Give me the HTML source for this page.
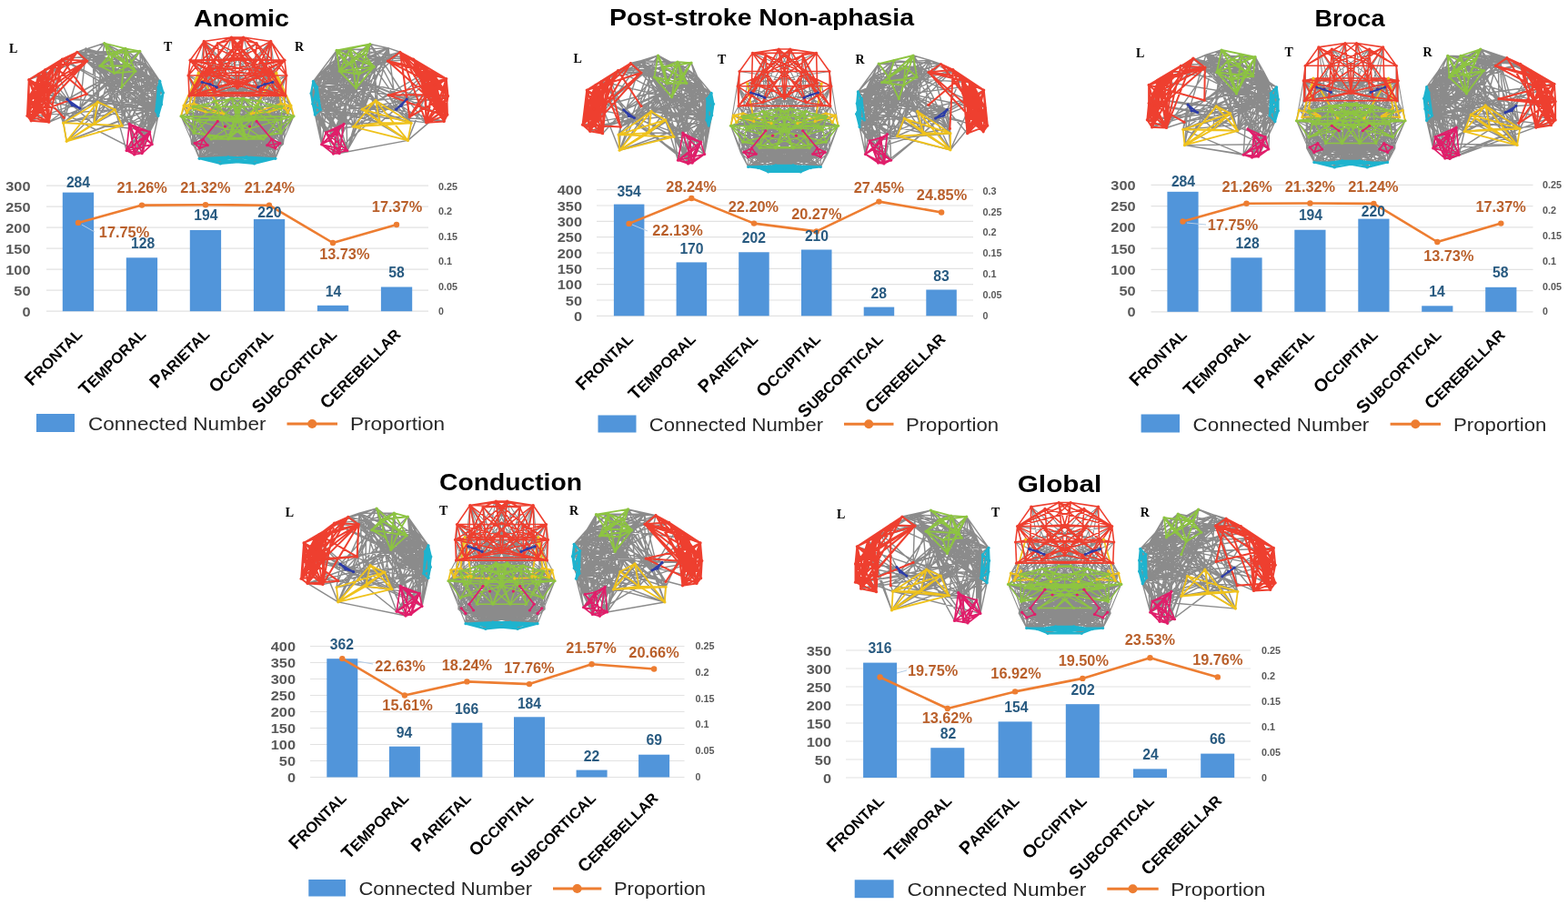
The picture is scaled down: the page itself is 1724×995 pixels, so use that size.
<!DOCTYPE html>
<html><head><meta charset="utf-8"><title>Brain network connectivity by aphasia type</title>
<style>html,body{margin:0;padding:0;background:#fff;}svg{display:block;}</style></head>
<body><svg width="1724" height="995" viewBox="0 0 1724 995">
<rect width="1724" height="995" fill="#fff"/>
<text x="265.5" y="28.5" font-family="'Liberation Sans', Arial, sans-serif" font-size="26.3" font-weight="bold" fill="#000" text-anchor="middle" textLength="105.0" lengthAdjust="spacingAndGlyphs">Anomic</text>
<text x="10.0" y="58.0" font-family="'Liberation Serif', 'Times New Roman', serif" font-size="14" font-weight="bold" fill="#000">L</text>
<text x="180.0" y="55.5" font-family="'Liberation Serif', 'Times New Roman', serif" font-size="14" font-weight="bold" fill="#000">T</text>
<text x="324.0" y="56.0" font-family="'Liberation Serif', 'Times New Roman', serif" font-size="14" font-weight="bold" fill="#000">R</text>
<g transform="translate(27.5,47.5) scale(0.6100,0.4900)" fill="none" stroke-linecap="round"><path d="M43 116L236 152M7 121L246 137M36 60L69 179M43 177L131 132M43 116L131 132M21 162L162 149M52 51L75 220M19 125L211 247M7 82L85 139M11 174L85 139M36 60L85 139M43 177L85 139M43 116L76 126M43 116L85 139M7 121L99 146M25 69L85 139M52 51L85 139M7 82L123 29M94 20L143 0M94 20L207 18M94 20L174 99M94 20L186 51M94 20L155 23M94 20L199 63M94 20L161 67M112 40L174 99M112 40L135 51M112 40L155 23M67 36L155 23M94 20L110 12M94 20L228 77M94 20L149 88M94 20L123 29M112 40L110 12M112 40L211 112M112 40L149 88M112 40L223 150M112 40L123 29M67 36L149 88M67 36L223 150M111 114L207 18M111 114L161 67M111 114L162 149M111 114L225 199M111 114L99 146M70 167L76 126M111 114L223 150M143 0L240 163M143 0L236 152M207 18L243 85M207 18L240 99M207 18L236 152M174 99L246 137M174 99L240 99M174 99L236 152M135 51L243 85M135 51L246 137M135 51L240 163M135 51L240 99M186 51L243 85M186 51L246 137M186 51L240 99M155 23L240 163M155 23L240 99M155 23L236 152M199 63L243 85M199 63L246 137M161 67L246 137M161 67L240 99M181 12L243 85M181 12L246 137M143 0L131 132M143 0L124 182M207 18L69 179M207 18L124 182M174 99L175 185M186 51L69 179M186 51L131 132M186 51L124 182M155 23L162 149M199 63L175 185M181 12L162 149M207 18L215 213M135 51L211 247M135 51L188 181M186 51L76 126M186 51L99 146M161 67L76 126M143 0L219 48M143 0L228 77M143 0L123 29M207 18L219 48M207 18L228 77M207 18L211 112M207 18L149 88M207 18L123 29M174 99L110 12M174 99L219 48M174 99L228 77M174 99L187 139M135 51L110 12M135 51L219 48M135 51L228 77M135 51L149 88M135 51L187 139M135 51L123 29M186 51L228 77M186 51L211 112M186 51L223 150M186 51L123 29M155 23L228 77M155 23L211 112M155 23L223 150M155 23L123 29M199 63L110 12M199 63L219 48M199 63L228 77M199 63L211 112M199 63L149 88M199 63L123 29M161 67L110 12M161 67L228 77M161 67L149 88M161 67L223 150M161 67L187 139M181 12L149 88M181 12L187 139M181 12L123 29M243 85L131 132M246 137L69 179M246 137L75 220M236 152L162 149M243 85L211 247M243 85L225 199M243 85L215 213M246 137L203 193M246 137L215 213M246 137L188 181M240 163L183 241M240 163L229 227M240 163L225 199M240 163L215 213M240 163L188 181M240 99L197 250M240 99L211 247M240 99L203 193M240 99L215 213M236 152L183 241M236 152L197 250M236 152L211 247M236 152L225 199M236 152L203 193M246 137L76 126M243 85L219 48M243 85L228 77M249 111L219 48M249 111L211 112M249 111L149 88M249 111L187 139M249 111L123 29M246 137L219 48M246 137L228 77M246 137L211 112M246 137L149 88M246 137L223 150M246 137L187 139M240 163L149 88M240 163L187 139M240 99L110 12M240 99L228 77M240 99L211 112M240 99L223 150M236 152L110 12M236 152L228 77M236 152L223 150M236 152L187 139M175 185L188 181M131 132L188 181M124 182L203 193M124 182L85 139M69 179L110 12M69 179L219 48M69 179L149 88M69 179L187 139M75 220L219 48M75 220L223 150M175 185L211 112M175 185L123 29M131 132L219 48M131 132L187 139M131 132L123 29M162 149L219 48M162 149L187 139M124 182L228 77M124 182L149 88M124 182L187 139M124 182L123 29M183 241L149 88M197 250L223 150M197 250L187 139M211 247L211 112M225 199L219 48M225 199L211 112M225 199L123 29M203 193L223 150M203 193L123 29M188 181L228 77M188 181L211 112M99 146L110 12M110 12L219 48M110 12L211 112M110 12L223 150M110 12L187 139M110 12L123 29M219 48L228 77M219 48L211 112M219 48L123 29M228 77L211 112M228 77L187 139M228 77L123 29M211 112L223 150M211 112L187 139M149 88L123 29M223 150L187 139M187 139L123 29" stroke="#8B8B8B" stroke-width="1.45" vector-effect="non-scaling-stroke"/><path d="M69 179L75 220M69 179L175 185M69 179L131 132M69 179L124 182M75 220L175 185M75 220L131 132M75 220L162 149M75 220L124 182M175 185L162 149M131 132L162 149M131 132L124 182M162 149L124 182" stroke="#EFC21C" stroke-width="1.80" vector-effect="non-scaling-stroke"/><path d="M143 0L155 23M143 0L199 63M143 0L161 67M143 0L181 12M207 18L186 51M207 18L155 23M207 18L181 12M174 99L199 63M174 99L181 12M135 51L186 51M135 51L155 23M135 51L161 67M135 51L181 12M186 51L199 63M186 51L161 67M186 51L181 12M155 23L199 63M155 23L161 67M155 23L181 12M199 63L161 67M199 63L181 12" stroke="#8DC441" stroke-width="1.80" vector-effect="non-scaling-stroke"/><path d="M243 85L249 111M243 85L240 163M243 85L240 99M243 85L236 152M249 111L246 137M249 111L240 163M249 111L240 99M249 111L236 152M246 137L240 163M246 137L240 99M246 137L236 152M240 163L236 152M240 99L236 152" stroke="#1EB3CE" stroke-width="2.20" vector-effect="non-scaling-stroke"/><path d="M183 241L197 250M183 241L211 247M183 241L229 227M183 241L225 199M183 241L203 193M183 241L215 213M183 241L188 181M197 250L211 247M197 250L225 199M197 250L203 193M197 250L215 213M197 250L188 181M211 247L229 227M211 247L225 199M211 247L215 213M211 247L188 181M229 227L225 199M229 227L203 193M229 227L215 213M229 227L188 181M225 199L203 193M225 199L215 213M225 199L188 181M203 193L215 213M203 193L188 181" stroke="#E01E6A" stroke-width="1.70" vector-effect="non-scaling-stroke"/><path d="M7 82L4 163M7 82L36 60M7 82L43 177M7 82L43 116M7 82L19 125M7 82L7 121M7 82L25 69M7 82L32 97M7 82L52 51M4 163L11 174M4 163L43 177M4 163L43 116M4 163L19 125M4 163L7 121M4 163L25 69M4 163L21 162M4 163L32 97M4 163L52 51M11 174L36 60M11 174L43 177M11 174L43 116M11 174L19 125M11 174L7 121M11 174L21 162M11 174L32 97M11 174L52 51M36 60L43 177M36 60L43 116M36 60L19 125M36 60L7 121M36 60L25 69M36 60L21 162M36 60L32 97M36 60L52 51M43 177L43 116M43 177L19 125M43 177L7 121M43 177L25 69M43 177L21 162M43 177L32 97M43 116L7 121M43 116L25 69M43 116L21 162M43 116L32 97M43 116L52 51M19 125L7 121M19 125L25 69M19 125L21 162M19 125L32 97M19 125L52 51M7 121L21 162M7 121L32 97M7 121L52 51M25 69L21 162M25 69L32 97M25 69L52 51M21 162L32 97M7 82L67 36M11 174L112 40M11 174L67 36M36 60L94 20M36 60L67 36M43 177L67 36M43 116L94 20M43 116L112 40M43 116L67 36M19 125L112 40M25 69L94 20M21 162L112 40M32 97L94 20M32 97L112 40M52 51L94 20M52 51L112 40M52 51L67 36M7 82L70 167M4 163L111 114M52 51L111 114M94 20L112 40M94 20L67 36M112 40L67 36M67 36L111 114" stroke="#EE3F2F" stroke-width="2.00" vector-effect="non-scaling-stroke"/><path d="M76 126L85 139M76 126L99 146M85 139L99 146" stroke="#2C3CA8" stroke-width="1.80" vector-effect="non-scaling-stroke"/><ellipse cx="69" cy="179" rx="2.6" ry="3.3" fill="#EFC21C"/><ellipse cx="75" cy="220" rx="2.6" ry="3.3" fill="#EFC21C"/><ellipse cx="175" cy="185" rx="2.6" ry="3.3" fill="#EFC21C"/><ellipse cx="131" cy="132" rx="2.6" ry="3.3" fill="#EFC21C"/><ellipse cx="162" cy="149" rx="2.6" ry="3.3" fill="#EFC21C"/><ellipse cx="124" cy="182" rx="2.6" ry="3.3" fill="#EFC21C"/><ellipse cx="143" cy="0" rx="2.6" ry="3.3" fill="#8DC441"/><ellipse cx="207" cy="18" rx="2.6" ry="3.3" fill="#8DC441"/><ellipse cx="174" cy="99" rx="2.6" ry="3.3" fill="#8DC441"/><ellipse cx="135" cy="51" rx="2.6" ry="3.3" fill="#8DC441"/><ellipse cx="186" cy="51" rx="2.6" ry="3.3" fill="#8DC441"/><ellipse cx="155" cy="23" rx="2.6" ry="3.3" fill="#8DC441"/><ellipse cx="199" cy="63" rx="2.6" ry="3.3" fill="#8DC441"/><ellipse cx="161" cy="67" rx="2.6" ry="3.3" fill="#8DC441"/><ellipse cx="181" cy="12" rx="2.6" ry="3.3" fill="#8DC441"/><ellipse cx="243" cy="85" rx="2.6" ry="3.3" fill="#1EB3CE"/><ellipse cx="249" cy="111" rx="2.6" ry="3.3" fill="#1EB3CE"/><ellipse cx="246" cy="137" rx="2.6" ry="3.3" fill="#1EB3CE"/><ellipse cx="240" cy="163" rx="2.6" ry="3.3" fill="#1EB3CE"/><ellipse cx="240" cy="99" rx="2.6" ry="3.3" fill="#1EB3CE"/><ellipse cx="236" cy="152" rx="2.6" ry="3.3" fill="#1EB3CE"/><ellipse cx="183" cy="241" rx="2.6" ry="3.3" fill="#E01E6A"/><ellipse cx="197" cy="250" rx="2.6" ry="3.3" fill="#E01E6A"/><ellipse cx="211" cy="247" rx="2.6" ry="3.3" fill="#E01E6A"/><ellipse cx="229" cy="227" rx="2.6" ry="3.3" fill="#E01E6A"/><ellipse cx="225" cy="199" rx="2.6" ry="3.3" fill="#E01E6A"/><ellipse cx="203" cy="193" rx="2.6" ry="3.3" fill="#E01E6A"/><ellipse cx="215" cy="213" rx="2.6" ry="3.3" fill="#E01E6A"/><ellipse cx="188" cy="181" rx="2.6" ry="3.3" fill="#E01E6A"/><ellipse cx="7" cy="82" rx="2.6" ry="3.3" fill="#EE3F2F"/><ellipse cx="4" cy="163" rx="2.6" ry="3.3" fill="#EE3F2F"/><ellipse cx="11" cy="174" rx="2.6" ry="3.3" fill="#EE3F2F"/><ellipse cx="36" cy="60" rx="2.6" ry="3.3" fill="#EE3F2F"/><ellipse cx="43" cy="177" rx="2.6" ry="3.3" fill="#EE3F2F"/><ellipse cx="43" cy="116" rx="2.6" ry="3.3" fill="#EE3F2F"/><ellipse cx="19" cy="125" rx="2.6" ry="3.3" fill="#EE3F2F"/><ellipse cx="7" cy="121" rx="2.6" ry="3.3" fill="#EE3F2F"/><ellipse cx="25" cy="69" rx="2.6" ry="3.3" fill="#EE3F2F"/><ellipse cx="21" cy="162" rx="2.6" ry="3.3" fill="#EE3F2F"/><ellipse cx="32" cy="97" rx="2.6" ry="3.3" fill="#EE3F2F"/><ellipse cx="52" cy="51" rx="2.6" ry="3.3" fill="#EE3F2F"/><ellipse cx="94" cy="20" rx="2.6" ry="3.3" fill="#EE3F2F"/><ellipse cx="112" cy="40" rx="2.6" ry="3.3" fill="#EE3F2F"/><ellipse cx="67" cy="36" rx="2.6" ry="3.3" fill="#EE3F2F"/><ellipse cx="111" cy="114" rx="2.6" ry="3.3" fill="#EE3F2F"/><ellipse cx="70" cy="167" rx="2.6" ry="3.3" fill="#EE3F2F"/><ellipse cx="76" cy="126" rx="2.6" ry="3.3" fill="#2C3CA8"/><ellipse cx="85" cy="139" rx="2.6" ry="3.3" fill="#2C3CA8"/><ellipse cx="99" cy="146" rx="2.6" ry="3.3" fill="#2C3CA8"/></g>
<g transform="translate(198.0,41.0) scale(0.5040,0.5600)" fill="none" stroke-linecap="round"><path d="M52 8L80 98M198 8L170 98M112 0L80 98M138 0L170 98M138 0L48 88M112 0L202 88M167 12L65 92M83 12L185 92M75 45L65 92M175 45L185 92M125 42L48 88M125 42L202 88M50 70L65 92M200 70L185 92M50 70L185 92M200 70L65 92M20 115L65 92M230 115L185 92M40 110L170 98M210 110L80 98M88 75L65 92M162 75L185 92M162 75L80 98M88 75L170 98M125 100L80 98M125 100L170 98M138 0L30 130M112 0L220 130M82 12L40 70M167 12L210 70M22 45L155 150M228 45L95 150M75 45L15 148M175 45L235 148M175 45L40 70M75 45L210 70M50 70L30 130M200 70L220 130M40 110L8 134M210 110L242 134M40 110L55 146M210 110L195 146M88 75L95 150M162 75L155 150M125 100L30 130M125 100L220 130M198 8L30 188M52 8L220 188M75 45L80 136M175 45L170 136M75 45L38 162M175 45L212 162M75 45L105 200M175 45L145 200M125 42L80 136M125 42L170 136M18 75L175 125M232 75L75 125M18 75L125 138M232 75L125 138M50 70L162 158M200 70L88 158M20 115L30 188M230 115L220 188M40 110L38 162M210 110L212 162M162 75L88 158M88 75L162 158M125 100L88 158M125 100L162 158M75 108L125 138M175 108L125 138M125 100L42 218M125 100L208 218M52 8L25 210M198 8L225 210M52 8L125 75M198 8L125 75M52 8L88 205M198 8L162 205M52 8L162 205M198 8L88 205M52 8L100 220M198 8L150 220M22 45L225 210M228 45L25 210M18 75L55 175M232 75L195 175M18 75L88 205M232 75L162 205M18 75L125 208M232 75L125 208M20 115L88 205M230 115L162 205M40 110L25 210M210 110L225 210M40 110L150 220M210 110L100 220M162 75L55 175M88 75L195 175M125 100L125 208M125 100L125 208M75 108L75 225M175 108L175 225M75 108L150 150M175 108L100 150M75 108L62 218M175 108L188 218M65 92L30 130M185 92L220 130M185 92L30 130M65 92L220 130M48 88L30 188M202 88L220 188M65 92L28 136M185 92L222 136M80 98L145 200M170 98L105 200M170 98L30 188M80 98L220 188M48 88L150 220M202 88L100 220M48 88L62 218M202 88L188 218M65 92L25 210M185 92L225 210M65 92L125 75M185 92L125 75M80 98L50 150M170 98L200 150M170 98L55 175M80 98L195 175M8 134L38 162M242 134L212 162M8 134L125 165M242 134L125 165M8 134L30 188M242 134L220 188M15 148L2 155M235 148L248 155M15 148L88 158M235 148L162 158M15 148L105 200M235 148L145 200M15 148L30 188M235 148L220 188M40 70L112 120M210 70L138 120M40 70L2 155M210 70L248 155M40 70L170 136M210 70L80 136M40 70L88 158M210 70L162 158M40 70L30 188M210 70L220 188M30 130L28 136M220 130L222 136M30 130L38 162M220 130L212 162M30 130L212 162M220 130L38 162M30 130L88 158M220 130L162 158M30 130L105 200M220 130L145 200M55 146L80 136M195 146L170 136M55 146L88 158M195 146L162 158M95 150L138 120M155 150L112 120M95 150L105 200M155 150L145 200M95 150L30 188M155 150L220 188M155 150L2 155M95 150L248 155M15 148L218 208M235 148L32 208M30 130L82 165M220 130L167 165M8 134L88 205M242 134L162 205M8 134L125 208M242 134L125 208M15 148L125 75M235 148L125 75M15 148L50 150M235 148L200 150M15 148L20 175M235 148L230 175M40 70L75 225M210 70L175 225M40 70L125 75M210 70L125 75M40 70L62 218M210 70L188 218M30 130L62 218M220 130L188 218M55 146L25 210M195 146L225 210M55 146L150 220M195 146L100 220M55 146L50 150M195 146L200 150M195 146L55 175M55 146L195 175M95 150L150 220M155 150L100 220M155 150L75 225M95 150L175 225M8 134L42 238M242 134L208 238M15 148L162 248M235 148L88 248M55 146L42 238M195 146L208 238M55 146L88 248M195 146L162 248M55 146L162 248M195 146L88 248M55 146L125 242M195 146L125 242M75 125L42 218M175 125L208 218M112 120L50 200M138 120L200 200M2 155L42 218M248 155L208 218M28 136L98 175M222 136L152 175M28 136L167 165M222 136L83 165M80 136L82 165M170 136L167 165M170 136L32 208M80 136L218 208M38 162L200 200M212 162L50 200M38 162L152 175M212 162L98 175M38 162L167 165M212 162L83 165M88 158L42 218M162 158L208 218M88 158L60 212M162 158L190 212M162 158L60 212M88 158L190 212M125 165L42 218M125 165L208 218M125 165L50 200M125 165L200 200M125 165L82 165M125 165L167 165M68 200L82 165M182 200L167 165M68 200L167 165M182 200L83 165M182 200L50 200M68 200L200 200M105 200L32 208M145 200L218 208M30 188L167 165M220 188L83 165M75 125L125 75M175 125L125 75M75 125L125 208M175 125L125 208M75 125L20 175M175 125L230 175M112 120L125 75M138 120L125 75M112 120L100 220M138 120L150 220M138 120L55 175M112 120L195 175M138 120L112 215M112 120L138 215M2 155L75 225M248 155L175 225M2 155L100 220M248 155L150 220M2 155L62 218M248 155L188 218M2 155L20 175M248 155L230 175M28 136L125 208M222 136L125 208M222 136L25 210M27 136L225 210M80 136L50 150M170 136L200 150M80 136L20 175M170 136L230 175M125 138L100 150M125 138L150 150M125 138L112 215M125 138L138 215M125 138L25 210M125 138L225 210M38 162L75 225M212 162L175 225M212 162L20 175M38 162L230 175M88 158L100 150M162 158L150 150M88 158L55 175M162 158L195 175M88 158L138 215M162 158L112 215M88 158L162 205M162 158L88 205M88 158L50 150M162 158L200 150M162 158L88 205M88 158L162 205M162 158L62 218M88 158L188 218M125 165L20 175M125 165L230 175M68 200L55 175M182 200L195 175M68 200L50 150M182 200L200 150M105 200L75 225M145 200L175 225M105 200L125 225M145 200L125 225M105 200L55 175M145 200L195 175M105 200L112 215M145 200L138 215M105 200L138 215M145 200L112 215M105 200L25 210M145 200L225 210M105 200L100 220M145 200L150 220M145 200L100 220M105 200L150 220M30 188L150 150M220 188L100 150M30 188L55 175M220 188L195 175M30 188L138 215M220 188L112 215M30 188L200 150M220 188L50 150M75 125L162 248M175 125L88 248M112 120L105 235M138 120L145 235M2 155L145 235M248 155L105 235M28 136L88 248M222 136L162 248M80 136L42 238M170 136L208 238M80 136L88 248M170 136L162 248M125 138L125 242M125 138L125 242M88 158L88 248M162 158L162 248M88 158L162 248M162 158L88 248M68 200L42 238M182 200L208 238M68 200L125 242M182 200L125 242M68 200L65 240M182 200L185 240M182 200L42 238M68 200L208 238M105 200L42 238M145 200L208 238M105 200L88 248M145 200L162 248M30 188L145 235M220 188L105 235M42 218L55 175M208 218L195 175M42 218L195 175M208 218L55 175M42 218L162 205M208 218L88 205M42 218L20 175M208 218L230 175M60 212L75 225M190 212L175 225M60 212L88 205M190 212L162 205M60 212L62 218M190 212L188 218M50 200L175 225M200 200L75 225M50 200L55 175M200 200L195 175M50 200L112 215M200 200L138 215M50 200L25 210M200 200L225 210M50 200L62 218M200 200L188 218M50 200L50 150M200 200L200 150M200 200L20 175M50 200L230 175M32 208L55 175M218 208L195 175M32 208L112 215M218 208L138 215M32 208L88 205M218 208L162 205M32 208L150 220M218 208L100 220M32 208L62 218M218 208L188 218M32 208L50 150M218 208L200 150M32 208L20 175M218 208L230 175M218 208L20 175M32 208L230 175M98 175L125 208M152 175L125 208M98 175L100 220M152 175L150 220M98 175L150 220M152 175L100 220M98 175L20 175M152 175L230 175M82 165L75 225M167 165L175 225M82 165L125 225M167 165L125 225M82 165L112 215M167 165L138 215M82 165L138 215M167 165L112 215M82 165L62 218M167 165L188 218M42 218L88 248M208 218L162 248M42 218L105 235M208 218L145 235M208 218L42 238M43 218L208 238M60 212L42 238M190 212L208 238M60 212L88 248M190 212L162 248M60 212L185 240M190 212L65 240M50 200L125 242M200 200L125 242M50 200L65 240M200 200L185 240M32 208L208 238M218 208L43 238M98 175L88 248M152 175L162 248M98 175L105 235M152 175L145 235M98 175L65 240M152 175L185 240M152 175L65 240M98 175L185 240M82 165L162 248M167 165L88 248M167 165L42 238M83 165L208 238M75 225L150 150M175 225L100 150M75 225L55 175M175 225L195 175M75 225L162 205M175 225L88 205M75 225L125 208M175 225L125 208M75 225L62 218M175 225L188 218M75 225L50 150M175 225L200 150M75 225L20 175M175 225L230 175M175 225L62 218M75 225L188 218M175 225L20 175M75 225L230 175M125 225L88 205M125 225L162 205M125 225L125 208M125 225L125 208M125 225L100 220M125 225L150 220M125 225L62 218M125 225L188 218M125 225L50 150M125 225L200 150M100 150L112 215M150 150L138 215M100 150L25 210M150 150L225 210M100 150L100 220M150 150L150 220M100 150L150 220M150 150L100 220M100 150L62 218M150 150L188 218M100 150L20 175M150 150L230 175M150 150L55 175M100 150L195 175M150 150L88 205M100 150L162 205M150 150L62 218M100 150L188 218M150 150L20 175M100 150L230 175M55 175L112 215M195 175L138 215M55 175L138 215M195 175L112 215M55 175L25 210M195 175L225 210M55 175L150 220M195 175L100 220M112 215L138 215M138 215L112 215M112 215L88 205M138 215L162 205M112 215L50 150M138 215L200 150M112 215L20 175M138 215L230 175M138 215L88 205M112 215L162 205M138 215L100 220M112 215L150 220M138 215L50 150M112 215L200 150M25 210L188 218M225 210L62 218M25 210L20 175M225 210L230 175M88 205L125 208M162 205L125 208M88 205L100 220M162 205L150 220M88 205L62 218M162 205L188 218M88 205L50 150M162 205L200 150M88 205L20 175M162 205L230 175M125 208L100 220M125 208L150 220M100 220L62 218M150 220L188 218M62 218L20 175M188 218L230 175M50 150L20 175M200 150L230 175M75 225L42 238M175 225L208 238M75 225L88 248M175 225L162 248M75 225L105 235M175 225L145 235M75 225L65 240M175 225L185 240M175 225L42 238M75 225L208 238M125 225L42 238M125 225L208 238M125 225L125 242M125 225L125 242M125 225L105 235M125 225L145 235M100 150L125 242M150 150L125 242M100 150L105 235M150 150L145 235M100 150L65 240M150 150L185 240M150 150L42 238M100 150L208 238M55 175L42 238M195 175L208 238M55 175L105 235M195 175L145 235M55 175L185 240M195 175L65 240M112 215L42 238M138 215L208 238M112 215L88 248M138 215L162 248M112 215L125 242M138 215L125 242M112 215L105 235M138 215L145 235M112 215L65 240M138 215L185 240M138 215L88 248M112 215L162 248M138 215L105 235M112 215L145 235M138 215L65 240M112 215L185 240M25 210L208 238M225 210L43 238M25 210L162 248M225 210L88 248M25 210L105 235M225 210L145 235M25 210L145 235M225 210L105 235M25 210L65 240M225 210L185 240M25 210L185 240M225 210L65 240M88 205L42 238M162 205L208 238M88 205L162 248M162 205L88 248M88 205L105 235M162 205L145 235M88 205L65 240M162 205L185 240M162 205L88 248M88 205L162 248M162 205L65 240M88 205L185 240M125 208L88 248M125 208L162 248M125 208L65 240M125 208L185 240M100 220L88 248M150 220L162 248M100 220L125 242M150 220L125 242M100 220L105 235M150 220L145 235M100 220L145 235M150 220L105 235M100 220L65 240M150 220L185 240M62 218L42 238M188 218L208 238M62 218L88 248M188 218L162 248M62 218L162 248M188 218L88 248M62 218L125 242M188 218L125 242M62 218L105 235M188 218L145 235M62 218L145 235M188 218L105 235M62 218L65 240M188 218L185 240M50 150L162 248M200 150L88 248M50 150L125 242M200 150L125 242M20 115L8 134M230 115L242 134M30 188L42 218M220 188L208 218M42 218L42 238M208 218L208 238M2 155L42 238M248 155L208 238" stroke="#8B8B8B" stroke-width="1.09" vector-effect="non-scaling-stroke"/><path d="M8 134L15 148M242 134L235 148M8 134L40 70M242 134L210 70M8 134L30 130M242 134L220 130M8 134L55 146M242 134L195 146M15 148L40 70M235 148L210 70M15 148L30 130M235 148L220 130M40 70L30 130M210 70L220 130M40 70L95 150M210 70L155 150M30 130L55 146M220 130L195 146M30 130L95 150M220 130L155 150M55 146L95 150M195 146L155 150M8 134L2 155M242 134L248 155" stroke="#EFC21C" stroke-width="1.80" vector-effect="non-scaling-stroke"/><path d="M75 125L138 120M175 125L112 120M75 125L2 155M175 125L248 155M75 125L80 136M175 125L170 136M75 125L145 200M175 125L105 200M112 120L138 120M138 120L112 120M112 120L28 136M138 120L222 136M112 120L80 136M138 120L170 136M112 120L125 165M138 120L125 165M112 120L30 188M138 120L220 188M138 120L88 158M112 120L162 158M138 120L105 200M112 120L145 200M2 155L38 162M248 155L212 162M2 155L212 162M248 155L38 162M2 155L68 200M248 155L182 200M2 155L182 200M248 155L68 200M28 136L80 136M222 136L170 136M28 136L125 165M222 136L125 165M28 136L30 188M222 136L220 188M80 136L125 138M170 136L125 138M80 136L38 162M170 136L212 162M80 136L88 158M170 136L162 158M170 136L68 200M80 136L182 200M125 138L125 165M125 138L125 165M125 138L105 200M125 138L145 200M38 162L212 162M212 162L38 162M38 162L125 165M212 162L125 165M38 162L68 200M212 162L182 200M38 162L30 188M212 162L220 188M88 158L105 200M162 158L145 200M88 158L145 200M162 158L105 200M125 165L105 200M125 165L145 200M105 200L145 200M145 200L105 200M105 200L30 188M145 200L220 188M145 200L30 188M105 200L220 188M2 155L30 188M248 155L220 188M28 136L222 136M222 136L27 136M2 155L248 155M248 155L3 155M68 200L182 200M182 200L68 200" stroke="#8DC441" stroke-width="1.35" vector-effect="non-scaling-stroke"/><path d="M42 238L88 248M208 238L162 248M42 238L162 248M208 238L88 248M42 238L105 235M208 238L145 235M88 248L125 242M162 248L125 242M88 248L105 235M162 248L145 235M88 248L65 240M162 248L185 240M162 248L65 240M88 248L185 240M125 242L105 235M125 242L145 235M125 242L65 240M125 242L185 240M145 235L65 240M105 235L185 240M42 238L125 242M208 238L125 242" stroke="#1EB3CE" stroke-width="2.20" vector-effect="non-scaling-stroke"/><path d="M42 218L60 212M208 218L190 212M42 218L50 200M208 218L200 200M42 218L32 208M208 218L218 208M60 212L50 200M190 212L200 200M60 212L32 208M190 212L218 208M50 200L32 208M200 200L218 208M50 200L82 165M200 200L167 165" stroke="#E01E6A" stroke-width="1.70" vector-effect="non-scaling-stroke"/><path d="M52 8L125 42M198 8L125 42M52 8L18 75M198 8L232 75M52 8L88 75M198 8L162 75M52 8L75 108M198 8L175 108M112 0L82 12M138 0L167 12M112 0L125 42M138 0L125 42M112 0L50 70M138 0L200 70M112 0L20 115M138 0L230 115M138 0L82 12M112 0L167 12M138 0L20 115M112 0L230 115M138 0L40 110M112 0L210 110M138 0L88 75M112 0L162 75M138 0L75 108M112 0L175 108M82 12L18 75M167 12L232 75M82 12L20 115M167 12L230 115M167 12L50 70M83 12L200 70M22 45L125 42M228 45L125 42M22 45L50 70M228 45L200 70M22 45L200 70M228 45L50 70M22 45L88 75M228 45L162 75M22 45L162 75M228 45L88 75M22 45L125 100M228 45L125 100M22 45L75 108M228 45L175 108M75 45L50 70M175 45L200 70M75 45L40 110M175 45L210 110M75 45L88 75M175 45L162 75M125 42L50 70M125 42L200 70M18 75L232 75M232 75L18 75M18 75L40 110M232 75L210 110M18 75L162 75M232 75L88 75M50 70L200 70M200 70L50 70M50 70L20 115M200 70L230 115M50 70L75 108M200 70L175 108M50 70L175 108M200 70L75 108M200 70L20 115M50 70L230 115M20 115L88 75M230 115L162 75M20 115L162 75M230 115L88 75M20 115L75 108M230 115L175 108M20 115L175 108M230 115L75 108M40 110L75 108M210 110L175 108M88 75L162 75M162 75L88 75M75 108L175 108M175 108L75 108M52 8L112 0M198 8L138 0M112 0L138 0M138 0L112 0M52 8L22 45M198 8L228 45M22 45L18 75M228 45L232 75M18 75L20 115M232 75L230 115M22 45L228 45M228 45L22 45M18 75L232 75M232 75L17 75M20 115L230 115M230 115L20 115M52 8L50 70M198 8L200 70M82 12L88 75M167 12L162 75M112 0L125 100M138 0L125 100M52 8L125 100M198 8L125 100" stroke="#EE3F2F" stroke-width="1.60" vector-effect="non-scaling-stroke"/><path d="M48 88L65 92M202 88L185 92M65 92L80 98M185 92L170 98" stroke="#2C3CA8" stroke-width="1.80" vector-effect="non-scaling-stroke"/><ellipse cx="8" cy="134" rx="3.2" ry="2.9" fill="#EFC21C"/><ellipse cx="242" cy="134" rx="3.2" ry="2.9" fill="#EFC21C"/><ellipse cx="15" cy="148" rx="3.2" ry="2.9" fill="#EFC21C"/><ellipse cx="235" cy="148" rx="3.2" ry="2.9" fill="#EFC21C"/><ellipse cx="40" cy="70" rx="3.2" ry="2.9" fill="#EFC21C"/><ellipse cx="210" cy="70" rx="3.2" ry="2.9" fill="#EFC21C"/><ellipse cx="30" cy="130" rx="3.2" ry="2.9" fill="#EFC21C"/><ellipse cx="220" cy="130" rx="3.2" ry="2.9" fill="#EFC21C"/><ellipse cx="55" cy="146" rx="3.2" ry="2.9" fill="#EFC21C"/><ellipse cx="195" cy="146" rx="3.2" ry="2.9" fill="#EFC21C"/><ellipse cx="95" cy="150" rx="3.2" ry="2.9" fill="#EFC21C"/><ellipse cx="155" cy="150" rx="3.2" ry="2.9" fill="#EFC21C"/><ellipse cx="75" cy="125" rx="3.2" ry="2.9" fill="#8DC441"/><ellipse cx="175" cy="125" rx="3.2" ry="2.9" fill="#8DC441"/><ellipse cx="112" cy="120" rx="3.2" ry="2.9" fill="#8DC441"/><ellipse cx="138" cy="120" rx="3.2" ry="2.9" fill="#8DC441"/><ellipse cx="2" cy="155" rx="3.2" ry="2.9" fill="#8DC441"/><ellipse cx="248" cy="155" rx="3.2" ry="2.9" fill="#8DC441"/><ellipse cx="28" cy="136" rx="3.2" ry="2.9" fill="#8DC441"/><ellipse cx="222" cy="136" rx="3.2" ry="2.9" fill="#8DC441"/><ellipse cx="80" cy="136" rx="3.2" ry="2.9" fill="#8DC441"/><ellipse cx="170" cy="136" rx="3.2" ry="2.9" fill="#8DC441"/><ellipse cx="125" cy="138" rx="3.2" ry="2.9" fill="#8DC441"/><ellipse cx="38" cy="162" rx="3.2" ry="2.9" fill="#8DC441"/><ellipse cx="212" cy="162" rx="3.2" ry="2.9" fill="#8DC441"/><ellipse cx="88" cy="158" rx="3.2" ry="2.9" fill="#8DC441"/><ellipse cx="162" cy="158" rx="3.2" ry="2.9" fill="#8DC441"/><ellipse cx="125" cy="165" rx="3.2" ry="2.9" fill="#8DC441"/><ellipse cx="68" cy="200" rx="3.2" ry="2.9" fill="#8DC441"/><ellipse cx="182" cy="200" rx="3.2" ry="2.9" fill="#8DC441"/><ellipse cx="105" cy="200" rx="3.2" ry="2.9" fill="#8DC441"/><ellipse cx="145" cy="200" rx="3.2" ry="2.9" fill="#8DC441"/><ellipse cx="30" cy="188" rx="3.2" ry="2.9" fill="#8DC441"/><ellipse cx="220" cy="188" rx="3.2" ry="2.9" fill="#8DC441"/><ellipse cx="42" cy="238" rx="3.2" ry="2.9" fill="#1EB3CE"/><ellipse cx="208" cy="238" rx="3.2" ry="2.9" fill="#1EB3CE"/><ellipse cx="88" cy="248" rx="3.2" ry="2.9" fill="#1EB3CE"/><ellipse cx="162" cy="248" rx="3.2" ry="2.9" fill="#1EB3CE"/><ellipse cx="125" cy="242" rx="3.2" ry="2.9" fill="#1EB3CE"/><ellipse cx="105" cy="235" rx="3.2" ry="2.9" fill="#1EB3CE"/><ellipse cx="145" cy="235" rx="3.2" ry="2.9" fill="#1EB3CE"/><ellipse cx="65" cy="240" rx="3.2" ry="2.9" fill="#1EB3CE"/><ellipse cx="185" cy="240" rx="3.2" ry="2.9" fill="#1EB3CE"/><ellipse cx="42" cy="218" rx="3.2" ry="2.9" fill="#E01E6A"/><ellipse cx="208" cy="218" rx="3.2" ry="2.9" fill="#E01E6A"/><ellipse cx="60" cy="212" rx="3.2" ry="2.9" fill="#E01E6A"/><ellipse cx="190" cy="212" rx="3.2" ry="2.9" fill="#E01E6A"/><ellipse cx="50" cy="200" rx="3.2" ry="2.9" fill="#E01E6A"/><ellipse cx="200" cy="200" rx="3.2" ry="2.9" fill="#E01E6A"/><ellipse cx="32" cy="208" rx="3.2" ry="2.9" fill="#E01E6A"/><ellipse cx="218" cy="208" rx="3.2" ry="2.9" fill="#E01E6A"/><ellipse cx="98" cy="175" rx="3.2" ry="2.9" fill="#E01E6A"/><ellipse cx="152" cy="175" rx="3.2" ry="2.9" fill="#E01E6A"/><ellipse cx="82" cy="165" rx="3.2" ry="2.9" fill="#E01E6A"/><ellipse cx="167" cy="165" rx="3.2" ry="2.9" fill="#E01E6A"/><ellipse cx="52" cy="8" rx="3.2" ry="2.9" fill="#EE3F2F"/><ellipse cx="198" cy="8" rx="3.2" ry="2.9" fill="#EE3F2F"/><ellipse cx="112" cy="0" rx="3.2" ry="2.9" fill="#EE3F2F"/><ellipse cx="138" cy="0" rx="3.2" ry="2.9" fill="#EE3F2F"/><ellipse cx="82" cy="12" rx="3.2" ry="2.9" fill="#EE3F2F"/><ellipse cx="167" cy="12" rx="3.2" ry="2.9" fill="#EE3F2F"/><ellipse cx="22" cy="45" rx="3.2" ry="2.9" fill="#EE3F2F"/><ellipse cx="228" cy="45" rx="3.2" ry="2.9" fill="#EE3F2F"/><ellipse cx="75" cy="45" rx="3.2" ry="2.9" fill="#EE3F2F"/><ellipse cx="175" cy="45" rx="3.2" ry="2.9" fill="#EE3F2F"/><ellipse cx="125" cy="42" rx="3.2" ry="2.9" fill="#EE3F2F"/><ellipse cx="18" cy="75" rx="3.2" ry="2.9" fill="#EE3F2F"/><ellipse cx="232" cy="75" rx="3.2" ry="2.9" fill="#EE3F2F"/><ellipse cx="50" cy="70" rx="3.2" ry="2.9" fill="#EE3F2F"/><ellipse cx="200" cy="70" rx="3.2" ry="2.9" fill="#EE3F2F"/><ellipse cx="20" cy="115" rx="3.2" ry="2.9" fill="#EE3F2F"/><ellipse cx="230" cy="115" rx="3.2" ry="2.9" fill="#EE3F2F"/><ellipse cx="40" cy="110" rx="3.2" ry="2.9" fill="#EE3F2F"/><ellipse cx="210" cy="110" rx="3.2" ry="2.9" fill="#EE3F2F"/><ellipse cx="88" cy="75" rx="3.2" ry="2.9" fill="#EE3F2F"/><ellipse cx="162" cy="75" rx="3.2" ry="2.9" fill="#EE3F2F"/><ellipse cx="125" cy="100" rx="3.2" ry="2.9" fill="#EE3F2F"/><ellipse cx="75" cy="108" rx="3.2" ry="2.9" fill="#EE3F2F"/><ellipse cx="175" cy="108" rx="3.2" ry="2.9" fill="#EE3F2F"/><ellipse cx="48" cy="88" rx="3.2" ry="2.9" fill="#2C3CA8"/><ellipse cx="202" cy="88" rx="3.2" ry="2.9" fill="#2C3CA8"/><ellipse cx="65" cy="92" rx="3.2" ry="2.9" fill="#2C3CA8"/><ellipse cx="185" cy="92" rx="3.2" ry="2.9" fill="#2C3CA8"/><ellipse cx="80" cy="98" rx="3.2" ry="2.9" fill="#2C3CA8"/><ellipse cx="170" cy="98" rx="3.2" ry="2.9" fill="#2C3CA8"/></g>
<g transform="translate(342.0,48.0) scale(0.6120,0.4880)" fill="none" stroke-linecap="round"><path d="M207 178L17 149M211 61L92 148M206 115L174 218M206 115L116 128M230 158L174 218M211 61L40 248M239 175L153 148M211 61L153 148M207 178L172 125M207 178L162 140M206 115L172 125M230 127L172 125M246 118L162 140M222 72L172 125M230 158L172 125M239 175L27 150M230 127L99 89M160 19L86 69M138 39L113 52M138 39L94 23M184 35L64 48M184 35L70 11M138 39L11 98M160 19L139 10M160 19L63 138M160 19L124 31M138 39L139 10M138 39L21 75M138 39L27 150M138 39L124 31M184 35L124 31M139 116L51 62M139 116L180 179M139 116L92 148M139 116L153 148M177 165L172 125M177 165L162 140M177 165L21 75M106 1L17 149M46 15L4 85M46 15L11 98M81 100L4 85M81 100L0 112M81 100L3 136M113 52L4 85M113 52L0 112M113 52L3 136M113 52L17 149M64 48L4 85M64 48L0 112M64 48L17 149M94 23L4 85M51 62L0 112M86 69L0 112M86 69L11 98M70 11L4 85M70 11L3 136M70 11L7 160M70 11L17 149M106 1L180 179M46 15L76 187M46 15L116 128M81 100L92 148M113 52L76 187M113 52L116 128M113 52L124 178M64 48L116 128M94 23L92 148M51 62L92 148M51 62L124 178M86 69L76 187M106 1L59 181M81 100L59 181M64 48L47 192M94 23L27 200M51 62L34 217M86 69L27 200M86 69L34 217M70 11L59 181M81 100L172 125M113 52L162 140M51 62L172 125M106 1L139 10M106 1L21 75M106 1L99 89M106 1L27 150M106 1L124 31M46 15L139 10M46 15L21 75M46 15L37 113M46 15L27 150M46 15L124 31M81 100L37 113M81 100L99 89M81 100L27 150M81 100L63 138M113 52L29 51M113 52L63 138M113 52L124 31M64 48L29 51M64 48L21 75M64 48L37 113M64 48L99 89M94 23L29 51M94 23L21 75M94 23L37 113M94 23L63 138M51 62L139 10M51 62L29 51M51 62L21 75M51 62L37 113M51 62L99 89M51 62L124 31M86 69L29 51M86 69L21 75M86 69L37 113M86 69L99 89M86 69L27 150M86 69L124 31M70 11L29 51M70 11L21 75M70 11L37 113M0 112L76 187M3 136L124 178M11 98L180 179M11 98L174 218M11 98L76 187M4 85L65 241M4 85L19 227M4 85L27 200M4 85L59 181M0 112L19 227M0 112L27 200M0 112L47 192M0 112L34 217M0 112L59 181M3 136L19 227M3 136L27 200M3 136L47 192M7 160L65 241M7 160L51 247M7 160L27 200M7 160L47 192M7 160L34 217M11 98L65 241M11 98L19 227M11 98L47 192M11 98L59 181M17 149L40 248M17 149L27 200M17 149L47 192M4 85L139 10M4 85L29 51M4 85L21 75M4 85L37 113M4 85L27 150M0 112L29 51M0 112L21 75M0 112L37 113M0 112L99 89M0 112L63 138M3 136L21 75M3 136L37 113M3 136L27 150M7 160L29 51M7 160L37 113M7 160L27 150M11 98L139 10M11 98L21 75M11 98L37 113M11 98L99 89M11 98L27 150M11 98L124 31M17 149L29 51M17 149L37 113M17 149L99 89M17 149L27 150M17 149L63 138M174 218L51 247M76 187L47 192M116 128L65 241M116 128L51 247M116 128L47 192M92 148L47 192M92 148L59 181M124 178L59 181M180 179L162 140M76 187L172 125M92 148L172 125M92 148L153 148M124 178L172 125M180 179L99 89M180 179L63 138M116 128L139 10M116 128L29 51M92 148L139 10M92 148L29 51M92 148L99 89M92 148L63 138M124 178L29 51M124 178L21 75M124 178L99 89M124 178L27 150M65 241L139 10M65 241L37 113M65 241L99 89M65 241L63 138M65 241L124 31M51 247L27 150M51 247L63 138M40 248L99 89M40 248L63 138M19 227L27 150M47 192L27 150M47 192L63 138M34 217L139 10M34 217L37 113M59 181L29 51M59 181L21 75M59 181L27 150M172 125L29 51M172 125L99 89M172 125L124 31M162 140L27 150M153 148L139 10M153 148L63 138M139 10L29 51M139 10L99 89M139 10L63 138M29 51L21 75M29 51L99 89M29 51L124 31M21 75L37 113M21 75L124 31M37 113L99 89M37 113L63 138M99 89L27 150M99 89L124 31M27 150L63 138M27 150L124 31" stroke="#8B8B8B" stroke-width="1.45" vector-effect="non-scaling-stroke"/><path d="M180 179L174 218M180 179L76 187M180 179L116 128M180 179L92 148M180 179L124 178M174 218L76 187M174 218L116 128M174 218L92 148M174 218L124 178M76 187L116 128M76 187L124 178M116 128L92 148M116 128L124 178M92 148L124 178" stroke="#EFC21C" stroke-width="1.80" vector-effect="non-scaling-stroke"/><path d="M106 1L46 15M106 1L64 48M106 1L94 23M106 1L86 69M106 1L70 11M46 15L113 52M46 15L64 48M46 15L51 62M46 15L86 69M46 15L70 11M81 100L113 52M81 100L51 62M81 100L86 69M81 100L70 11M113 52L94 23M113 52L51 62M113 52L86 69M113 52L70 11M64 48L94 23M64 48L51 62M94 23L51 62M51 62L86 69M51 62L70 11M86 69L70 11" stroke="#8DC441" stroke-width="1.80" vector-effect="non-scaling-stroke"/><path d="M4 85L0 112M4 85L11 98M4 85L17 149M0 112L3 136M0 112L7 160M3 136L7 160M3 136L11 98M3 136L17 149M7 160L11 98M7 160L17 149M11 98L17 149" stroke="#1EB3CE" stroke-width="2.20" vector-effect="non-scaling-stroke"/><path d="M65 241L40 248M65 241L19 227M65 241L27 200M65 241L47 192M51 247L40 248M51 247L19 227M51 247L27 200M51 247L47 192M51 247L34 217M51 247L59 181M40 248L19 227M40 248L47 192M19 227L27 200M19 227L47 192M19 227L34 217M19 227L59 181M27 200L47 192M27 200L34 217M27 200L59 181M47 192L34 217M47 192L59 181M34 217L59 181" stroke="#E01E6A" stroke-width="1.70" vector-effect="non-scaling-stroke"/><path d="M243 79L245 160M243 79L239 175M243 79L211 61M243 79L206 115M243 79L230 127M243 79L246 118M243 79L222 72M243 79L230 158M243 79L222 93M245 160L239 175M245 160L211 61M245 160L207 178M245 160L206 115M245 160L230 127M245 160L230 158M245 160L222 93M245 160L202 52M239 175L211 61M239 175L207 178M239 175L206 115M239 175L230 127M239 175L246 118M239 175L222 72M239 175L230 158M239 175L222 93M211 61L206 115M211 61L246 118M211 61L222 72M211 61L230 158M211 61L222 93M211 61L202 52M207 178L206 115M207 178L230 127M207 178L246 118M207 178L222 72M207 178L230 158M207 178L222 93M207 178L202 52M206 115L230 127M206 115L246 118M206 115L222 72M206 115L230 158M206 115L222 93M206 115L202 52M230 127L246 118M230 127L230 158M230 127L222 93M246 118L222 72M246 118L230 158M246 118L222 93M246 118L202 52M222 72L222 93M230 158L202 52M243 79L184 35M245 160L160 19M245 160L138 39M245 160L184 35M239 175L184 35M211 61L160 19M211 61L138 39M211 61L184 35M207 178L160 19M206 115L160 19M206 115L184 35M230 127L160 19M230 127L184 35M246 118L184 35M222 72L160 19M222 72L138 39M222 72L184 35M230 158L184 35M222 93L160 19M222 93L138 39M202 52L160 19M202 52L184 35M243 79L139 116M206 115L139 116M230 127L177 165M222 72L177 165M230 158L139 116M222 93L177 165M160 19L138 39M160 19L184 35M160 19L177 165" stroke="#EE3F2F" stroke-width="2.00" vector-effect="non-scaling-stroke"/><path d="M172 125L162 140M172 125L153 148M162 140L153 148" stroke="#2C3CA8" stroke-width="1.80" vector-effect="non-scaling-stroke"/><ellipse cx="180" cy="179" rx="2.6" ry="3.3" fill="#EFC21C"/><ellipse cx="174" cy="218" rx="2.6" ry="3.3" fill="#EFC21C"/><ellipse cx="76" cy="187" rx="2.6" ry="3.3" fill="#EFC21C"/><ellipse cx="116" cy="128" rx="2.6" ry="3.3" fill="#EFC21C"/><ellipse cx="92" cy="148" rx="2.6" ry="3.3" fill="#EFC21C"/><ellipse cx="124" cy="178" rx="2.6" ry="3.3" fill="#EFC21C"/><ellipse cx="106" cy="1" rx="2.6" ry="3.3" fill="#8DC441"/><ellipse cx="46" cy="15" rx="2.6" ry="3.3" fill="#8DC441"/><ellipse cx="81" cy="100" rx="2.6" ry="3.3" fill="#8DC441"/><ellipse cx="113" cy="52" rx="2.6" ry="3.3" fill="#8DC441"/><ellipse cx="64" cy="48" rx="2.6" ry="3.3" fill="#8DC441"/><ellipse cx="94" cy="23" rx="2.6" ry="3.3" fill="#8DC441"/><ellipse cx="51" cy="62" rx="2.6" ry="3.3" fill="#8DC441"/><ellipse cx="86" cy="69" rx="2.6" ry="3.3" fill="#8DC441"/><ellipse cx="70" cy="11" rx="2.6" ry="3.3" fill="#8DC441"/><ellipse cx="4" cy="85" rx="2.6" ry="3.3" fill="#1EB3CE"/><ellipse cx="0" cy="112" rx="2.6" ry="3.3" fill="#1EB3CE"/><ellipse cx="3" cy="136" rx="2.6" ry="3.3" fill="#1EB3CE"/><ellipse cx="7" cy="160" rx="2.6" ry="3.3" fill="#1EB3CE"/><ellipse cx="11" cy="98" rx="2.6" ry="3.3" fill="#1EB3CE"/><ellipse cx="17" cy="149" rx="2.6" ry="3.3" fill="#1EB3CE"/><ellipse cx="65" cy="241" rx="2.6" ry="3.3" fill="#E01E6A"/><ellipse cx="51" cy="247" rx="2.6" ry="3.3" fill="#E01E6A"/><ellipse cx="40" cy="248" rx="2.6" ry="3.3" fill="#E01E6A"/><ellipse cx="19" cy="227" rx="2.6" ry="3.3" fill="#E01E6A"/><ellipse cx="27" cy="200" rx="2.6" ry="3.3" fill="#E01E6A"/><ellipse cx="47" cy="192" rx="2.6" ry="3.3" fill="#E01E6A"/><ellipse cx="34" cy="217" rx="2.6" ry="3.3" fill="#E01E6A"/><ellipse cx="59" cy="181" rx="2.6" ry="3.3" fill="#E01E6A"/><ellipse cx="243" cy="79" rx="2.6" ry="3.3" fill="#EE3F2F"/><ellipse cx="245" cy="160" rx="2.6" ry="3.3" fill="#EE3F2F"/><ellipse cx="239" cy="175" rx="2.6" ry="3.3" fill="#EE3F2F"/><ellipse cx="211" cy="61" rx="2.6" ry="3.3" fill="#EE3F2F"/><ellipse cx="207" cy="178" rx="2.6" ry="3.3" fill="#EE3F2F"/><ellipse cx="206" cy="115" rx="2.6" ry="3.3" fill="#EE3F2F"/><ellipse cx="230" cy="127" rx="2.6" ry="3.3" fill="#EE3F2F"/><ellipse cx="246" cy="118" rx="2.6" ry="3.3" fill="#EE3F2F"/><ellipse cx="222" cy="72" rx="2.6" ry="3.3" fill="#EE3F2F"/><ellipse cx="230" cy="158" rx="2.6" ry="3.3" fill="#EE3F2F"/><ellipse cx="222" cy="93" rx="2.6" ry="3.3" fill="#EE3F2F"/><ellipse cx="202" cy="52" rx="2.6" ry="3.3" fill="#EE3F2F"/><ellipse cx="160" cy="19" rx="2.6" ry="3.3" fill="#EE3F2F"/><ellipse cx="138" cy="39" rx="2.6" ry="3.3" fill="#EE3F2F"/><ellipse cx="184" cy="35" rx="2.6" ry="3.3" fill="#EE3F2F"/><ellipse cx="139" cy="116" rx="2.6" ry="3.3" fill="#EE3F2F"/><ellipse cx="177" cy="165" rx="2.6" ry="3.3" fill="#EE3F2F"/><ellipse cx="172" cy="125" rx="2.6" ry="3.3" fill="#2C3CA8"/><ellipse cx="162" cy="140" rx="2.6" ry="3.3" fill="#2C3CA8"/><ellipse cx="153" cy="148" rx="2.6" ry="3.3" fill="#2C3CA8"/></g>
<line x1="51" y1="342.2" x2="471" y2="342.2" stroke="#E2E2E2" stroke-width="1.2"/>
<text x="33.5" y="347.7" font-family="'Liberation Sans', Arial, sans-serif" font-size="15.5" font-weight="bold" fill="#595959" text-anchor="end" textLength="9.1" lengthAdjust="spacingAndGlyphs">0</text>
<line x1="51" y1="319.2" x2="471" y2="319.2" stroke="#E2E2E2" stroke-width="1.2"/>
<text x="33.5" y="324.7" font-family="'Liberation Sans', Arial, sans-serif" font-size="15.5" font-weight="bold" fill="#595959" text-anchor="end" textLength="18.2" lengthAdjust="spacingAndGlyphs">50</text>
<line x1="51" y1="296.2" x2="471" y2="296.2" stroke="#E2E2E2" stroke-width="1.2"/>
<text x="33.5" y="301.7" font-family="'Liberation Sans', Arial, sans-serif" font-size="15.5" font-weight="bold" fill="#595959" text-anchor="end" textLength="27.3" lengthAdjust="spacingAndGlyphs">100</text>
<line x1="51" y1="273.2" x2="471" y2="273.2" stroke="#E2E2E2" stroke-width="1.2"/>
<text x="33.5" y="278.7" font-family="'Liberation Sans', Arial, sans-serif" font-size="15.5" font-weight="bold" fill="#595959" text-anchor="end" textLength="27.3" lengthAdjust="spacingAndGlyphs">150</text>
<line x1="51" y1="250.2" x2="471" y2="250.2" stroke="#E2E2E2" stroke-width="1.2"/>
<text x="33.5" y="255.7" font-family="'Liberation Sans', Arial, sans-serif" font-size="15.5" font-weight="bold" fill="#595959" text-anchor="end" textLength="27.3" lengthAdjust="spacingAndGlyphs">200</text>
<line x1="51" y1="227.2" x2="471" y2="227.2" stroke="#E2E2E2" stroke-width="1.2"/>
<text x="33.5" y="232.7" font-family="'Liberation Sans', Arial, sans-serif" font-size="15.5" font-weight="bold" fill="#595959" text-anchor="end" textLength="27.3" lengthAdjust="spacingAndGlyphs">250</text>
<line x1="51" y1="204.2" x2="471" y2="204.2" stroke="#E2E2E2" stroke-width="1.2"/>
<text x="33.5" y="209.7" font-family="'Liberation Sans', Arial, sans-serif" font-size="15.5" font-weight="bold" fill="#595959" text-anchor="end" textLength="27.3" lengthAdjust="spacingAndGlyphs">300</text>
<text x="482.0" y="346.1" font-family="'Liberation Sans', Arial, sans-serif" font-size="10.2" font-weight="bold" fill="#595959" textLength="5.9" lengthAdjust="spacingAndGlyphs">0</text>
<text x="482.0" y="318.6" font-family="'Liberation Sans', Arial, sans-serif" font-size="10.2" font-weight="bold" fill="#595959" textLength="21.0" lengthAdjust="spacingAndGlyphs">0.05</text>
<text x="482.0" y="291.1" font-family="'Liberation Sans', Arial, sans-serif" font-size="10.2" font-weight="bold" fill="#595959" textLength="15.1" lengthAdjust="spacingAndGlyphs">0.1</text>
<text x="482.0" y="263.6" font-family="'Liberation Sans', Arial, sans-serif" font-size="10.2" font-weight="bold" fill="#595959" textLength="21.0" lengthAdjust="spacingAndGlyphs">0.15</text>
<text x="482.0" y="236.2" font-family="'Liberation Sans', Arial, sans-serif" font-size="10.2" font-weight="bold" fill="#595959" textLength="15.1" lengthAdjust="spacingAndGlyphs">0.2</text>
<text x="482.0" y="208.7" font-family="'Liberation Sans', Arial, sans-serif" font-size="10.2" font-weight="bold" fill="#595959" textLength="21.0" lengthAdjust="spacingAndGlyphs">0.25</text>
<rect x="68.8" y="211.6" width="34.3" height="130.6" fill="#5195DA"/>
<rect x="138.8" y="283.3" width="34.3" height="58.9" fill="#5195DA"/>
<rect x="208.8" y="253.0" width="34.3" height="89.2" fill="#5195DA"/>
<rect x="278.9" y="241.0" width="34.3" height="101.2" fill="#5195DA"/>
<rect x="348.9" y="335.8" width="34.3" height="6.4" fill="#5195DA"/>
<rect x="418.9" y="315.5" width="34.3" height="26.7" fill="#5195DA"/>
<polyline points="86.0,244.9 156.0,225.6 226.0,225.2 296.0,225.7 366.0,267.0 436.0,247.0" fill="none" stroke="#ED7D31" stroke-width="2.6" stroke-linejoin="round"/>
<circle cx="86.0" cy="244.9" r="3.2" fill="#ED7D31"/>
<circle cx="156.0" cy="225.6" r="3.2" fill="#ED7D31"/>
<circle cx="226.0" cy="225.2" r="3.2" fill="#ED7D31"/>
<circle cx="296.0" cy="225.7" r="3.2" fill="#ED7D31"/>
<circle cx="366.0" cy="267.0" r="3.2" fill="#ED7D31"/>
<circle cx="436.0" cy="247.0" r="3.2" fill="#ED7D31"/>
<line x1="90" y1="247" x2="104" y2="255" stroke="#B4CCE6" stroke-width="1"/>
<text x="86.0" y="206.1" font-family="'Liberation Sans', Arial, sans-serif" font-size="16" font-weight="bold" fill="#285A80" text-anchor="middle" textLength="26.2" lengthAdjust="spacingAndGlyphs">284</text>
<text x="157.2" y="273.1" font-family="'Liberation Sans', Arial, sans-serif" font-size="16" font-weight="bold" fill="#285A80" text-anchor="middle" textLength="26.2" lengthAdjust="spacingAndGlyphs">128</text>
<text x="226.4" y="242.2" font-family="'Liberation Sans', Arial, sans-serif" font-size="16" font-weight="bold" fill="#285A80" text-anchor="middle" textLength="26.2" lengthAdjust="spacingAndGlyphs">194</text>
<text x="296.3" y="239.2" font-family="'Liberation Sans', Arial, sans-serif" font-size="16" font-weight="bold" fill="#285A80" text-anchor="middle" textLength="26.2" lengthAdjust="spacingAndGlyphs">220</text>
<text x="366.4" y="326.1" font-family="'Liberation Sans', Arial, sans-serif" font-size="16" font-weight="bold" fill="#285A80" text-anchor="middle" textLength="17.5" lengthAdjust="spacingAndGlyphs">14</text>
<text x="436.0" y="304.8" font-family="'Liberation Sans', Arial, sans-serif" font-size="16" font-weight="bold" fill="#285A80" text-anchor="middle" textLength="17.5" lengthAdjust="spacingAndGlyphs">58</text>
<text x="136.5" y="260.6" font-family="'Liberation Sans', Arial, sans-serif" font-size="16" font-weight="bold" fill="#B95F2A" text-anchor="middle" textLength="55.3" lengthAdjust="spacingAndGlyphs">17.75%</text>
<text x="156.2" y="211.8" font-family="'Liberation Sans', Arial, sans-serif" font-size="16" font-weight="bold" fill="#B95F2A" text-anchor="middle" textLength="55.3" lengthAdjust="spacingAndGlyphs">21.26%</text>
<text x="225.8" y="211.8" font-family="'Liberation Sans', Arial, sans-serif" font-size="16" font-weight="bold" fill="#B95F2A" text-anchor="middle" textLength="55.3" lengthAdjust="spacingAndGlyphs">21.32%</text>
<text x="296.3" y="211.8" font-family="'Liberation Sans', Arial, sans-serif" font-size="16" font-weight="bold" fill="#B95F2A" text-anchor="middle" textLength="55.3" lengthAdjust="spacingAndGlyphs">21.24%</text>
<text x="378.8" y="285.1" font-family="'Liberation Sans', Arial, sans-serif" font-size="16" font-weight="bold" fill="#B95F2A" text-anchor="middle" textLength="55.3" lengthAdjust="spacingAndGlyphs">13.73%</text>
<text x="436.5" y="232.8" font-family="'Liberation Sans', Arial, sans-serif" font-size="16" font-weight="bold" fill="#B95F2A" text-anchor="middle" textLength="55.3" lengthAdjust="spacingAndGlyphs">17.37%</text>
<text transform="translate(91.5,368.7) rotate(-45)" text-anchor="end" font-family="'Liberation Sans', Arial, sans-serif" font-weight="bold" fill="#000"><tspan font-size="19.5">F</tspan><tspan font-size="16.6">RONTAL</tspan></text>
<text transform="translate(161.5,368.7) rotate(-45)" text-anchor="end" font-family="'Liberation Sans', Arial, sans-serif" font-weight="bold" fill="#000"><tspan font-size="19.5">T</tspan><tspan font-size="16.6">EMPORAL</tspan></text>
<text transform="translate(231.5,368.7) rotate(-45)" text-anchor="end" font-family="'Liberation Sans', Arial, sans-serif" font-weight="bold" fill="#000"><tspan font-size="19.5">P</tspan><tspan font-size="16.6">ARIETAL</tspan></text>
<text transform="translate(301.5,368.7) rotate(-45)" text-anchor="end" font-family="'Liberation Sans', Arial, sans-serif" font-weight="bold" fill="#000"><tspan font-size="19.5">O</tspan><tspan font-size="16.6">CCIPITAL</tspan></text>
<text transform="translate(371.5,368.7) rotate(-45)" text-anchor="end" font-family="'Liberation Sans', Arial, sans-serif" font-weight="bold" fill="#000"><tspan font-size="19.5">S</tspan><tspan font-size="16.6">UBCORTICAL</tspan></text>
<text transform="translate(441.5,368.7) rotate(-45)" text-anchor="end" font-family="'Liberation Sans', Arial, sans-serif" font-weight="bold" fill="#000"><tspan font-size="19.5">C</tspan><tspan font-size="16.6">EREBELLAR</tspan></text>
<rect x="40" y="455" width="42" height="20" fill="#5195DA"/>
<text x="97.0" y="473.3" font-family="'Liberation Sans', Arial, sans-serif" font-size="20" fill="#262626" textLength="195.5" lengthAdjust="spacingAndGlyphs">Connected Number</text>
<line x1="315.5" y1="466" x2="371" y2="466" stroke="#ED7D31" stroke-width="3"/>
<circle cx="343.2" cy="466" r="5" fill="#ED7D31"/>
<text x="385.0" y="473.3" font-family="'Liberation Sans', Arial, sans-serif" font-size="20" fill="#262626" textLength="104.0" lengthAdjust="spacingAndGlyphs">Proportion</text>
<text x="837.5" y="27.5" font-family="'Liberation Sans', Arial, sans-serif" font-size="26.3" font-weight="bold" fill="#000" text-anchor="middle" textLength="335.0" lengthAdjust="spacingAndGlyphs">Post-stroke Non-aphasia</text>
<text x="630.5" y="69.0" font-family="'Liberation Serif', 'Times New Roman', serif" font-size="14" font-weight="bold" fill="#000">L</text>
<text x="789.0" y="69.5" font-family="'Liberation Serif', 'Times New Roman', serif" font-size="14" font-weight="bold" fill="#000">T</text>
<text x="940.5" y="69.5" font-family="'Liberation Serif', 'Times New Roman', serif" font-size="14" font-weight="bold" fill="#000">R</text>
<g transform="translate(640.0,61.0) scale(0.5800,0.4760)" fill="none" stroke-linecap="round"><path d="M39 180L155 27M41 116L198 64M51 51L144 0M31 96L71 219M31 96L174 188M9 80L209 248M9 80L99 144M1 160L89 140M15 175L89 140M15 175L99 144M37 60L89 140M37 60L99 144M22 123L89 140M51 51L79 126M37 60L210 110M41 116L127 32M22 123L127 32M22 162L112 12M22 162L187 136M51 51L127 32M92 18L181 15M112 40L137 50M112 40L155 27M112 40L181 15M68 35L137 50M68 35L188 50M68 35L198 64M68 35L181 15M112 40L237 100M92 18L112 12M92 18L218 48M92 18L149 86M92 18L127 32M112 40L127 32M68 35L112 12M68 35L149 86M68 35L127 32M112 117L170 96M112 117L198 64M73 165L198 64M112 117L131 129M112 117L158 149M73 165L69 183M73 165L71 219M73 165L131 129M112 117L204 192M112 117L89 140M112 117L99 144M73 165L79 126M73 165L99 144M112 117L187 136M73 165L229 76M73 165L149 86M144 0L245 87M144 0L249 112M207 17L237 100M207 17L236 149M170 96L246 138M170 96L240 162M170 96L236 149M137 50L249 112M137 50L240 162M188 50L245 87M188 50L249 112M188 50L246 138M188 50L237 100M155 27L237 100M198 64L245 87M198 64L249 112M198 64L246 138M198 64L240 162M198 64L237 100M198 64L236 149M161 65L245 87M161 65L246 138M161 65L236 149M181 15L249 112M181 15L246 138M181 15L240 162M170 96L131 129M170 96L158 149M137 50L71 219M137 50L174 188M188 50L131 129M155 27L131 129M198 64L126 179M161 65L174 188M170 96L201 250M137 50L218 213M137 50L191 179M188 50L191 179M155 27L182 242M198 64L201 250M144 0L99 144M207 17L79 126M198 64L79 126M144 0L112 12M144 0L218 48M144 0L187 136M144 0L127 32M207 17L112 12M207 17L218 48M207 17L127 32M170 96L112 12M170 96L229 76M170 96L210 110M170 96L227 151M170 96L187 136M137 50L112 12M137 50L149 86M137 50L187 136M137 50L127 32M188 50L218 48M188 50L229 76M188 50L210 110M188 50L227 151M155 27L218 48M155 27L149 86M155 27L187 136M155 27L127 32M198 64L112 12M198 64L218 48M198 64L229 76M198 64L210 110M198 64L149 86M198 64L227 151M198 64L187 136M161 65L229 76M161 65L149 86M161 65L187 136M161 65L127 32M181 15L218 48M181 15L229 76M181 15L210 110M181 15L149 86M181 15L227 151M181 15L187 136M245 87L131 129M245 87L126 179M249 112L158 149M246 138L131 129M240 162L158 149M236 149L174 188M245 87L232 228M245 87L218 213M245 87L191 179M249 112L182 242M249 112L232 228M249 112L204 192M249 112L191 179M246 138L182 242M246 138L209 248M246 138L232 228M246 138L225 200M246 138L204 192M240 162L201 250M240 162L232 228M240 162L225 200M240 162L204 192M240 162L218 213M237 100L201 250M237 100L209 248M237 100L232 228M237 100L191 179M236 149L182 242M236 149L209 248M236 149L232 228M236 149L225 200M236 149L204 192M236 149L191 179M245 87L218 48M245 87L229 76M245 87L210 110M245 87L187 136M245 87L127 32M249 112L218 48M249 112L149 86M249 112L227 151M249 112L187 136M246 138L218 48M246 138L229 76M246 138L210 110M246 138L227 151M246 138L187 136M240 162L210 110M240 162L149 86M240 162L227 151M237 100L218 48M237 100L210 110M237 100L149 86M237 100L227 151M237 100L127 32M236 149L112 12M236 149L218 48M236 149L229 76M236 149L210 110M236 149L227 151M236 149L127 32M71 219L191 179M174 188L201 250M174 188L209 248M174 188L232 228M174 188L204 192M158 149L182 242M158 149L209 248M158 149L191 179M126 179L191 179M131 129L89 140M131 129L99 144M126 179L79 126M126 179L89 140M69 183L112 12M69 183L149 86M71 219L210 110M71 219L149 86M71 219L227 151M71 219L127 32M174 188L112 12M174 188L218 48M174 188L229 76M174 188L210 110M174 188L187 136M131 129L229 76M131 129L210 110M131 129L149 86M131 129L227 151M131 129L187 136M126 179L210 110M126 179L127 32M201 250L89 140M201 250L99 144M225 200L89 140M201 250L112 12M201 250L149 86M201 250L187 136M232 228L112 12M232 228L218 48M232 228L227 151M232 228L187 136M225 200L210 110M225 200L187 136M191 179L218 48M191 179L210 110M191 179L149 86M79 126L149 86M89 140L210 110M99 144L149 86M112 12L149 86M112 12L187 136M112 12L127 32M218 48L229 76M229 76L227 151M229 76L187 136M229 76L127 32M210 110L187 136M227 151L187 136M187 136L127 32" stroke="#8B8B8B" stroke-width="1.45" vector-effect="non-scaling-stroke"/><path d="M69 183L71 219M69 183L174 188M69 183L131 129M69 183L158 149M69 183L126 179M71 219L174 188M71 219L131 129M71 219L158 149M71 219L126 179M174 188L158 149M131 129L158 149M131 129L126 179M158 149L126 179" stroke="#EFC21C" stroke-width="1.80" vector-effect="non-scaling-stroke"/><path d="M144 0L137 50M144 0L155 27M144 0L161 65M207 17L170 96M207 17L188 50M207 17L155 27M207 17L181 15M170 96L137 50M170 96L188 50M170 96L181 15M137 50L198 64M137 50L161 65M188 50L155 27M188 50L198 64M188 50L161 65M188 50L181 15M155 27L161 65M155 27L181 15M198 64L161 65M198 64L181 15M161 65L181 15" stroke="#8DC441" stroke-width="1.80" vector-effect="non-scaling-stroke"/><path d="M245 87L249 112M245 87L246 138M245 87L237 100M245 87L236 149M249 112L246 138M249 112L240 162M249 112L237 100M246 138L240 162M246 138L237 100M246 138L236 149M240 162L237 100M240 162L236 149M237 100L236 149" stroke="#1EB3CE" stroke-width="2.20" vector-effect="non-scaling-stroke"/><path d="M182 242L201 250M182 242L209 248M182 242L232 228M182 242L225 200M182 242L218 213M182 242L191 179M201 250L209 248M201 250L232 228M201 250L225 200M201 250L204 192M201 250L218 213M209 248L232 228M209 248L225 200M209 248L204 192M209 248L218 213M209 248L191 179M232 228L225 200M225 200L204 192M225 200L218 213M225 200L191 179M204 192L191 179M218 213L191 179" stroke="#E01E6A" stroke-width="1.70" vector-effect="non-scaling-stroke"/><path d="M9 80L1 160M9 80L15 175M9 80L37 60M9 80L39 180M9 80L41 116M9 80L22 123M9 80L7 120M9 80L26 68M9 80L31 96M9 80L51 51M1 160L15 175M1 160L37 60M1 160L39 180M1 160L41 116M1 160L22 123M1 160L7 120M1 160L26 68M1 160L22 162M1 160L51 51M15 175L37 60M15 175L39 180M15 175L41 116M15 175L22 123M15 175L7 120M15 175L26 68M15 175L22 162M15 175L51 51M37 60L41 116M37 60L22 123M37 60L26 68M37 60L31 96M37 60L51 51M39 180L41 116M39 180L22 123M39 180L7 120M39 180L26 68M39 180L22 162M39 180L31 96M39 180L51 51M41 116L7 120M41 116L26 68M41 116L51 51M22 123L7 120M22 123L22 162M22 123L31 96M22 123L51 51M7 120L26 68M7 120L22 162M7 120L31 96M7 120L51 51M26 68L22 162M26 68L31 96M26 68L51 51M22 162L31 96M22 162L51 51M31 96L51 51M9 80L92 18M9 80L112 40M9 80L68 35M37 60L92 18M37 60L68 35M41 116L112 40M41 116L68 35M22 123L68 35M7 120L92 18M26 68L92 18M22 162L92 18M22 162L112 40M22 162L68 35M31 96L68 35M1 160L73 165M37 60L73 165M22 162L73 165M51 51L73 165M92 18L112 40M68 35L112 117" stroke="#EE3F2F" stroke-width="2.00" vector-effect="non-scaling-stroke"/><path d="M79 126L89 140M79 126L99 144M89 140L99 144" stroke="#2C3CA8" stroke-width="1.80" vector-effect="non-scaling-stroke"/><ellipse cx="69" cy="183" rx="2.8" ry="3.4" fill="#EFC21C"/><ellipse cx="71" cy="219" rx="2.8" ry="3.4" fill="#EFC21C"/><ellipse cx="174" cy="188" rx="2.8" ry="3.4" fill="#EFC21C"/><ellipse cx="131" cy="129" rx="2.8" ry="3.4" fill="#EFC21C"/><ellipse cx="158" cy="149" rx="2.8" ry="3.4" fill="#EFC21C"/><ellipse cx="126" cy="179" rx="2.8" ry="3.4" fill="#EFC21C"/><ellipse cx="144" cy="0" rx="2.8" ry="3.4" fill="#8DC441"/><ellipse cx="207" cy="17" rx="2.8" ry="3.4" fill="#8DC441"/><ellipse cx="170" cy="96" rx="2.8" ry="3.4" fill="#8DC441"/><ellipse cx="137" cy="50" rx="2.8" ry="3.4" fill="#8DC441"/><ellipse cx="188" cy="50" rx="2.8" ry="3.4" fill="#8DC441"/><ellipse cx="155" cy="27" rx="2.8" ry="3.4" fill="#8DC441"/><ellipse cx="198" cy="64" rx="2.8" ry="3.4" fill="#8DC441"/><ellipse cx="161" cy="65" rx="2.8" ry="3.4" fill="#8DC441"/><ellipse cx="181" cy="15" rx="2.8" ry="3.4" fill="#8DC441"/><ellipse cx="245" cy="87" rx="2.8" ry="3.4" fill="#1EB3CE"/><ellipse cx="249" cy="112" rx="2.8" ry="3.4" fill="#1EB3CE"/><ellipse cx="246" cy="138" rx="2.8" ry="3.4" fill="#1EB3CE"/><ellipse cx="240" cy="162" rx="2.8" ry="3.4" fill="#1EB3CE"/><ellipse cx="237" cy="100" rx="2.8" ry="3.4" fill="#1EB3CE"/><ellipse cx="236" cy="149" rx="2.8" ry="3.4" fill="#1EB3CE"/><ellipse cx="182" cy="242" rx="2.8" ry="3.4" fill="#E01E6A"/><ellipse cx="201" cy="250" rx="2.8" ry="3.4" fill="#E01E6A"/><ellipse cx="209" cy="248" rx="2.8" ry="3.4" fill="#E01E6A"/><ellipse cx="232" cy="228" rx="2.8" ry="3.4" fill="#E01E6A"/><ellipse cx="225" cy="200" rx="2.8" ry="3.4" fill="#E01E6A"/><ellipse cx="204" cy="192" rx="2.8" ry="3.4" fill="#E01E6A"/><ellipse cx="218" cy="213" rx="2.8" ry="3.4" fill="#E01E6A"/><ellipse cx="191" cy="179" rx="2.8" ry="3.4" fill="#E01E6A"/><ellipse cx="9" cy="80" rx="2.8" ry="3.4" fill="#EE3F2F"/><ellipse cx="1" cy="160" rx="2.8" ry="3.4" fill="#EE3F2F"/><ellipse cx="15" cy="175" rx="2.8" ry="3.4" fill="#EE3F2F"/><ellipse cx="37" cy="60" rx="2.8" ry="3.4" fill="#EE3F2F"/><ellipse cx="39" cy="180" rx="2.8" ry="3.4" fill="#EE3F2F"/><ellipse cx="41" cy="116" rx="2.8" ry="3.4" fill="#EE3F2F"/><ellipse cx="22" cy="123" rx="2.8" ry="3.4" fill="#EE3F2F"/><ellipse cx="7" cy="120" rx="2.8" ry="3.4" fill="#EE3F2F"/><ellipse cx="26" cy="68" rx="2.8" ry="3.4" fill="#EE3F2F"/><ellipse cx="22" cy="162" rx="2.8" ry="3.4" fill="#EE3F2F"/><ellipse cx="31" cy="96" rx="2.8" ry="3.4" fill="#EE3F2F"/><ellipse cx="51" cy="51" rx="2.8" ry="3.4" fill="#EE3F2F"/><ellipse cx="92" cy="18" rx="2.8" ry="3.4" fill="#EE3F2F"/><ellipse cx="112" cy="40" rx="2.8" ry="3.4" fill="#EE3F2F"/><ellipse cx="68" cy="35" rx="2.8" ry="3.4" fill="#EE3F2F"/><ellipse cx="112" cy="117" rx="2.8" ry="3.4" fill="#EE3F2F"/><ellipse cx="73" cy="165" rx="2.8" ry="3.4" fill="#EE3F2F"/><ellipse cx="79" cy="126" rx="2.8" ry="3.4" fill="#2C3CA8"/><ellipse cx="89" cy="140" rx="2.8" ry="3.4" fill="#2C3CA8"/><ellipse cx="99" cy="144" rx="2.8" ry="3.4" fill="#2C3CA8"/></g>
<g transform="translate(802.5,54.0) scale(0.4800,0.5440)" fill="none" stroke-linecap="round"><path d="M52 8L185 92M198 8L65 92M112 0L80 98M138 0L170 98M138 0L80 98M112 0L170 98M82 12L48 88M167 12L202 88M82 12L80 98M167 12L170 98M75 45L48 88M175 45L202 88M75 45L80 98M175 45L170 98M50 70L48 88M200 70L202 88M40 110L80 98M210 110L170 98M88 75L65 92M162 75L185 92M125 100L65 92M125 100L185 92M75 108L80 98M175 108L170 98M75 108L170 98M175 108L80 98M198 8L40 70M52 8L210 70M22 45L210 70M228 45L40 70M75 45L55 146M175 45L195 146M40 110L195 146M210 110L55 146M82 12L38 162M167 12L212 162M22 45L2 155M228 45L248 155M50 70L38 162M200 70L212 162M20 115L80 136M230 115L170 136M40 110L28 136M210 110L222 136M210 110L2 155M40 110L248 155M88 75L112 120M162 75L138 120M75 108L80 136M175 108L170 136M75 108L162 158M175 108L88 158M175 45L60 212M75 45L190 212M125 42L60 212M125 42L190 212M138 0L100 150M112 0L150 150M75 45L138 215M175 45L112 215M75 45L50 150M175 45L200 150M18 75L125 225M232 75L125 225M18 75L150 220M232 75L100 220M18 75L50 150M232 75L200 150M50 70L125 208M200 70L125 208M20 115L125 225M230 115L125 225M20 115L55 175M230 115L195 175M20 115L20 175M230 115L230 175M40 110L125 75M210 110L125 75M40 110L88 205M210 110L162 205M162 75L75 225M88 75L175 225M125 100L75 225M125 100L175 225M75 108L125 208M175 108L125 208M175 108L50 150M75 108L200 150M18 75L105 235M232 75L145 235M20 115L105 235M230 115L145 235M185 92L30 130M65 92L220 130M80 98L95 150M170 98L155 150M48 88L75 125M202 88L175 125M80 98L125 138M170 98L125 138M80 98L68 200M170 98L182 200M48 88L138 215M202 88L112 215M65 92L50 150M185 92L200 150M80 98L20 175M170 98L230 175M8 134L2 155M242 134L248 155M8 134L125 165M242 134L125 165M15 148L28 136M235 148L222 136M15 148L88 158M235 148L162 158M40 70L28 136M210 70L222 136M40 70L80 136M210 70L170 136M40 70L162 158M210 70L88 158M40 70L105 200M210 70L145 200M210 70L38 162M40 70L212 162M30 130L75 125M220 130L175 125M30 130L80 136M220 130L170 136M30 130L88 158M220 130L162 158M55 146L2 155M195 146L248 155M55 146L170 136M195 146L80 136M55 146L38 162M195 146L212 162M55 146L162 158M195 146L88 158M95 150L75 125M155 150L175 125M95 150L125 138M155 150L125 138M95 150L105 200M155 150L145 200M155 150L80 136M95 150L170 136M155 150L38 162M95 150L212 162M8 134L82 165M242 134L167 165M55 146L98 175M195 146L152 175M95 150L50 200M155 150L200 200M8 134L175 225M242 134L75 225M15 148L20 175M235 148L230 175M40 70L20 175M210 70L230 175M30 130L62 218M220 130L188 218M30 130L50 150M220 130L200 150M55 146L100 150M195 146L150 150M55 146L55 175M195 146L195 175M55 146L112 215M195 146L138 215M55 146L25 210M195 146L225 210M95 150L62 218M155 150L188 218M155 150L55 175M95 150L195 175M30 130L105 235M220 130L145 235M30 130L145 235M220 130L105 235M95 150L145 235M155 150L105 235M75 125L98 175M175 125L152 175M112 120L42 218M138 120L208 218M138 120L82 165M112 120L167 165M28 136L50 200M222 136L200 200M125 138L32 208M125 138L218 208M125 138L98 175M125 138L152 175M38 162L60 212M212 162L190 212M38 162L50 200M212 162L200 200M212 162L32 208M38 162L218 208M88 158L32 208M162 158L218 208M88 158L98 175M162 158L152 175M88 158L82 165M162 158L167 165M162 158L50 200M88 158L200 200M125 165L60 212M125 165L190 212M68 200L98 175M182 200L152 175M68 200L167 165M182 200L83 165M182 200L60 212M68 200L190 212M105 200L98 175M145 200L152 175M30 188L32 208M220 188L218 208M75 125L150 220M175 125L100 220M112 120L125 75M138 120L125 75M138 120L75 225M112 120L175 225M138 120L20 175M112 120L230 175M2 155L100 150M248 155L150 150M2 155L25 210M248 155L225 210M2 155L88 205M248 155L162 205M2 155L50 150M248 155L200 150M28 136L100 150M222 136L150 150M28 136L162 205M222 136L88 205M28 136L50 150M222 136L200 150M80 136L62 218M170 136L188 218M170 136L62 218M80 136L188 218M125 138L100 150M125 138L150 150M125 138L112 215M125 138L138 215M125 138L125 75M125 138L125 75M125 138L88 205M125 138L162 205M38 162L138 215M212 162L112 215M38 162L100 220M212 162L150 220M88 158L150 150M162 158L100 150M88 158L162 205M162 158L88 205M88 158L100 220M162 158L150 220M88 158L62 218M162 158L188 218M88 158L50 150M162 158L200 150M125 165L88 205M125 165L162 205M125 165L20 175M125 165L230 175M68 200L125 225M182 200L125 225M68 200L88 205M182 200L162 205M68 200L100 220M182 200L150 220M68 200L62 218M182 200L188 218M105 200L112 215M145 200L138 215M105 200L138 215M145 200L112 215M105 200L88 205M145 200L162 205M105 200L125 208M145 200L125 208M145 200L75 225M105 200L175 225M145 200L88 205M105 200L162 205M30 188L125 225M220 188L125 225M30 188L195 175M220 188L55 175M30 188L25 210M220 188L225 210M30 188L88 205M220 188L162 205M30 188L125 208M220 188L125 208M112 120L42 238M138 120L208 238M2 155L88 248M248 155L162 248M28 136L162 248M222 136L88 248M88 158L125 242M162 158L125 242M162 158L42 238M88 158L208 238M68 200L42 238M182 200L208 238M182 200L42 238M68 200L208 238M30 188L88 248M220 188L162 248M30 188L125 242M220 188L125 242M42 218L162 205M208 218L88 205M42 218L20 175M208 218L230 175M60 212L75 225M190 212L175 225M60 212L25 210M190 212L225 210M60 212L125 208M190 212L125 208M60 212L50 150M190 212L200 150M50 200L88 205M200 200L162 205M50 200L62 218M200 200L188 218M32 208L125 225M218 208L125 225M32 208L55 175M218 208L195 175M32 208L138 215M218 208L112 215M32 208L25 210M218 208L225 210M32 208L125 75M218 208L125 75M32 208L162 205M218 208L88 205M32 208L125 208M218 208L125 208M32 208L100 220M218 208L150 220M32 208L62 218M218 208L188 218M32 208L188 218M218 208L62 218M32 208L20 175M218 208L230 175M98 175L75 225M152 175L175 225M98 175L125 225M152 175L125 225M98 175L112 215M152 175L138 215M98 175L138 215M152 175L112 215M98 175L125 75M152 175L125 75M98 175L100 220M152 175L150 220M98 175L50 150M152 175L200 150M152 175L75 225M98 175L175 225M152 175L20 175M98 175L230 175M82 165L75 225M167 165L175 225M82 165L150 150M167 165L100 150M82 165L112 215M167 165L138 215M82 165L162 205M167 165L88 205M82 165L62 218M167 165L188 218M167 165L75 225M83 165L175 225M167 165L50 150M83 165L200 150M42 218L88 248M208 218L162 248M42 218L145 235M208 218L105 235M60 212L162 248M190 212L88 248M60 212L125 242M190 212L125 242M50 200L65 240M200 200L185 240M32 208L105 235M218 208L145 235M32 208L65 240M218 208L185 240M98 175L125 242M152 175L125 242M98 175L65 240M152 175L185 240M152 175L88 248M98 175L162 248M152 175L65 240M98 175L185 240M82 165L42 238M167 165L208 238M82 165L125 242M167 165L125 242M82 165L65 240M167 165L185 240M75 225L112 215M175 225L138 215M75 225L50 150M175 225L200 150M175 225L20 175M75 225L230 175M125 225L112 215M125 225L138 215M125 225L88 205M125 225L162 205M125 225L125 208M125 225L125 208M125 225L100 220M125 225L150 220M125 225L20 175M125 225L230 175M100 150L125 75M150 150L125 75M100 150L125 208M150 150L125 208M100 150L150 220M150 150L100 220M100 150L62 218M150 150L188 218M150 150L50 150M100 150L200 150M55 175L195 175M195 175L55 175M55 175L112 215M195 175L138 215M55 175L138 215M195 175L112 215M55 175L125 75M195 175L125 75M55 175L100 220M195 175L150 220M55 175L50 150M195 175L200 150M55 175L20 175M195 175L230 175M195 175L20 175M55 175L230 175M112 215L25 210M138 215L225 210M112 215L125 208M138 215L125 208M112 215L100 220M138 215L150 220M112 215L62 218M138 215L188 218M112 215L20 175M138 215L230 175M138 215L25 210M112 215L225 210M138 215L100 220M112 215L150 220M138 215L62 218M112 215L188 218M25 210L88 205M225 210L162 205M25 210L162 205M225 210L88 205M25 210L100 220M225 210L150 220M25 210L50 150M225 210L200 150M25 210L20 175M225 210L230 175M125 75L88 205M125 75L162 205M88 205L100 220M162 205L150 220M88 205L50 150M162 205L200 150M125 208L50 150M125 208L200 150M100 220L62 218M150 220L188 218M100 220L50 150M150 220L200 150M100 220L20 175M150 220L230 175M150 220L62 218M100 220L188 218M188 218L50 150M62 218L200 150M50 150L20 175M200 150L230 175M75 225L88 248M175 225L162 248M75 225L125 242M175 225L125 242M75 225L105 235M175 225L145 235M75 225L65 240M175 225L185 240M125 225L88 248M125 225L162 248M125 225L125 242M125 225L125 242M125 225L105 235M125 225L145 235M100 150L88 248M150 150L162 248M100 150L105 235M150 150L145 235M100 150L65 240M150 150L185 240M55 175L88 248M195 175L162 248M55 175L105 235M195 175L145 235M55 175L145 235M195 175L105 235M55 175L65 240M195 175L185 240M195 175L42 238M55 175L208 238M112 215L88 248M138 215L162 248M138 215L88 248M112 215L162 248M138 215L105 235M112 215L145 235M25 210L42 238M225 210L208 238M25 210L65 240M225 210L185 240M88 205L88 248M162 205L162 248M88 205L65 240M162 205L185 240M162 205L88 248M88 205L162 248M125 208L88 248M125 208L162 248M125 208L125 242M125 208L125 242M125 208L105 235M125 208L145 235M100 220L42 238M150 220L208 238M100 220L88 248M150 220L162 248M100 220L125 242M150 220L125 242M100 220L105 235M150 220L145 235M100 220L65 240M150 220L185 240M150 220L42 238M100 220L208 238M150 220L88 248M100 220L162 248M150 220L65 240M100 220L185 240M62 218L162 248M188 218L88 248M62 218L105 235M188 218L145 235M62 218L145 235M188 218L105 235M62 218L65 240M188 218L185 240M188 218L42 238M62 218L208 238M50 150L105 235M200 150L145 235M50 150L65 240M200 150L185 240M200 150L42 238M50 150L208 238M20 175L208 238M230 175L43 238M20 175L105 235M230 175L145 235M20 115L8 134M230 115L242 134M30 188L42 218M220 188L208 218M42 218L42 238M208 218L208 238M2 155L42 238M248 155L208 238" stroke="#8B8B8B" stroke-width="1.09" vector-effect="non-scaling-stroke"/><path d="M8 134L15 148M242 134L235 148M8 134L30 130M242 134L220 130M8 134L55 146M242 134L195 146M15 148L30 130M235 148L220 130M40 70L55 146M210 70L195 146M30 130L95 150M220 130L155 150M8 134L2 155M242 134L248 155" stroke="#EFC21C" stroke-width="1.80" vector-effect="non-scaling-stroke"/><path d="M75 125L2 155M175 125L248 155M75 125L125 138M175 125L125 138M75 125L38 162M175 125L212 162M75 125L88 158M175 125L162 158M75 125L145 200M175 125L105 200M175 125L38 162M75 125L212 162M175 125L68 200M75 125L182 200M112 120L28 136M138 120L222 136M112 120L80 136M138 120L170 136M112 120L125 138M138 120L125 138M112 120L88 158M138 120L162 158M138 120L38 162M112 120L212 162M138 120L88 158M112 120L162 158M138 120L105 200M112 120L145 200M2 155L212 162M248 155L38 162M2 155L68 200M248 155L182 200M2 155L182 200M248 155L68 200M28 136L80 136M222 136L170 136M28 136L38 162M222 136L212 162M28 136L162 158M222 136L88 158M28 136L125 165M222 136L125 165M28 136L105 200M222 136L145 200M80 136L38 162M170 136L212 162M80 136L68 200M170 136L182 200M125 138L88 158M125 138L162 158M125 138L125 165M125 138L125 165M38 162L30 188M212 162L220 188M88 158L68 200M162 158L182 200M162 158L30 188M88 158L220 188M125 165L105 200M125 165L145 200M68 200L105 200M182 200L145 200M105 200L30 188M145 200L220 188M145 200L30 188M105 200L220 188M2 155L30 188M248 155L220 188M28 136L222 136M222 136L27 136M2 155L248 155M248 155L3 155M68 200L182 200M182 200L68 200" stroke="#8DC441" stroke-width="1.35" vector-effect="non-scaling-stroke"/><path d="M42 238L145 235M208 238L105 235M42 238L65 240M208 238L185 240M88 248L162 248M162 248L88 248M88 248L125 242M162 248L125 242M88 248L105 235M162 248L145 235M88 248L145 235M162 248L105 235M88 248L65 240M162 248L185 240M162 248L65 240M88 248L185 240M125 242L105 235M125 242L145 235M105 235L145 235M145 235L105 235M105 235L65 240M145 235L185 240M145 235L65 240M105 235L185 240M42 238L125 242M208 238L125 242" stroke="#1EB3CE" stroke-width="2.20" vector-effect="non-scaling-stroke"/><path d="M42 218L60 212M208 218L190 212M42 218L50 200M208 218L200 200M42 218L32 208M208 218L218 208M60 212L50 200M190 212L200 200M60 212L32 208M190 212L218 208M50 200L32 208M200 200L218 208M50 200L82 165M200 200L167 165" stroke="#E01E6A" stroke-width="1.70" vector-effect="non-scaling-stroke"/><path d="M52 8L198 8M198 8L52 8M52 8L112 0M198 8L138 0M52 8L82 12M198 8L167 12M52 8L162 75M198 8L88 75M112 0L138 0M138 0L112 0M112 0L125 42M138 0L125 42M112 0L40 110M138 0L210 110M138 0L75 45M112 0L175 45M138 0L50 70M112 0L200 70M138 0L20 115M112 0L230 115M82 12L75 45M167 12L175 45M82 12L125 42M167 12L125 42M82 12L50 70M167 12L200 70M167 12L18 75M83 12L232 75M22 45L20 115M228 45L230 115M75 45L50 70M175 45L200 70M75 45L20 115M175 45L230 115M75 45L40 110M175 45L210 110M75 45L125 100M175 45L125 100M125 42L125 100M125 42L125 100M125 42L75 108M125 42L175 108M18 75L75 108M232 75L175 108M50 70L88 75M200 70L162 75M50 70L175 108M200 70L75 108M20 115L230 115M230 115L20 115M20 115L75 108M230 115L175 108M88 75L125 100M162 75L125 100M88 75L75 108M162 75L175 108M52 8L112 0M198 8L138 0M112 0L138 0M138 0L112 0M52 8L22 45M198 8L228 45M22 45L18 75M228 45L232 75M18 75L20 115M232 75L230 115M22 45L228 45M228 45L22 45M18 75L232 75M232 75L17 75M20 115L230 115M230 115L20 115M52 8L50 70M198 8L200 70M82 12L88 75M167 12L162 75M112 0L125 100M138 0L125 100M52 8L125 100M198 8L125 100" stroke="#EE3F2F" stroke-width="1.60" vector-effect="non-scaling-stroke"/><path d="M48 88L65 92M202 88L185 92M48 88L80 98M202 88L170 98M65 92L80 98M185 92L170 98" stroke="#2C3CA8" stroke-width="1.80" vector-effect="non-scaling-stroke"/><ellipse cx="8" cy="134" rx="3.3" ry="2.9" fill="#EFC21C"/><ellipse cx="242" cy="134" rx="3.3" ry="2.9" fill="#EFC21C"/><ellipse cx="15" cy="148" rx="3.3" ry="2.9" fill="#EFC21C"/><ellipse cx="235" cy="148" rx="3.3" ry="2.9" fill="#EFC21C"/><ellipse cx="40" cy="70" rx="3.3" ry="2.9" fill="#EFC21C"/><ellipse cx="210" cy="70" rx="3.3" ry="2.9" fill="#EFC21C"/><ellipse cx="30" cy="130" rx="3.3" ry="2.9" fill="#EFC21C"/><ellipse cx="220" cy="130" rx="3.3" ry="2.9" fill="#EFC21C"/><ellipse cx="55" cy="146" rx="3.3" ry="2.9" fill="#EFC21C"/><ellipse cx="195" cy="146" rx="3.3" ry="2.9" fill="#EFC21C"/><ellipse cx="95" cy="150" rx="3.3" ry="2.9" fill="#EFC21C"/><ellipse cx="155" cy="150" rx="3.3" ry="2.9" fill="#EFC21C"/><ellipse cx="75" cy="125" rx="3.3" ry="2.9" fill="#8DC441"/><ellipse cx="175" cy="125" rx="3.3" ry="2.9" fill="#8DC441"/><ellipse cx="112" cy="120" rx="3.3" ry="2.9" fill="#8DC441"/><ellipse cx="138" cy="120" rx="3.3" ry="2.9" fill="#8DC441"/><ellipse cx="2" cy="155" rx="3.3" ry="2.9" fill="#8DC441"/><ellipse cx="248" cy="155" rx="3.3" ry="2.9" fill="#8DC441"/><ellipse cx="28" cy="136" rx="3.3" ry="2.9" fill="#8DC441"/><ellipse cx="222" cy="136" rx="3.3" ry="2.9" fill="#8DC441"/><ellipse cx="80" cy="136" rx="3.3" ry="2.9" fill="#8DC441"/><ellipse cx="170" cy="136" rx="3.3" ry="2.9" fill="#8DC441"/><ellipse cx="125" cy="138" rx="3.3" ry="2.9" fill="#8DC441"/><ellipse cx="38" cy="162" rx="3.3" ry="2.9" fill="#8DC441"/><ellipse cx="212" cy="162" rx="3.3" ry="2.9" fill="#8DC441"/><ellipse cx="88" cy="158" rx="3.3" ry="2.9" fill="#8DC441"/><ellipse cx="162" cy="158" rx="3.3" ry="2.9" fill="#8DC441"/><ellipse cx="125" cy="165" rx="3.3" ry="2.9" fill="#8DC441"/><ellipse cx="68" cy="200" rx="3.3" ry="2.9" fill="#8DC441"/><ellipse cx="182" cy="200" rx="3.3" ry="2.9" fill="#8DC441"/><ellipse cx="105" cy="200" rx="3.3" ry="2.9" fill="#8DC441"/><ellipse cx="145" cy="200" rx="3.3" ry="2.9" fill="#8DC441"/><ellipse cx="30" cy="188" rx="3.3" ry="2.9" fill="#8DC441"/><ellipse cx="220" cy="188" rx="3.3" ry="2.9" fill="#8DC441"/><ellipse cx="42" cy="238" rx="3.3" ry="2.9" fill="#1EB3CE"/><ellipse cx="208" cy="238" rx="3.3" ry="2.9" fill="#1EB3CE"/><ellipse cx="88" cy="248" rx="3.3" ry="2.9" fill="#1EB3CE"/><ellipse cx="162" cy="248" rx="3.3" ry="2.9" fill="#1EB3CE"/><ellipse cx="125" cy="242" rx="3.3" ry="2.9" fill="#1EB3CE"/><ellipse cx="105" cy="235" rx="3.3" ry="2.9" fill="#1EB3CE"/><ellipse cx="145" cy="235" rx="3.3" ry="2.9" fill="#1EB3CE"/><ellipse cx="65" cy="240" rx="3.3" ry="2.9" fill="#1EB3CE"/><ellipse cx="185" cy="240" rx="3.3" ry="2.9" fill="#1EB3CE"/><ellipse cx="42" cy="218" rx="3.3" ry="2.9" fill="#E01E6A"/><ellipse cx="208" cy="218" rx="3.3" ry="2.9" fill="#E01E6A"/><ellipse cx="60" cy="212" rx="3.3" ry="2.9" fill="#E01E6A"/><ellipse cx="190" cy="212" rx="3.3" ry="2.9" fill="#E01E6A"/><ellipse cx="50" cy="200" rx="3.3" ry="2.9" fill="#E01E6A"/><ellipse cx="200" cy="200" rx="3.3" ry="2.9" fill="#E01E6A"/><ellipse cx="32" cy="208" rx="3.3" ry="2.9" fill="#E01E6A"/><ellipse cx="218" cy="208" rx="3.3" ry="2.9" fill="#E01E6A"/><ellipse cx="98" cy="175" rx="3.3" ry="2.9" fill="#E01E6A"/><ellipse cx="152" cy="175" rx="3.3" ry="2.9" fill="#E01E6A"/><ellipse cx="82" cy="165" rx="3.3" ry="2.9" fill="#E01E6A"/><ellipse cx="167" cy="165" rx="3.3" ry="2.9" fill="#E01E6A"/><ellipse cx="52" cy="8" rx="3.3" ry="2.9" fill="#EE3F2F"/><ellipse cx="198" cy="8" rx="3.3" ry="2.9" fill="#EE3F2F"/><ellipse cx="112" cy="0" rx="3.3" ry="2.9" fill="#EE3F2F"/><ellipse cx="138" cy="0" rx="3.3" ry="2.9" fill="#EE3F2F"/><ellipse cx="82" cy="12" rx="3.3" ry="2.9" fill="#EE3F2F"/><ellipse cx="167" cy="12" rx="3.3" ry="2.9" fill="#EE3F2F"/><ellipse cx="22" cy="45" rx="3.3" ry="2.9" fill="#EE3F2F"/><ellipse cx="228" cy="45" rx="3.3" ry="2.9" fill="#EE3F2F"/><ellipse cx="75" cy="45" rx="3.3" ry="2.9" fill="#EE3F2F"/><ellipse cx="175" cy="45" rx="3.3" ry="2.9" fill="#EE3F2F"/><ellipse cx="125" cy="42" rx="3.3" ry="2.9" fill="#EE3F2F"/><ellipse cx="18" cy="75" rx="3.3" ry="2.9" fill="#EE3F2F"/><ellipse cx="232" cy="75" rx="3.3" ry="2.9" fill="#EE3F2F"/><ellipse cx="50" cy="70" rx="3.3" ry="2.9" fill="#EE3F2F"/><ellipse cx="200" cy="70" rx="3.3" ry="2.9" fill="#EE3F2F"/><ellipse cx="20" cy="115" rx="3.3" ry="2.9" fill="#EE3F2F"/><ellipse cx="230" cy="115" rx="3.3" ry="2.9" fill="#EE3F2F"/><ellipse cx="40" cy="110" rx="3.3" ry="2.9" fill="#EE3F2F"/><ellipse cx="210" cy="110" rx="3.3" ry="2.9" fill="#EE3F2F"/><ellipse cx="88" cy="75" rx="3.3" ry="2.9" fill="#EE3F2F"/><ellipse cx="162" cy="75" rx="3.3" ry="2.9" fill="#EE3F2F"/><ellipse cx="125" cy="100" rx="3.3" ry="2.9" fill="#EE3F2F"/><ellipse cx="75" cy="108" rx="3.3" ry="2.9" fill="#EE3F2F"/><ellipse cx="175" cy="108" rx="3.3" ry="2.9" fill="#EE3F2F"/><ellipse cx="48" cy="88" rx="3.3" ry="2.9" fill="#2C3CA8"/><ellipse cx="202" cy="88" rx="3.3" ry="2.9" fill="#2C3CA8"/><ellipse cx="65" cy="92" rx="3.3" ry="2.9" fill="#2C3CA8"/><ellipse cx="185" cy="92" rx="3.3" ry="2.9" fill="#2C3CA8"/><ellipse cx="80" cy="98" rx="3.3" ry="2.9" fill="#2C3CA8"/><ellipse cx="170" cy="98" rx="3.3" ry="2.9" fill="#2C3CA8"/></g>
<g transform="translate(941.0,61.0) scale(0.5840,0.4760)" fill="none" stroke-linecap="round"><path d="M243 121L115 50M243 121L178 218M226 161L116 129M222 97L178 218M222 97L116 129M241 80L172 125M210 180L172 125M210 117L165 139M226 161L165 139M222 97L150 145M199 49L172 125M214 62L31 48M210 117L100 88M222 70L139 11M222 70L100 88M160 20L81 100M160 20L49 62M160 20L72 12M137 39L93 26M137 39L49 62M137 39L90 69M183 33L81 100M183 33L11 100M183 33L91 145M160 20L139 11M160 20L63 138M137 39L139 11M137 39L21 77M137 39L27 150M137 39L125 28M183 33L63 138M177 169L81 100M137 114L178 218M137 114L116 129M177 169L127 179M137 114L172 125M137 114L165 139M137 114L150 145M137 114L100 88M177 169L21 77M177 169L100 88M108 0L2 111M43 19L4 84M43 19L1 135M81 100L2 111M81 100L1 135M81 100L11 100M115 50L4 84M115 50L1 135M62 51L1 135M93 26L2 111M93 26L11 100M49 62L4 84M49 62L2 111M49 62L1 135M49 62L7 165M49 62L11 100M90 69L4 84M90 69L1 135M72 12L1 135M72 12L11 100M72 12L16 149M108 0L178 180M108 0L116 129M108 0L127 179M43 19L116 129M81 100L116 129M81 100L127 179M115 50L178 180M115 50L91 145M62 51L116 129M93 26L78 186M49 62L78 186M49 62L116 129M90 69L116 129M93 26L53 250M90 69L26 197M108 0L139 11M108 0L27 150M108 0L125 28M43 19L139 11M43 19L31 48M43 19L21 77M43 19L38 112M43 19L63 138M43 19L125 28M81 100L21 77M81 100L100 88M81 100L27 150M81 100L63 138M81 100L125 28M115 50L38 112M115 50L100 88M115 50L63 138M115 50L125 28M62 51L31 48M62 51L21 77M62 51L38 112M62 51L27 150M62 51L63 138M62 51L125 28M93 26L31 48M93 26L21 77M93 26L38 112M93 26L100 88M93 26L27 150M93 26L63 138M93 26L125 28M49 62L139 11M49 62L31 48M49 62L21 77M49 62L38 112M49 62L63 138M49 62L125 28M90 69L139 11M90 69L31 48M90 69L38 112M90 69L100 88M90 69L27 150M90 69L63 138M72 12L31 48M72 12L38 112M72 12L100 88M11 100L78 186M16 149L78 186M16 149L127 179M4 84L34 216M4 84L59 182M2 111L66 242M2 111L53 250M2 111L42 248M7 165L66 242M7 165L18 228M7 165L26 197M7 165L47 190M7 165L34 216M7 165L59 182M11 100L53 250M11 100L47 190M16 149L18 228M16 149L47 190M16 149L34 216M4 84L31 48M4 84L21 77M4 84L38 112M4 84L100 88M4 84L27 150M4 84L63 138M4 84L125 28M2 111L38 112M2 111L100 88M1 135L31 48M1 135L38 112M1 135L27 150M1 135L63 138M1 135L125 28M7 165L139 11M7 165L31 48M7 165L38 112M7 165L27 150M7 165L63 138M11 100L31 48M11 100L21 77M11 100L38 112M11 100L27 150M11 100L63 138M16 149L31 48M16 149L38 112M16 149L27 150M16 149L63 138M178 180L26 197M178 218L59 182M78 186L26 197M91 145L59 182M127 179L66 242M127 179L53 250M127 179L34 216M178 180L172 125M178 218L172 125M78 186L165 139M78 186L150 145M116 129L172 125M116 129L165 139M116 129L150 145M91 145L172 125M127 179L172 125M127 179L165 139M178 180L139 11M178 180L100 88M178 180L63 138M178 218L38 112M178 218L100 88M78 186L139 11M78 186L100 88M78 186L27 150M116 129L21 77M116 129L38 112M116 129L100 88M116 129L125 28M91 145L31 48M91 145L100 88M91 145L27 150M91 145L63 138M91 145L125 28M127 179L139 11M127 179L21 77M127 179L100 88M127 179L63 138M47 190L172 125M66 242L63 138M53 250L31 48M53 250L27 150M53 250L63 138M42 248L139 11M42 248L38 112M18 228L27 150M26 197L38 112M26 197L100 88M26 197L27 150M26 197L63 138M34 216L21 77M59 182L100 88M59 182L27 150M172 125L38 112M172 125L100 88M165 139L38 112M165 139L100 88M139 11L125 28M31 48L21 77M31 48L38 112M31 48L27 150M31 48L63 138M31 48L125 28M21 77L38 112M21 77L100 88M21 77L125 28M38 112L100 88M38 112L27 150M38 112L63 138M38 112L125 28M100 88L27 150M100 88L125 28M27 150L63 138M63 138L125 28" stroke="#8B8B8B" stroke-width="1.45" vector-effect="non-scaling-stroke"/><path d="M178 180L178 218M178 180L78 186M178 180L116 129M178 180L91 145M178 180L127 179M178 218L78 186M178 218L116 129M178 218L91 145M178 218L127 179M78 186L91 145M116 129L127 179M91 145L127 179" stroke="#EFC21C" stroke-width="1.80" vector-effect="non-scaling-stroke"/><path d="M108 0L43 19M108 0L81 100M108 0L115 50M108 0L62 51M108 0L93 26M108 0L90 69M43 19L62 51M43 19L72 12M81 100L62 51M115 50L93 26M115 50L49 62M115 50L90 69M62 51L93 26M62 51L49 62M62 51L72 12M93 26L49 62M93 26L90 69M49 62L90 69" stroke="#8DC441" stroke-width="1.80" vector-effect="non-scaling-stroke"/><path d="M4 84L2 111M4 84L7 165M4 84L11 100M2 111L7 165M2 111L11 100M1 135L7 165M1 135L11 100M1 135L16 149M7 165L11 100M11 100L16 149" stroke="#1EB3CE" stroke-width="2.20" vector-effect="non-scaling-stroke"/><path d="M66 242L53 250M66 242L42 248M66 242L26 197M66 242L34 216M53 250L42 248M53 250L18 228M53 250L47 190M53 250L34 216M53 250L59 182M42 248L18 228M42 248L26 197M42 248L47 190M42 248L34 216M18 228L26 197M18 228L34 216M18 228L59 182M26 197L47 190M47 190L34 216M47 190L59 182M34 216L59 182" stroke="#E01E6A" stroke-width="1.70" vector-effect="non-scaling-stroke"/><path d="M241 80L248 162M241 80L214 62M241 80L210 180M241 80L210 117M241 80L243 121M241 80L222 70M241 80L226 161M241 80L222 97M241 80L199 49M248 162L240 176M248 162L214 62M248 162L210 180M248 162L210 117M248 162L243 121M248 162L222 70M248 162L226 161M248 162L199 49M240 176L214 62M240 176L210 117M240 176L231 127M240 176L243 121M240 176L226 161M240 176L222 97M240 176L199 49M214 62L210 180M214 62L210 117M214 62L231 127M214 62L243 121M214 62L222 70M214 62L226 161M214 62L222 97M214 62L199 49M210 180L210 117M210 180L231 127M210 180L243 121M210 180L222 70M210 180L226 161M210 180L222 97M210 180L199 49M210 117L231 127M210 117L222 70M210 117L226 161M210 117L222 97M210 117L199 49M231 127L222 70M231 127L226 161M231 127L199 49M243 121L222 70M243 121L226 161M243 121L222 97M222 70L226 161M222 70L222 97M222 70L199 49M226 161L222 97M226 161L199 49M241 80L183 33M248 162L160 20M240 176L137 39M214 62L160 20M214 62L137 39M210 117L137 39M210 117L183 33M231 127L160 20M243 121L183 33M199 49L137 39M199 49L183 33M199 49L137 114M160 20L137 39M160 20L183 33M137 39L183 33M183 33L177 169" stroke="#EE3F2F" stroke-width="2.00" vector-effect="non-scaling-stroke"/><path d="M172 125L165 139M172 125L150 145M165 139L150 145" stroke="#2C3CA8" stroke-width="1.80" vector-effect="non-scaling-stroke"/><ellipse cx="178" cy="180" rx="2.7" ry="3.4" fill="#EFC21C"/><ellipse cx="178" cy="218" rx="2.7" ry="3.4" fill="#EFC21C"/><ellipse cx="78" cy="186" rx="2.7" ry="3.4" fill="#EFC21C"/><ellipse cx="116" cy="129" rx="2.7" ry="3.4" fill="#EFC21C"/><ellipse cx="91" cy="145" rx="2.7" ry="3.4" fill="#EFC21C"/><ellipse cx="127" cy="179" rx="2.7" ry="3.4" fill="#EFC21C"/><ellipse cx="108" cy="0" rx="2.7" ry="3.4" fill="#8DC441"/><ellipse cx="43" cy="19" rx="2.7" ry="3.4" fill="#8DC441"/><ellipse cx="81" cy="100" rx="2.7" ry="3.4" fill="#8DC441"/><ellipse cx="115" cy="50" rx="2.7" ry="3.4" fill="#8DC441"/><ellipse cx="62" cy="51" rx="2.7" ry="3.4" fill="#8DC441"/><ellipse cx="93" cy="26" rx="2.7" ry="3.4" fill="#8DC441"/><ellipse cx="49" cy="62" rx="2.7" ry="3.4" fill="#8DC441"/><ellipse cx="90" cy="69" rx="2.7" ry="3.4" fill="#8DC441"/><ellipse cx="72" cy="12" rx="2.7" ry="3.4" fill="#8DC441"/><ellipse cx="4" cy="84" rx="2.7" ry="3.4" fill="#1EB3CE"/><ellipse cx="2" cy="111" rx="2.7" ry="3.4" fill="#1EB3CE"/><ellipse cx="1" cy="135" rx="2.7" ry="3.4" fill="#1EB3CE"/><ellipse cx="7" cy="165" rx="2.7" ry="3.4" fill="#1EB3CE"/><ellipse cx="11" cy="100" rx="2.7" ry="3.4" fill="#1EB3CE"/><ellipse cx="16" cy="149" rx="2.7" ry="3.4" fill="#1EB3CE"/><ellipse cx="66" cy="242" rx="2.7" ry="3.4" fill="#E01E6A"/><ellipse cx="53" cy="250" rx="2.7" ry="3.4" fill="#E01E6A"/><ellipse cx="42" cy="248" rx="2.7" ry="3.4" fill="#E01E6A"/><ellipse cx="18" cy="228" rx="2.7" ry="3.4" fill="#E01E6A"/><ellipse cx="26" cy="197" rx="2.7" ry="3.4" fill="#E01E6A"/><ellipse cx="47" cy="190" rx="2.7" ry="3.4" fill="#E01E6A"/><ellipse cx="34" cy="216" rx="2.7" ry="3.4" fill="#E01E6A"/><ellipse cx="59" cy="182" rx="2.7" ry="3.4" fill="#E01E6A"/><ellipse cx="241" cy="80" rx="2.7" ry="3.4" fill="#EE3F2F"/><ellipse cx="248" cy="162" rx="2.7" ry="3.4" fill="#EE3F2F"/><ellipse cx="240" cy="176" rx="2.7" ry="3.4" fill="#EE3F2F"/><ellipse cx="214" cy="62" rx="2.7" ry="3.4" fill="#EE3F2F"/><ellipse cx="210" cy="180" rx="2.7" ry="3.4" fill="#EE3F2F"/><ellipse cx="210" cy="117" rx="2.7" ry="3.4" fill="#EE3F2F"/><ellipse cx="231" cy="127" rx="2.7" ry="3.4" fill="#EE3F2F"/><ellipse cx="243" cy="121" rx="2.7" ry="3.4" fill="#EE3F2F"/><ellipse cx="222" cy="70" rx="2.7" ry="3.4" fill="#EE3F2F"/><ellipse cx="226" cy="161" rx="2.7" ry="3.4" fill="#EE3F2F"/><ellipse cx="222" cy="97" rx="2.7" ry="3.4" fill="#EE3F2F"/><ellipse cx="199" cy="49" rx="2.7" ry="3.4" fill="#EE3F2F"/><ellipse cx="160" cy="20" rx="2.7" ry="3.4" fill="#EE3F2F"/><ellipse cx="137" cy="39" rx="2.7" ry="3.4" fill="#EE3F2F"/><ellipse cx="183" cy="33" rx="2.7" ry="3.4" fill="#EE3F2F"/><ellipse cx="137" cy="114" rx="2.7" ry="3.4" fill="#EE3F2F"/><ellipse cx="177" cy="169" rx="2.7" ry="3.4" fill="#EE3F2F"/><ellipse cx="172" cy="125" rx="2.7" ry="3.4" fill="#2C3CA8"/><ellipse cx="165" cy="139" rx="2.7" ry="3.4" fill="#2C3CA8"/><ellipse cx="150" cy="145" rx="2.7" ry="3.4" fill="#2C3CA8"/></g>
<line x1="656" y1="347.3" x2="1070" y2="347.3" stroke="#E2E2E2" stroke-width="1.2"/>
<text x="640.0" y="352.8" font-family="'Liberation Sans', Arial, sans-serif" font-size="15.5" font-weight="bold" fill="#595959" text-anchor="end" textLength="9.1" lengthAdjust="spacingAndGlyphs">0</text>
<line x1="656" y1="330.0" x2="1070" y2="330.0" stroke="#E2E2E2" stroke-width="1.2"/>
<text x="640.0" y="335.5" font-family="'Liberation Sans', Arial, sans-serif" font-size="15.5" font-weight="bold" fill="#595959" text-anchor="end" textLength="18.2" lengthAdjust="spacingAndGlyphs">50</text>
<line x1="656" y1="312.6" x2="1070" y2="312.6" stroke="#E2E2E2" stroke-width="1.2"/>
<text x="640.0" y="318.1" font-family="'Liberation Sans', Arial, sans-serif" font-size="15.5" font-weight="bold" fill="#595959" text-anchor="end" textLength="27.3" lengthAdjust="spacingAndGlyphs">100</text>
<line x1="656" y1="295.3" x2="1070" y2="295.3" stroke="#E2E2E2" stroke-width="1.2"/>
<text x="640.0" y="300.8" font-family="'Liberation Sans', Arial, sans-serif" font-size="15.5" font-weight="bold" fill="#595959" text-anchor="end" textLength="27.3" lengthAdjust="spacingAndGlyphs">150</text>
<line x1="656" y1="278.0" x2="1070" y2="278.0" stroke="#E2E2E2" stroke-width="1.2"/>
<text x="640.0" y="283.5" font-family="'Liberation Sans', Arial, sans-serif" font-size="15.5" font-weight="bold" fill="#595959" text-anchor="end" textLength="27.3" lengthAdjust="spacingAndGlyphs">200</text>
<line x1="656" y1="260.7" x2="1070" y2="260.7" stroke="#E2E2E2" stroke-width="1.2"/>
<text x="640.0" y="266.2" font-family="'Liberation Sans', Arial, sans-serif" font-size="15.5" font-weight="bold" fill="#595959" text-anchor="end" textLength="27.3" lengthAdjust="spacingAndGlyphs">250</text>
<line x1="656" y1="243.4" x2="1070" y2="243.4" stroke="#E2E2E2" stroke-width="1.2"/>
<text x="640.0" y="248.9" font-family="'Liberation Sans', Arial, sans-serif" font-size="15.5" font-weight="bold" fill="#595959" text-anchor="end" textLength="27.3" lengthAdjust="spacingAndGlyphs">300</text>
<line x1="656" y1="226.0" x2="1070" y2="226.0" stroke="#E2E2E2" stroke-width="1.2"/>
<text x="640.0" y="231.5" font-family="'Liberation Sans', Arial, sans-serif" font-size="15.5" font-weight="bold" fill="#595959" text-anchor="end" textLength="27.3" lengthAdjust="spacingAndGlyphs">350</text>
<line x1="656" y1="208.7" x2="1070" y2="208.7" stroke="#E2E2E2" stroke-width="1.2"/>
<text x="640.0" y="214.2" font-family="'Liberation Sans', Arial, sans-serif" font-size="15.5" font-weight="bold" fill="#595959" text-anchor="end" textLength="27.3" lengthAdjust="spacingAndGlyphs">400</text>
<text x="1080.5" y="350.6" font-family="'Liberation Sans', Arial, sans-serif" font-size="10.2" font-weight="bold" fill="#595959" textLength="5.9" lengthAdjust="spacingAndGlyphs">0</text>
<text x="1080.5" y="327.8" font-family="'Liberation Sans', Arial, sans-serif" font-size="10.2" font-weight="bold" fill="#595959" textLength="21.0" lengthAdjust="spacingAndGlyphs">0.05</text>
<text x="1080.5" y="305.0" font-family="'Liberation Sans', Arial, sans-serif" font-size="10.2" font-weight="bold" fill="#595959" textLength="15.1" lengthAdjust="spacingAndGlyphs">0.1</text>
<text x="1080.5" y="282.1" font-family="'Liberation Sans', Arial, sans-serif" font-size="10.2" font-weight="bold" fill="#595959" textLength="21.0" lengthAdjust="spacingAndGlyphs">0.15</text>
<text x="1080.5" y="259.3" font-family="'Liberation Sans', Arial, sans-serif" font-size="10.2" font-weight="bold" fill="#595959" textLength="15.1" lengthAdjust="spacingAndGlyphs">0.2</text>
<text x="1080.5" y="236.5" font-family="'Liberation Sans', Arial, sans-serif" font-size="10.2" font-weight="bold" fill="#595959" textLength="21.0" lengthAdjust="spacingAndGlyphs">0.25</text>
<text x="1080.5" y="213.6" font-family="'Liberation Sans', Arial, sans-serif" font-size="10.2" font-weight="bold" fill="#595959" textLength="15.1" lengthAdjust="spacingAndGlyphs">0.3</text>
<rect x="674.9" y="224.6" width="33.5" height="122.7" fill="#5195DA"/>
<rect x="743.6" y="288.4" width="33.5" height="58.9" fill="#5195DA"/>
<rect x="812.2" y="277.3" width="33.5" height="70.0" fill="#5195DA"/>
<rect x="881.0" y="274.5" width="33.5" height="72.8" fill="#5195DA"/>
<rect x="949.7" y="337.6" width="33.5" height="9.7" fill="#5195DA"/>
<rect x="1018.3" y="318.5" width="33.5" height="28.8" fill="#5195DA"/>
<polyline points="691.6,245.9 760.3,218.0 829.0,245.6 897.7,254.4 966.4,221.6 1035.1,233.5" fill="none" stroke="#ED7D31" stroke-width="2.6" stroke-linejoin="round"/>
<circle cx="691.6" cy="245.9" r="3.2" fill="#ED7D31"/>
<circle cx="760.3" cy="218.0" r="3.2" fill="#ED7D31"/>
<circle cx="829.0" cy="245.6" r="3.2" fill="#ED7D31"/>
<circle cx="897.7" cy="254.4" r="3.2" fill="#ED7D31"/>
<circle cx="966.4" cy="221.6" r="3.2" fill="#ED7D31"/>
<circle cx="1035.1" cy="233.5" r="3.2" fill="#ED7D31"/>
<line x1="695" y1="247" x2="712" y2="254" stroke="#B4CCE6" stroke-width="1"/>
<text x="691.6" y="215.6" font-family="'Liberation Sans', Arial, sans-serif" font-size="16" font-weight="bold" fill="#285A80" text-anchor="middle" textLength="26.2" lengthAdjust="spacingAndGlyphs">354</text>
<text x="760.5" y="279.2" font-family="'Liberation Sans', Arial, sans-serif" font-size="16" font-weight="bold" fill="#285A80" text-anchor="middle" textLength="26.2" lengthAdjust="spacingAndGlyphs">170</text>
<text x="828.8" y="267.4" font-family="'Liberation Sans', Arial, sans-serif" font-size="16" font-weight="bold" fill="#285A80" text-anchor="middle" textLength="26.2" lengthAdjust="spacingAndGlyphs">202</text>
<text x="898.0" y="264.9" font-family="'Liberation Sans', Arial, sans-serif" font-size="16" font-weight="bold" fill="#285A80" text-anchor="middle" textLength="26.2" lengthAdjust="spacingAndGlyphs">210</text>
<text x="966.3" y="328.1" font-family="'Liberation Sans', Arial, sans-serif" font-size="16" font-weight="bold" fill="#285A80" text-anchor="middle" textLength="17.5" lengthAdjust="spacingAndGlyphs">28</text>
<text x="1035.0" y="308.6" font-family="'Liberation Sans', Arial, sans-serif" font-size="16" font-weight="bold" fill="#285A80" text-anchor="middle" textLength="17.5" lengthAdjust="spacingAndGlyphs">83</text>
<text x="745.0" y="259.2" font-family="'Liberation Sans', Arial, sans-serif" font-size="16" font-weight="bold" fill="#B95F2A" text-anchor="middle" textLength="55.3" lengthAdjust="spacingAndGlyphs">22.13%</text>
<text x="760.0" y="211.4" font-family="'Liberation Sans', Arial, sans-serif" font-size="16" font-weight="bold" fill="#B95F2A" text-anchor="middle" textLength="55.3" lengthAdjust="spacingAndGlyphs">28.24%</text>
<text x="828.4" y="232.7" font-family="'Liberation Sans', Arial, sans-serif" font-size="16" font-weight="bold" fill="#B95F2A" text-anchor="middle" textLength="55.3" lengthAdjust="spacingAndGlyphs">22.20%</text>
<text x="897.8" y="241.4" font-family="'Liberation Sans', Arial, sans-serif" font-size="16" font-weight="bold" fill="#B95F2A" text-anchor="middle" textLength="55.3" lengthAdjust="spacingAndGlyphs">20.27%</text>
<text x="966.3" y="211.7" font-family="'Liberation Sans', Arial, sans-serif" font-size="16" font-weight="bold" fill="#B95F2A" text-anchor="middle" textLength="55.3" lengthAdjust="spacingAndGlyphs">27.45%</text>
<text x="1035.5" y="219.8" font-family="'Liberation Sans', Arial, sans-serif" font-size="16" font-weight="bold" fill="#B95F2A" text-anchor="middle" textLength="55.3" lengthAdjust="spacingAndGlyphs">24.85%</text>
<text transform="translate(697.1,373.8) rotate(-45)" text-anchor="end" font-family="'Liberation Sans', Arial, sans-serif" font-weight="bold" fill="#000"><tspan font-size="19.5">F</tspan><tspan font-size="16.6">RONTAL</tspan></text>
<text transform="translate(765.8,373.8) rotate(-45)" text-anchor="end" font-family="'Liberation Sans', Arial, sans-serif" font-weight="bold" fill="#000"><tspan font-size="19.5">T</tspan><tspan font-size="16.6">EMPORAL</tspan></text>
<text transform="translate(834.5,373.8) rotate(-45)" text-anchor="end" font-family="'Liberation Sans', Arial, sans-serif" font-weight="bold" fill="#000"><tspan font-size="19.5">P</tspan><tspan font-size="16.6">ARIETAL</tspan></text>
<text transform="translate(903.2,373.8) rotate(-45)" text-anchor="end" font-family="'Liberation Sans', Arial, sans-serif" font-weight="bold" fill="#000"><tspan font-size="19.5">O</tspan><tspan font-size="16.6">CCIPITAL</tspan></text>
<text transform="translate(971.9,373.8) rotate(-45)" text-anchor="end" font-family="'Liberation Sans', Arial, sans-serif" font-weight="bold" fill="#000"><tspan font-size="19.5">S</tspan><tspan font-size="16.6">UBCORTICAL</tspan></text>
<text transform="translate(1040.6,373.8) rotate(-45)" text-anchor="end" font-family="'Liberation Sans', Arial, sans-serif" font-weight="bold" fill="#000"><tspan font-size="19.5">C</tspan><tspan font-size="16.6">EREBELLAR</tspan></text>
<rect x="657.5" y="456.5" width="42" height="19" fill="#5195DA"/>
<text x="713.8" y="473.6" font-family="'Liberation Sans', Arial, sans-serif" font-size="20" fill="#262626" textLength="191.2" lengthAdjust="spacingAndGlyphs">Connected Number</text>
<line x1="928" y1="466.3" x2="982.5" y2="466.3" stroke="#ED7D31" stroke-width="3"/>
<circle cx="955.2" cy="466.3" r="5" fill="#ED7D31"/>
<text x="996.0" y="473.6" font-family="'Liberation Sans', Arial, sans-serif" font-size="20" fill="#262626" textLength="102.0" lengthAdjust="spacingAndGlyphs">Proportion</text>
<text x="1484.0" y="28.7" font-family="'Liberation Sans', Arial, sans-serif" font-size="26.3" font-weight="bold" fill="#000" text-anchor="middle" textLength="77.0" lengthAdjust="spacingAndGlyphs">Broca</text>
<text x="1249.0" y="62.5" font-family="'Liberation Serif', 'Times New Roman', serif" font-size="14" font-weight="bold" fill="#000">L</text>
<text x="1412.5" y="62.0" font-family="'Liberation Serif', 'Times New Roman', serif" font-size="14" font-weight="bold" fill="#000">T</text>
<text x="1564.5" y="62.3" font-family="'Liberation Serif', 'Times New Roman', serif" font-size="14" font-weight="bold" fill="#000">R</text>
<g transform="translate(1259.0,55.0) scale(0.5880,0.4800)" fill="none" stroke-linecap="round"><path d="M40 178L143 0M7 122L143 0M25 70L171 100M51 50L160 68M41 116L133 129M4 160L98 143M13 177L87 139M13 177L98 143M41 116L80 125M18 127L98 143M7 122L87 139M4 160L189 138M13 177L151 86M40 178L211 111M41 116L189 138M90 19L171 100M90 19L134 51M90 19L188 49M112 40L188 49M112 40L155 25M67 36L134 51M67 36L155 25M67 36L202 60M90 19L249 113M90 19L228 76M90 19L189 138M112 40L151 86M112 40L125 28M67 36L114 11M67 36L228 76M67 36L151 86M67 36L125 28M111 115L171 100M111 115L133 129M73 165L159 145M111 115L80 125M111 115L151 86M111 115L125 28M143 0L246 85M206 16L233 150M171 100L249 113M171 100L235 99M134 51L233 150M188 49L246 85M188 49L249 113M188 49L235 99M155 25L246 85M155 25L249 113M155 25L243 164M155 25L235 99M155 25L233 150M202 60L246 85M202 60L249 113M202 60L243 164M202 60L235 99M202 60L233 150M160 68L235 99M160 68L233 150M180 11L249 113M180 11L243 164M143 0L133 129M143 0L127 182M206 16L159 145M171 100L71 182M171 100L133 129M171 100L127 182M188 49L173 185M202 60L173 185M160 68L159 145M180 11L74 218M180 11L173 185M134 51L231 227M180 11L203 193M160 68L87 139M143 0L114 11M143 0L228 76M143 0L151 86M206 16L114 11M206 16L222 50M206 16L228 76M206 16L211 111M206 16L225 148M206 16L189 138M171 100L114 11M171 100L222 50M171 100L228 76M171 100L211 111M171 100L151 86M171 100L189 138M171 100L125 28M134 51L114 11M134 51L222 50M134 51L151 86M134 51L125 28M188 49L114 11M188 49L222 50M188 49L228 76M188 49L211 111M188 49L225 148M188 49L125 28M155 25L114 11M155 25L211 111M155 25L225 148M155 25L125 28M202 60L114 11M202 60L222 50M202 60L228 76M202 60L225 148M202 60L189 138M160 68L222 50M160 68L228 76M160 68L151 86M160 68L225 148M160 68L189 138M160 68L125 28M180 11L228 76M180 11L151 86M180 11L189 138M180 11L125 28M246 85L173 185M243 164L71 182M235 99L159 145M246 85L184 240M246 85L218 216M249 113L225 199M249 113L192 181M249 139L203 193M249 139L218 216M249 139L192 181M243 164L184 240M243 164L212 244M235 99L200 246M235 99L231 227M235 99L192 181M233 150L200 246M233 150L203 193M233 150L218 216M249 113L98 143M246 85L114 11M246 85L228 76M246 85L211 111M246 85L189 138M249 113L222 50M249 113L211 111M249 113L189 138M249 139L222 50M249 139L211 111M249 139L225 148M243 164L222 50M243 164L211 111M243 164L151 86M243 164L225 148M243 164L189 138M235 99L114 11M235 99L222 50M235 99L228 76M235 99L211 111M235 99L189 138M235 99L125 28M233 150L151 86M233 150L125 28M71 182L184 240M74 218L184 240M74 218L212 244M74 218L218 216M71 182L80 125M74 218L80 125M74 218L87 139M133 129L80 125M133 129L87 139M159 145L87 139M127 182L98 143M71 182L114 11M71 182L211 111M71 182L189 138M74 218L151 86M173 185L114 11M173 185L228 76M173 185L151 86M173 185L225 148M173 185L189 138M173 185L125 28M133 129L211 111M133 129L189 138M159 145L222 50M159 145L211 111M127 182L211 111M127 182L189 138M225 199L87 139M218 216L98 143M184 240L189 138M200 246L211 111M212 244L211 111M225 199L222 50M225 199L151 86M225 199L225 148M203 193L114 11M203 193L222 50M203 193L189 138M218 216L114 11M218 216L228 76M218 216L225 148M192 181L222 50M192 181L228 76M80 125L228 76M98 143L228 76M98 143L151 86M114 11L222 50M114 11L211 111M114 11L151 86M114 11L225 148M222 50L228 76M222 50L211 111M222 50L151 86M222 50L225 148M222 50L189 138M228 76L211 111M228 76L151 86M228 76L189 138M211 111L151 86M211 111L225 148" stroke="#8B8B8B" stroke-width="1.45" vector-effect="non-scaling-stroke"/><path d="M71 182L74 218M71 182L173 185M71 182L159 145M71 182L127 182M74 218L173 185M74 218L133 129M74 218L159 145M74 218L127 182M173 185L133 129M173 185L159 145M173 185L127 182M133 129L159 145M159 145L127 182" stroke="#EFC21C" stroke-width="1.80" vector-effect="non-scaling-stroke"/><path d="M143 0L206 16M143 0L134 51M143 0L188 49M143 0L155 25M206 16L171 100M206 16L134 51M206 16L188 49M206 16L155 25M206 16L202 60M206 16L180 11M171 100L134 51M171 100L188 49M171 100L155 25M171 100L160 68M171 100L180 11M134 51L155 25M134 51L202 60M134 51L160 68M188 49L155 25M188 49L202 60M188 49L160 68M155 25L202 60M155 25L160 68M155 25L180 11M202 60L160 68M202 60L180 11" stroke="#8DC441" stroke-width="1.80" vector-effect="non-scaling-stroke"/><path d="M246 85L249 113M246 85L249 139M246 85L235 99M246 85L233 150M249 113L249 139M249 113L243 164M249 113L235 99M249 113L233 150M249 139L243 164M249 139L235 99M243 164L235 99M243 164L233 150M235 99L233 150" stroke="#1EB3CE" stroke-width="2.20" vector-effect="non-scaling-stroke"/><path d="M184 240L200 246M184 240L212 244M184 240L225 199M184 240L218 216M200 246L212 244M200 246L231 227M200 246L225 199M200 246L203 193M200 246L218 216M212 244L231 227M212 244L225 199M212 244L203 193M212 244L218 216M231 227L225 199M231 227L203 193M231 227L218 216M225 199L203 193M225 199L218 216M225 199L192 181M203 193L192 181M218 216L192 181" stroke="#E01E6A" stroke-width="1.70" vector-effect="non-scaling-stroke"/><path d="M7 80L13 177M7 80L36 62M7 80L41 116M7 80L18 127M7 80L7 122M7 80L51 50M4 160L13 177M4 160L36 62M4 160L40 178M4 160L41 116M4 160L18 127M4 160L7 122M4 160L25 70M4 160L28 94M4 160L51 50M13 177L36 62M13 177L40 178M13 177L41 116M13 177L18 127M13 177L7 122M13 177L25 70M13 177L22 158M13 177L28 94M13 177L51 50M36 62L40 178M36 62L18 127M36 62L7 122M36 62L28 94M36 62L51 50M40 178L41 116M40 178L18 127M40 178L7 122M40 178L25 70M40 178L22 158M40 178L28 94M40 178L51 50M41 116L18 127M41 116L7 122M41 116L25 70M41 116L22 158M41 116L28 94M41 116L51 50M18 127L7 122M18 127L22 158M18 127L28 94M7 122L25 70M7 122L22 158M7 122L28 94M7 122L51 50M25 70L22 158M25 70L28 94M22 158L28 94M28 94L51 50M7 80L112 40M7 80L67 36M4 160L90 19M36 62L90 19M36 62L112 40M36 62L67 36M40 178L90 19M40 178L67 36M41 116L90 19M41 116L112 40M25 70L112 40M28 94L90 19M28 94L112 40M51 50L90 19M51 50L112 40M7 80L111 115M18 127L73 165M90 19L112 40M112 40L67 36M112 40L111 115" stroke="#EE3F2F" stroke-width="2.00" vector-effect="non-scaling-stroke"/><path d="M80 125L87 139M80 125L98 143M87 139L98 143" stroke="#2C3CA8" stroke-width="1.80" vector-effect="non-scaling-stroke"/><ellipse cx="71" cy="182" rx="2.7" ry="3.3" fill="#EFC21C"/><ellipse cx="74" cy="218" rx="2.7" ry="3.3" fill="#EFC21C"/><ellipse cx="173" cy="185" rx="2.7" ry="3.3" fill="#EFC21C"/><ellipse cx="133" cy="129" rx="2.7" ry="3.3" fill="#EFC21C"/><ellipse cx="159" cy="145" rx="2.7" ry="3.3" fill="#EFC21C"/><ellipse cx="127" cy="182" rx="2.7" ry="3.3" fill="#EFC21C"/><ellipse cx="143" cy="0" rx="2.7" ry="3.3" fill="#8DC441"/><ellipse cx="206" cy="16" rx="2.7" ry="3.3" fill="#8DC441"/><ellipse cx="171" cy="100" rx="2.7" ry="3.3" fill="#8DC441"/><ellipse cx="134" cy="51" rx="2.7" ry="3.3" fill="#8DC441"/><ellipse cx="188" cy="49" rx="2.7" ry="3.3" fill="#8DC441"/><ellipse cx="155" cy="25" rx="2.7" ry="3.3" fill="#8DC441"/><ellipse cx="202" cy="60" rx="2.7" ry="3.3" fill="#8DC441"/><ellipse cx="160" cy="68" rx="2.7" ry="3.3" fill="#8DC441"/><ellipse cx="180" cy="11" rx="2.7" ry="3.3" fill="#8DC441"/><ellipse cx="246" cy="85" rx="2.7" ry="3.3" fill="#1EB3CE"/><ellipse cx="249" cy="113" rx="2.7" ry="3.3" fill="#1EB3CE"/><ellipse cx="249" cy="139" rx="2.7" ry="3.3" fill="#1EB3CE"/><ellipse cx="243" cy="164" rx="2.7" ry="3.3" fill="#1EB3CE"/><ellipse cx="235" cy="99" rx="2.7" ry="3.3" fill="#1EB3CE"/><ellipse cx="233" cy="150" rx="2.7" ry="3.3" fill="#1EB3CE"/><ellipse cx="184" cy="240" rx="2.7" ry="3.3" fill="#E01E6A"/><ellipse cx="200" cy="246" rx="2.7" ry="3.3" fill="#E01E6A"/><ellipse cx="212" cy="244" rx="2.7" ry="3.3" fill="#E01E6A"/><ellipse cx="231" cy="227" rx="2.7" ry="3.3" fill="#E01E6A"/><ellipse cx="225" cy="199" rx="2.7" ry="3.3" fill="#E01E6A"/><ellipse cx="203" cy="193" rx="2.7" ry="3.3" fill="#E01E6A"/><ellipse cx="218" cy="216" rx="2.7" ry="3.3" fill="#E01E6A"/><ellipse cx="192" cy="181" rx="2.7" ry="3.3" fill="#E01E6A"/><ellipse cx="7" cy="80" rx="2.7" ry="3.3" fill="#EE3F2F"/><ellipse cx="4" cy="160" rx="2.7" ry="3.3" fill="#EE3F2F"/><ellipse cx="13" cy="177" rx="2.7" ry="3.3" fill="#EE3F2F"/><ellipse cx="36" cy="62" rx="2.7" ry="3.3" fill="#EE3F2F"/><ellipse cx="40" cy="178" rx="2.7" ry="3.3" fill="#EE3F2F"/><ellipse cx="41" cy="116" rx="2.7" ry="3.3" fill="#EE3F2F"/><ellipse cx="18" cy="127" rx="2.7" ry="3.3" fill="#EE3F2F"/><ellipse cx="7" cy="122" rx="2.7" ry="3.3" fill="#EE3F2F"/><ellipse cx="25" cy="70" rx="2.7" ry="3.3" fill="#EE3F2F"/><ellipse cx="22" cy="158" rx="2.7" ry="3.3" fill="#EE3F2F"/><ellipse cx="28" cy="94" rx="2.7" ry="3.3" fill="#EE3F2F"/><ellipse cx="51" cy="50" rx="2.7" ry="3.3" fill="#EE3F2F"/><ellipse cx="90" cy="19" rx="2.7" ry="3.3" fill="#EE3F2F"/><ellipse cx="112" cy="40" rx="2.7" ry="3.3" fill="#EE3F2F"/><ellipse cx="67" cy="36" rx="2.7" ry="3.3" fill="#EE3F2F"/><ellipse cx="111" cy="115" rx="2.7" ry="3.3" fill="#EE3F2F"/><ellipse cx="73" cy="165" rx="2.7" ry="3.3" fill="#EE3F2F"/><ellipse cx="80" cy="125" rx="2.7" ry="3.3" fill="#2C3CA8"/><ellipse cx="87" cy="139" rx="2.7" ry="3.3" fill="#2C3CA8"/><ellipse cx="98" cy="143" rx="2.7" ry="3.3" fill="#2C3CA8"/></g>
<g transform="translate(1424.5,47.5) scale(0.4860,0.5500)" fill="none" stroke-linecap="round"><path d="M52 8L65 92M198 8L185 92M112 0L48 88M138 0L202 88M167 12L48 88M83 12L202 88M167 12L80 98M83 12L170 98M18 75L65 92M232 75L185 92M40 110L48 88M210 110L202 88M40 110L185 92M210 110L65 92M162 75L65 92M88 75L185 92M162 75L80 98M88 75L170 98M75 108L65 92M175 108L185 92M22 45L15 148M228 45L235 148M18 75L40 70M232 75L210 70M18 75L55 146M232 75L195 146M18 75L155 150M232 75L95 150M50 70L30 130M200 70L220 130M200 70L30 130M50 70L220 130M40 110L55 146M210 110L195 146M88 75L8 134M162 75L242 134M88 75L30 130M162 75L220 130M162 75L15 148M88 75L235 148M75 108L40 70M175 108L210 70M112 0L125 138M138 0L125 138M75 45L30 188M175 45L220 188M18 75L75 125M232 75L175 125M18 75L2 155M232 75L248 155M50 70L105 200M200 70L145 200M88 75L105 200M162 75L145 200M162 75L38 162M88 75L212 162M125 100L125 138M125 100L125 138M88 75L60 212M162 75L190 212M52 8L125 225M198 8L125 225M52 8L150 150M198 8L100 150M112 0L100 150M138 0L150 150M82 12L125 225M167 12L125 225M22 45L25 210M228 45L225 210M125 42L125 75M125 42L125 75M50 70L125 75M200 70L125 75M20 115L55 175M230 115L195 175M20 115L125 75M230 115L125 75M40 110L88 205M210 110L162 205M40 110L125 208M210 110L125 208M88 75L25 210M162 75L225 210M125 100L100 150M125 100L150 150M125 100L112 215M125 100L138 215M125 100L50 150M125 100L200 150M75 108L75 225M175 108L175 225M75 108L162 205M175 108L88 205M75 108L50 150M175 108L200 150M167 12L65 240M83 12L185 240M18 75L162 248M232 75L88 248M48 88L40 70M202 88L210 70M202 88L40 70M47 88L210 70M65 92L15 148M185 92L235 148M65 92L40 70M185 92L210 70M80 98L30 130M170 98L220 130M80 98L55 146M170 98L195 146M80 98L155 150M170 98L95 150M48 88L30 188M202 88L220 188M80 98L75 125M170 98L175 125M170 98L80 136M80 98L170 136M202 88L32 208M47 88L218 208M48 88L100 150M202 88L150 150M65 92L55 175M185 92L195 175M80 98L75 225M170 98L175 225M80 98L50 150M170 98L200 150M170 98L62 218M80 98L188 218M8 134L75 125M242 134L175 125M8 134L2 155M242 134L248 155M8 134L28 136M242 134L222 136M8 134L38 162M242 134L212 162M8 134L162 158M242 134L88 158M15 148L28 136M235 148L222 136M15 148L170 136M235 148L80 136M15 148L125 165M235 148L125 165M40 70L170 136M210 70L80 136M40 70L145 200M210 70L105 200M30 130L75 125M220 130L175 125M30 130L175 125M220 130L75 125M30 130L28 136M220 130L222 136M30 130L38 162M220 130L212 162M30 130L212 162M220 130L38 162M30 130L88 158M220 130L162 158M30 130L68 200M220 130L182 200M55 146L75 125M195 146L175 125M55 146L170 136M195 146L80 136M55 146L38 162M195 146L212 162M95 150L125 138M155 150L125 138M95 150L88 158M155 150L162 158M95 150L30 188M155 150L220 188M155 150L88 158M95 150L162 158M15 148L60 212M235 148L190 212M15 148L167 165M235 148L83 165M55 146L50 200M195 146L200 200M8 134L125 75M242 134L125 75M8 134L100 220M242 134L150 220M15 148L100 150M235 148L150 150M40 70L125 225M210 70L125 225M40 70L150 150M210 70L100 150M40 70L100 220M210 70L150 220M30 130L100 150M220 130L150 150M55 146L138 215M195 146L112 215M55 146L50 150M195 146L200 150M55 146L20 175M195 146L230 175M95 150L75 225M155 150L175 225M95 150L150 150M155 150L100 150M95 150L55 175M155 150L195 175M95 150L138 215M155 150L112 215M155 150L20 175M95 150L230 175M15 148L125 242M235 148L125 242M95 150L145 235M155 150L105 235M155 150L42 238M95 150L208 238M75 125L82 165M175 125L167 165M138 120L98 175M112 120L152 175M2 155L32 208M248 155L218 208M2 155L98 175M248 155L152 175M28 136L50 200M222 136L200 200M80 136L32 208M170 136L218 208M38 162L60 212M212 162L190 212M88 158L32 208M162 158L218 208M125 165L82 165M125 165L167 165M68 200L42 218M182 200L208 218M182 200L32 208M68 200L218 208M105 200L98 175M145 200L152 175M145 200L82 165M105 200L167 165M30 188L42 218M220 188L208 218M30 188L82 165M220 188L167 165M75 125L175 225M175 125L75 225M75 125L25 210M175 125L225 210M75 125L50 150M175 125L200 150M175 125L75 225M75 125L175 225M138 120L112 215M112 120L138 215M2 155L75 225M248 155L175 225M2 155L50 150M248 155L200 150M28 136L150 150M222 136L100 150M28 136L25 210M222 136L225 210M28 136L50 150M222 136L200 150M80 136L162 205M170 136L88 205M80 136L20 175M170 136L230 175M170 136L62 218M80 136L188 218M125 138L125 75M125 138L125 75M38 162L75 225M212 162L175 225M38 162L100 150M212 162L150 150M38 162L62 218M212 162L188 218M38 162L20 175M212 162L230 175M88 158L75 225M162 158L175 225M88 158L112 215M162 158L138 215M162 158L50 150M88 158L200 150M125 165L62 218M125 165L188 218M68 200L55 175M182 200L195 175M68 200L125 208M182 200L125 208M68 200L50 150M182 200L200 150M105 200L100 150M145 200L150 150M105 200L125 208M145 200L125 208M105 200L62 218M145 200L188 218M145 200L75 225M105 200L175 225M145 200L50 150M105 200L200 150M30 188L75 225M220 188L175 225M30 188L100 150M220 188L150 150M30 188L55 175M220 188L195 175M30 188L195 175M220 188L55 175M30 188L88 205M220 188L162 205M30 188L162 205M220 188L88 205M30 188L188 218M220 188L62 218M75 125L145 235M175 125L105 235M112 120L42 238M138 120L208 238M2 155L185 240M248 155L65 240M28 136L208 238M222 136L43 238M88 158L105 235M162 158L145 235M105 200L42 238M145 200L208 238M105 200L145 235M145 200L105 235M30 188L42 238M220 188L208 238M42 218L75 225M208 218L175 225M42 218L25 210M208 218L225 210M42 218L200 150M208 218L50 150M42 218L20 175M208 218L230 175M60 212L75 225M190 212L175 225M60 212L125 225M190 212L125 225M60 212L150 150M190 212L100 150M60 212L55 175M190 212L195 175M60 212L112 215M190 212L138 215M60 212L25 210M190 212L225 210M60 212L162 205M190 212L88 205M60 212L150 220M190 212L100 220M60 212L62 218M190 212L188 218M50 200L150 150M200 200L100 150M50 200L112 215M200 200L138 215M50 200L25 210M200 200L225 210M50 200L62 218M200 200L188 218M50 200L50 150M200 200L200 150M50 200L20 175M200 200L230 175M200 200L50 150M50 200L200 150M32 208L75 225M218 208L175 225M32 208L150 150M218 208L100 150M32 208L55 175M218 208L195 175M32 208L25 210M218 208L225 210M32 208L88 205M218 208L162 205M32 208L100 220M218 208L150 220M32 208L150 220M218 208L100 220M32 208L20 175M218 208L230 175M98 175L75 225M152 175L175 225M98 175L100 150M152 175L150 150M98 175L55 175M152 175L195 175M98 175L112 215M152 175L138 215M98 175L62 218M152 175L188 218M98 175L50 150M152 175L200 150M152 175L88 205M98 175L162 205M152 175L50 150M98 175L200 150M82 165L55 175M167 165L195 175M82 165L138 215M167 165L112 215M82 165L125 208M167 165L125 208M82 165L100 220M167 165L150 220M60 212L42 238M190 212L208 238M60 212L65 240M190 212L185 240M50 200L65 240M200 200L185 240M98 175L125 242M152 175L125 242M82 165L145 235M167 165L105 235M75 225L100 150M175 225L150 150M75 225L138 215M175 225L112 215M75 225L25 210M175 225L225 210M75 225L162 205M175 225L88 205M75 225L62 218M175 225L188 218M125 225L100 150M125 225L150 150M125 225L100 220M125 225L150 220M100 150L55 175M150 150L195 175M100 150L62 218M150 150L188 218M100 150L20 175M150 150L230 175M150 150L88 205M100 150L162 205M150 150L100 220M100 150L150 220M55 175L112 215M195 175L138 215M55 175L25 210M195 175L225 210M55 175L125 75M195 175L125 75M55 175L125 208M195 175L125 208M55 175L62 218M195 175L188 218M195 175L25 210M55 175L225 210M112 215L125 208M138 215L125 208M112 215L100 220M138 215L150 220M112 215L20 175M138 215L230 175M138 215L62 218M112 215L188 218M25 210L162 205M225 210L88 205M25 210L100 220M225 210L150 220M25 210L50 150M225 210L200 150M125 75L125 208M125 75L125 208M88 205L125 208M162 205L125 208M88 205L62 218M162 205L188 218M50 150L20 175M200 150L230 175M75 225L88 248M175 225L162 248M75 225L125 242M175 225L125 242M75 225L105 235M175 225L145 235M75 225L65 240M175 225L185 240M175 225L65 240M75 225L185 240M125 225L42 238M125 225L208 238M125 225L88 248M125 225L162 248M125 225L125 242M125 225L125 242M125 225L105 235M125 225L145 235M125 225L65 240M125 225L185 240M100 150L88 248M150 150L162 248M100 150L105 235M150 150L145 235M55 175L88 248M195 175L162 248M55 175L145 235M195 175L105 235M55 175L65 240M195 175L185 240M112 215L88 248M138 215L162 248M112 215L125 242M138 215L125 242M112 215L105 235M138 215L145 235M112 215L65 240M138 215L185 240M138 215L65 240M112 215L185 240M25 210L42 238M225 210L208 238M25 210L88 248M225 210L162 248M25 210L105 235M225 210L145 235M25 210L65 240M225 210L185 240M125 75L125 242M125 75L125 242M125 75L105 235M125 75L145 235M88 205L42 238M162 205L208 238M88 205L88 248M162 205L162 248M88 205L162 248M162 205L88 248M88 205L125 242M162 205L125 242M88 205L105 235M162 205L145 235M88 205L65 240M162 205L185 240M125 208L88 248M125 208L162 248M125 208L125 242M125 208L125 242M125 208L65 240M125 208L185 240M100 220L88 248M150 220L162 248M100 220L145 235M150 220L105 235M150 220L88 248M100 220L162 248M62 218L42 238M188 218L208 238M62 218L125 242M188 218L125 242M62 218L105 235M188 218L145 235M62 218L145 235M188 218L105 235M62 218L65 240M188 218L185 240M50 150L162 248M200 150L88 248M50 150L145 235M200 150L105 235M20 175L42 238M230 175L208 238M20 175L208 238M230 175L43 238M20 175L125 242M230 175L125 242M20 175L145 235M230 175L105 235M20 115L8 134M230 115L242 134M30 188L42 218M220 188L208 218M42 218L42 238M208 218L208 238M2 155L42 238M248 155L208 238" stroke="#8B8B8B" stroke-width="1.09" vector-effect="non-scaling-stroke"/><path d="M8 134L55 146M242 134L195 146M15 148L40 70M235 148L210 70M15 148L55 146M235 148L195 146M40 70L30 130M210 70L220 130M40 70L95 150M210 70L155 150M30 130L55 146M220 130L195 146M8 134L2 155M242 134L248 155" stroke="#EFC21C" stroke-width="1.80" vector-effect="non-scaling-stroke"/><path d="M75 125L175 125M175 125L75 125M75 125L138 120M175 125L112 120M75 125L28 136M175 125L222 136M75 125L80 136M175 125L170 136M75 125L125 138M175 125L125 138M75 125L68 200M175 125L182 200M75 125L145 200M175 125L105 200M112 120L80 136M138 120L170 136M112 120L88 158M138 120L162 158M112 120L105 200M138 120L145 200M138 120L28 136M112 120L222 136M138 120L88 158M112 120L162 158M2 155L248 155M248 155L3 155M2 155L170 136M248 155L80 136M2 155L125 165M248 155L125 165M2 155L30 188M248 155L220 188M28 136L125 138M222 136L125 138M28 136L68 200M222 136L182 200M28 136L105 200M222 136L145 200M80 136L38 162M170 136L212 162M80 136L162 158M170 136L88 158M80 136L125 165M170 136L125 165M80 136L105 200M170 136L145 200M170 136L30 188M80 136L220 188M125 138L125 165M125 138L125 165M125 138L68 200M125 138L182 200M125 138L30 188M125 138L220 188M38 162L212 162M212 162L38 162M38 162L88 158M212 162L162 158M38 162L125 165M212 162L125 165M38 162L30 188M212 162L220 188M88 158L30 188M162 158L220 188M162 158L30 188M88 158L220 188M125 165L105 200M125 165L145 200M105 200L145 200M145 200L105 200M2 155L30 188M248 155L220 188M28 136L222 136M222 136L27 136M2 155L248 155M248 155L3 155M68 200L182 200M182 200L68 200" stroke="#8DC441" stroke-width="1.35" vector-effect="non-scaling-stroke"/><path d="M42 238L88 248M208 238L162 248M42 238L65 240M208 238L185 240M42 238L185 240M208 238L65 240M88 248L125 242M162 248L125 242M88 248L105 235M162 248L145 235M88 248L65 240M162 248L185 240M125 242L105 235M125 242L145 235M125 242L65 240M125 242L185 240M105 235L145 235M145 235L105 235M105 235L65 240M145 235L185 240M145 235L65 240M105 235L185 240M42 238L125 242M208 238L125 242" stroke="#1EB3CE" stroke-width="2.20" vector-effect="non-scaling-stroke"/><path d="M42 218L60 212M208 218L190 212M42 218L50 200M208 218L200 200M42 218L32 208M208 218L218 208M60 212L50 200M190 212L200 200M50 200L32 208M200 200L218 208M98 175L82 165M152 175L167 165" stroke="#E01E6A" stroke-width="1.70" vector-effect="non-scaling-stroke"/><path d="M52 8L22 45M198 8L228 45M52 8L125 42M198 8L125 42M52 8L162 75M198 8L88 75M112 0L138 0M138 0L112 0M112 0L22 45M138 0L228 45M112 0L75 108M138 0L175 108M138 0L75 45M112 0L175 45M82 12L22 45M167 12L228 45M82 12L88 75M167 12L162 75M82 12L75 108M167 12L175 108M167 12L75 45M83 12L175 45M22 45L75 45M228 45L175 45M22 45L20 115M228 45L230 115M75 45L20 115M175 45L230 115M75 45L88 75M175 45L162 75M125 42L125 100M125 42L125 100M18 75L50 70M232 75L200 70M18 75L40 110M232 75L210 110M18 75L88 75M232 75L162 75M18 75L175 108M232 75L75 108M50 70L200 70M200 70L50 70M50 70L20 115M200 70L230 115M50 70L40 110M200 70L210 110M50 70L88 75M200 70L162 75M20 115L88 75M230 115L162 75M20 115L75 108M230 115L175 108M88 75L162 75M162 75L88 75M125 100L75 108M125 100L175 108M52 8L112 0M198 8L138 0M112 0L138 0M138 0L112 0M52 8L22 45M198 8L228 45M22 45L18 75M228 45L232 75M18 75L20 115M232 75L230 115M22 45L228 45M228 45L22 45M18 75L232 75M232 75L17 75M20 115L230 115M230 115L20 115M52 8L50 70M198 8L200 70M82 12L88 75M167 12L162 75M112 0L125 100M138 0L125 100M52 8L125 100M198 8L125 100" stroke="#EE3F2F" stroke-width="1.60" vector-effect="non-scaling-stroke"/><path d="M48 88L80 98M202 88L170 98" stroke="#2C3CA8" stroke-width="1.80" vector-effect="non-scaling-stroke"/><ellipse cx="8" cy="134" rx="3.3" ry="2.9" fill="#EFC21C"/><ellipse cx="242" cy="134" rx="3.3" ry="2.9" fill="#EFC21C"/><ellipse cx="15" cy="148" rx="3.3" ry="2.9" fill="#EFC21C"/><ellipse cx="235" cy="148" rx="3.3" ry="2.9" fill="#EFC21C"/><ellipse cx="40" cy="70" rx="3.3" ry="2.9" fill="#EFC21C"/><ellipse cx="210" cy="70" rx="3.3" ry="2.9" fill="#EFC21C"/><ellipse cx="30" cy="130" rx="3.3" ry="2.9" fill="#EFC21C"/><ellipse cx="220" cy="130" rx="3.3" ry="2.9" fill="#EFC21C"/><ellipse cx="55" cy="146" rx="3.3" ry="2.9" fill="#EFC21C"/><ellipse cx="195" cy="146" rx="3.3" ry="2.9" fill="#EFC21C"/><ellipse cx="95" cy="150" rx="3.3" ry="2.9" fill="#EFC21C"/><ellipse cx="155" cy="150" rx="3.3" ry="2.9" fill="#EFC21C"/><ellipse cx="75" cy="125" rx="3.3" ry="2.9" fill="#8DC441"/><ellipse cx="175" cy="125" rx="3.3" ry="2.9" fill="#8DC441"/><ellipse cx="112" cy="120" rx="3.3" ry="2.9" fill="#8DC441"/><ellipse cx="138" cy="120" rx="3.3" ry="2.9" fill="#8DC441"/><ellipse cx="2" cy="155" rx="3.3" ry="2.9" fill="#8DC441"/><ellipse cx="248" cy="155" rx="3.3" ry="2.9" fill="#8DC441"/><ellipse cx="28" cy="136" rx="3.3" ry="2.9" fill="#8DC441"/><ellipse cx="222" cy="136" rx="3.3" ry="2.9" fill="#8DC441"/><ellipse cx="80" cy="136" rx="3.3" ry="2.9" fill="#8DC441"/><ellipse cx="170" cy="136" rx="3.3" ry="2.9" fill="#8DC441"/><ellipse cx="125" cy="138" rx="3.3" ry="2.9" fill="#8DC441"/><ellipse cx="38" cy="162" rx="3.3" ry="2.9" fill="#8DC441"/><ellipse cx="212" cy="162" rx="3.3" ry="2.9" fill="#8DC441"/><ellipse cx="88" cy="158" rx="3.3" ry="2.9" fill="#8DC441"/><ellipse cx="162" cy="158" rx="3.3" ry="2.9" fill="#8DC441"/><ellipse cx="125" cy="165" rx="3.3" ry="2.9" fill="#8DC441"/><ellipse cx="68" cy="200" rx="3.3" ry="2.9" fill="#8DC441"/><ellipse cx="182" cy="200" rx="3.3" ry="2.9" fill="#8DC441"/><ellipse cx="105" cy="200" rx="3.3" ry="2.9" fill="#8DC441"/><ellipse cx="145" cy="200" rx="3.3" ry="2.9" fill="#8DC441"/><ellipse cx="30" cy="188" rx="3.3" ry="2.9" fill="#8DC441"/><ellipse cx="220" cy="188" rx="3.3" ry="2.9" fill="#8DC441"/><ellipse cx="42" cy="238" rx="3.3" ry="2.9" fill="#1EB3CE"/><ellipse cx="208" cy="238" rx="3.3" ry="2.9" fill="#1EB3CE"/><ellipse cx="88" cy="248" rx="3.3" ry="2.9" fill="#1EB3CE"/><ellipse cx="162" cy="248" rx="3.3" ry="2.9" fill="#1EB3CE"/><ellipse cx="125" cy="242" rx="3.3" ry="2.9" fill="#1EB3CE"/><ellipse cx="105" cy="235" rx="3.3" ry="2.9" fill="#1EB3CE"/><ellipse cx="145" cy="235" rx="3.3" ry="2.9" fill="#1EB3CE"/><ellipse cx="65" cy="240" rx="3.3" ry="2.9" fill="#1EB3CE"/><ellipse cx="185" cy="240" rx="3.3" ry="2.9" fill="#1EB3CE"/><ellipse cx="42" cy="218" rx="3.3" ry="2.9" fill="#E01E6A"/><ellipse cx="208" cy="218" rx="3.3" ry="2.9" fill="#E01E6A"/><ellipse cx="60" cy="212" rx="3.3" ry="2.9" fill="#E01E6A"/><ellipse cx="190" cy="212" rx="3.3" ry="2.9" fill="#E01E6A"/><ellipse cx="50" cy="200" rx="3.3" ry="2.9" fill="#E01E6A"/><ellipse cx="200" cy="200" rx="3.3" ry="2.9" fill="#E01E6A"/><ellipse cx="32" cy="208" rx="3.3" ry="2.9" fill="#E01E6A"/><ellipse cx="218" cy="208" rx="3.3" ry="2.9" fill="#E01E6A"/><ellipse cx="98" cy="175" rx="3.3" ry="2.9" fill="#E01E6A"/><ellipse cx="152" cy="175" rx="3.3" ry="2.9" fill="#E01E6A"/><ellipse cx="82" cy="165" rx="3.3" ry="2.9" fill="#E01E6A"/><ellipse cx="167" cy="165" rx="3.3" ry="2.9" fill="#E01E6A"/><ellipse cx="52" cy="8" rx="3.3" ry="2.9" fill="#EE3F2F"/><ellipse cx="198" cy="8" rx="3.3" ry="2.9" fill="#EE3F2F"/><ellipse cx="112" cy="0" rx="3.3" ry="2.9" fill="#EE3F2F"/><ellipse cx="138" cy="0" rx="3.3" ry="2.9" fill="#EE3F2F"/><ellipse cx="82" cy="12" rx="3.3" ry="2.9" fill="#EE3F2F"/><ellipse cx="167" cy="12" rx="3.3" ry="2.9" fill="#EE3F2F"/><ellipse cx="22" cy="45" rx="3.3" ry="2.9" fill="#EE3F2F"/><ellipse cx="228" cy="45" rx="3.3" ry="2.9" fill="#EE3F2F"/><ellipse cx="75" cy="45" rx="3.3" ry="2.9" fill="#EE3F2F"/><ellipse cx="175" cy="45" rx="3.3" ry="2.9" fill="#EE3F2F"/><ellipse cx="125" cy="42" rx="3.3" ry="2.9" fill="#EE3F2F"/><ellipse cx="18" cy="75" rx="3.3" ry="2.9" fill="#EE3F2F"/><ellipse cx="232" cy="75" rx="3.3" ry="2.9" fill="#EE3F2F"/><ellipse cx="50" cy="70" rx="3.3" ry="2.9" fill="#EE3F2F"/><ellipse cx="200" cy="70" rx="3.3" ry="2.9" fill="#EE3F2F"/><ellipse cx="20" cy="115" rx="3.3" ry="2.9" fill="#EE3F2F"/><ellipse cx="230" cy="115" rx="3.3" ry="2.9" fill="#EE3F2F"/><ellipse cx="40" cy="110" rx="3.3" ry="2.9" fill="#EE3F2F"/><ellipse cx="210" cy="110" rx="3.3" ry="2.9" fill="#EE3F2F"/><ellipse cx="88" cy="75" rx="3.3" ry="2.9" fill="#EE3F2F"/><ellipse cx="162" cy="75" rx="3.3" ry="2.9" fill="#EE3F2F"/><ellipse cx="125" cy="100" rx="3.3" ry="2.9" fill="#EE3F2F"/><ellipse cx="75" cy="108" rx="3.3" ry="2.9" fill="#EE3F2F"/><ellipse cx="175" cy="108" rx="3.3" ry="2.9" fill="#EE3F2F"/><ellipse cx="48" cy="88" rx="3.3" ry="2.9" fill="#2C3CA8"/><ellipse cx="202" cy="88" rx="3.3" ry="2.9" fill="#2C3CA8"/><ellipse cx="65" cy="92" rx="3.3" ry="2.9" fill="#2C3CA8"/><ellipse cx="185" cy="92" rx="3.3" ry="2.9" fill="#2C3CA8"/><ellipse cx="80" cy="98" rx="3.3" ry="2.9" fill="#2C3CA8"/><ellipse cx="170" cy="98" rx="3.3" ry="2.9" fill="#2C3CA8"/></g>
<g transform="translate(1564.5,54.0) scale(0.5920,0.4840)" fill="none" stroke-linecap="round"><path d="M244 79L107 0M246 119L97 23M222 70L107 0M238 173L77 187M238 173L89 149M206 117L180 181M222 70L89 149M229 159L180 181M220 94L116 128M246 161L50 249M246 161L165 140M211 61L153 144M232 125L173 129M222 70L153 144M201 50L173 129M201 50L153 144M244 79L39 113M206 117L29 49M222 70L140 15M156 20L107 0M156 20L46 15M156 20L113 49M156 20L85 65M135 38L46 15M135 38L97 23M181 34L46 15M181 34L97 23M181 34L7 86M181 34L2 112M156 20L140 15M156 20L22 73M156 20L98 85M156 20L61 136M156 20L125 30M135 38L140 15M135 38L23 152M135 38L125 30M181 34L140 15M181 34L125 30M141 113L97 23M178 168L107 0M141 113L89 149M178 168L62 178M141 113L153 144M178 168L173 129M178 168L165 140M141 113L140 15M141 113L98 85M141 113L23 152M141 113L61 136M178 168L39 113M178 168L23 152M107 0L7 86M107 0L2 112M107 0L11 99M46 15L4 136M81 101L2 112M81 101L4 136M81 101L7 162M81 101L17 151M113 49L7 162M113 49L11 99M61 48L7 86M61 48L2 112M61 48L17 151M97 23L4 136M49 64L7 86M49 64L2 112M49 64L4 136M49 64L17 151M85 65L4 136M70 15L2 112M70 15L11 99M70 15L17 151M107 0L77 187M107 0L116 128M107 0L89 149M107 0L125 182M81 101L180 181M81 101L175 218M81 101L77 187M113 49L175 218M113 49L116 128M113 49L89 149M61 48L175 218M97 23L77 187M49 64L175 218M85 65L180 181M85 65L175 218M85 65L125 182M70 15L180 181M70 15L175 218M70 15L116 128M70 15L89 149M107 0L50 249M46 15L36 215M81 101L62 178M81 101L165 140M97 23L153 144M107 0L140 15M107 0L29 49M107 0L22 73M107 0L125 30M46 15L29 49M46 15L39 113M46 15L98 85M81 101L140 15M81 101L22 73M81 101L39 113M81 101L23 152M113 49L29 49M113 49L22 73M113 49L98 85M113 49L125 30M61 48L29 49M61 48L98 85M61 48L23 152M61 48L61 136M97 23L140 15M97 23L39 113M97 23L125 30M49 64L140 15M49 64L29 49M49 64L22 73M49 64L39 113M49 64L98 85M49 64L61 136M49 64L125 30M85 65L29 49M85 65L22 73M85 65L39 113M85 65L98 85M85 65L23 152M85 65L125 30M70 15L140 15M70 15L39 113M70 15L125 30M2 112L175 218M7 162L89 149M17 151L89 149M7 86L67 240M7 86L50 249M7 86L41 248M7 86L23 199M7 86L62 178M2 112L67 240M2 112L19 225M2 112L23 199M4 136L50 249M4 136L23 199M4 136L36 215M4 136L62 178M7 162L50 249M7 162L19 225M7 162L48 191M7 162L62 178M11 99L23 199M11 99L48 191M17 151L19 225M17 151L48 191M7 86L29 49M7 86L22 73M7 86L39 113M7 86L23 152M2 112L140 15M2 112L29 49M4 136L29 49M4 136L39 113M4 136L98 85M4 136L23 152M7 162L140 15M7 162L29 49M7 162L22 73M7 162L61 136M7 162L125 30M11 99L29 49M11 99L22 73M11 99L39 113M11 99L98 85M11 99L61 136M17 151L39 113M17 151L98 85M17 151L23 152M17 151L61 136M180 181L50 249M180 181L41 248M175 218L19 225M175 218L36 215M77 187L67 240M77 187L19 225M116 128L19 225M116 128L62 178M89 149L62 178M125 182L41 248M180 181L173 129M175 218L165 140M175 218L153 144M77 187L173 129M77 187L165 140M116 128L153 144M89 149L153 144M180 181L140 15M180 181L29 49M180 181L23 152M175 218L140 15M175 218L98 85M175 218L61 136M77 187L39 113M77 187L98 85M77 187L23 152M77 187L61 136M116 128L140 15M116 128L23 152M89 149L140 15M89 149L22 73M89 149L39 113M89 149L98 85M89 149L23 152M89 149L61 136M125 182L29 49M125 182L61 136M36 215L173 129M50 249L140 15M50 249L29 49M50 249L23 152M50 249L61 136M41 248L29 49M41 248L22 73M19 225L22 73M19 225L39 113M19 225L61 136M48 191L29 49M48 191L39 113M48 191L23 152M48 191L61 136M36 215L22 73M62 178L29 49M62 178L98 85M62 178L23 152M173 129L29 49M173 129L39 113M173 129L98 85M153 144L140 15M153 144L29 49M140 15L29 49M140 15L39 113M140 15L125 30M29 49L39 113M29 49L125 30M22 73L39 113M22 73L98 85M22 73L23 152M22 73L125 30M39 113L98 85M39 113L23 152M39 113L61 136M39 113L125 30M98 85L23 152M98 85L61 136M23 152L61 136" stroke="#8B8B8B" stroke-width="1.45" vector-effect="non-scaling-stroke"/><path d="M180 181L175 218M180 181L77 187M180 181L116 128M180 181L89 149M180 181L125 182M175 218L77 187M175 218L116 128M175 218L89 149M175 218L125 182M77 187L116 128M77 187L89 149M77 187L125 182M116 128L89 149M116 128L125 182M89 149L125 182" stroke="#EFC21C" stroke-width="1.80" vector-effect="non-scaling-stroke"/><path d="M107 0L61 48M107 0L97 23M107 0L49 64M107 0L85 65M107 0L70 15M46 15L81 101M46 15L113 49M46 15L61 48M46 15L49 64M81 101L113 49M81 101L61 48M81 101L49 64M81 101L85 65M81 101L70 15M113 49L49 64M113 49L85 65M61 48L97 23M61 48L49 64M61 48L85 65M97 23L49 64M97 23L85 65M97 23L70 15M49 64L70 15M85 65L70 15" stroke="#8DC441" stroke-width="1.80" vector-effect="non-scaling-stroke"/><path d="M7 86L2 112M7 86L4 136M7 86L7 162M7 86L11 99M7 86L17 151M2 112L4 136M2 112L7 162M2 112L11 99M2 112L17 151M4 136L11 99M4 136L17 151M7 162L17 151M11 99L17 151" stroke="#1EB3CE" stroke-width="2.20" vector-effect="non-scaling-stroke"/><path d="M67 240L50 249M67 240L41 248M67 240L19 225M67 240L23 199M67 240L48 191M67 240L62 178M50 249L41 248M50 249L23 199M50 249L48 191M50 249L36 215M50 249L62 178M41 248L19 225M41 248L23 199M41 248L48 191M41 248L36 215M41 248L62 178M19 225L23 199M19 225L48 191M19 225L36 215M23 199L48 191M23 199L36 215M23 199L62 178M48 191L36 215M48 191L62 178M36 215L62 178" stroke="#E01E6A" stroke-width="1.70" vector-effect="non-scaling-stroke"/><path d="M244 79L210 178M244 79L206 117M244 79L232 125M244 79L246 119M244 79L222 70M244 79L229 159M244 79L201 50M246 161L238 173M246 161L210 178M246 161L206 117M246 161L232 125M246 161L246 119M246 161L222 70M246 161L229 159M246 161L220 94M246 161L201 50M238 173L211 61M238 173L210 178M238 173L206 117M238 173L232 125M238 173L222 70M238 173L229 159M238 173L220 94M238 173L201 50M211 61L246 119M211 61L222 70M211 61L201 50M210 178L206 117M210 178L232 125M210 178L222 70M210 178L229 159M210 178L220 94M206 117L232 125M206 117L222 70M206 117L229 159M206 117L220 94M206 117L201 50M232 125L246 119M232 125L222 70M232 125L229 159M232 125L220 94M232 125L201 50M246 119L222 70M246 119L229 159M246 119L220 94M246 119L201 50M222 70L220 94M222 70L201 50M229 159L220 94M229 159L201 50M244 79L156 20M244 79L135 38M244 79L181 34M246 161L181 34M211 61L135 38M211 61L181 34M210 178L181 34M206 117L156 20M206 117L181 34M232 125L181 34M222 70L156 20M222 70L135 38M220 94L135 38M201 50L156 20M201 50L181 34M244 79L141 113M211 61L178 168M206 117L141 113M232 125L141 113M232 125L178 168M246 119L141 113M220 94L178 168M156 20L135 38M156 20L181 34" stroke="#EE3F2F" stroke-width="2.00" vector-effect="non-scaling-stroke"/><path d="M173 129L165 140M173 129L153 144M165 140L153 144" stroke="#2C3CA8" stroke-width="1.80" vector-effect="non-scaling-stroke"/><ellipse cx="180" cy="181" rx="2.7" ry="3.3" fill="#EFC21C"/><ellipse cx="175" cy="218" rx="2.7" ry="3.3" fill="#EFC21C"/><ellipse cx="77" cy="187" rx="2.7" ry="3.3" fill="#EFC21C"/><ellipse cx="116" cy="128" rx="2.7" ry="3.3" fill="#EFC21C"/><ellipse cx="89" cy="149" rx="2.7" ry="3.3" fill="#EFC21C"/><ellipse cx="125" cy="182" rx="2.7" ry="3.3" fill="#EFC21C"/><ellipse cx="107" cy="0" rx="2.7" ry="3.3" fill="#8DC441"/><ellipse cx="46" cy="15" rx="2.7" ry="3.3" fill="#8DC441"/><ellipse cx="81" cy="101" rx="2.7" ry="3.3" fill="#8DC441"/><ellipse cx="113" cy="49" rx="2.7" ry="3.3" fill="#8DC441"/><ellipse cx="61" cy="48" rx="2.7" ry="3.3" fill="#8DC441"/><ellipse cx="97" cy="23" rx="2.7" ry="3.3" fill="#8DC441"/><ellipse cx="49" cy="64" rx="2.7" ry="3.3" fill="#8DC441"/><ellipse cx="85" cy="65" rx="2.7" ry="3.3" fill="#8DC441"/><ellipse cx="70" cy="15" rx="2.7" ry="3.3" fill="#8DC441"/><ellipse cx="7" cy="86" rx="2.7" ry="3.3" fill="#1EB3CE"/><ellipse cx="2" cy="112" rx="2.7" ry="3.3" fill="#1EB3CE"/><ellipse cx="4" cy="136" rx="2.7" ry="3.3" fill="#1EB3CE"/><ellipse cx="7" cy="162" rx="2.7" ry="3.3" fill="#1EB3CE"/><ellipse cx="11" cy="99" rx="2.7" ry="3.3" fill="#1EB3CE"/><ellipse cx="17" cy="151" rx="2.7" ry="3.3" fill="#1EB3CE"/><ellipse cx="67" cy="240" rx="2.7" ry="3.3" fill="#E01E6A"/><ellipse cx="50" cy="249" rx="2.7" ry="3.3" fill="#E01E6A"/><ellipse cx="41" cy="248" rx="2.7" ry="3.3" fill="#E01E6A"/><ellipse cx="19" cy="225" rx="2.7" ry="3.3" fill="#E01E6A"/><ellipse cx="23" cy="199" rx="2.7" ry="3.3" fill="#E01E6A"/><ellipse cx="48" cy="191" rx="2.7" ry="3.3" fill="#E01E6A"/><ellipse cx="36" cy="215" rx="2.7" ry="3.3" fill="#E01E6A"/><ellipse cx="62" cy="178" rx="2.7" ry="3.3" fill="#E01E6A"/><ellipse cx="244" cy="79" rx="2.7" ry="3.3" fill="#EE3F2F"/><ellipse cx="246" cy="161" rx="2.7" ry="3.3" fill="#EE3F2F"/><ellipse cx="238" cy="173" rx="2.7" ry="3.3" fill="#EE3F2F"/><ellipse cx="211" cy="61" rx="2.7" ry="3.3" fill="#EE3F2F"/><ellipse cx="210" cy="178" rx="2.7" ry="3.3" fill="#EE3F2F"/><ellipse cx="206" cy="117" rx="2.7" ry="3.3" fill="#EE3F2F"/><ellipse cx="232" cy="125" rx="2.7" ry="3.3" fill="#EE3F2F"/><ellipse cx="246" cy="119" rx="2.7" ry="3.3" fill="#EE3F2F"/><ellipse cx="222" cy="70" rx="2.7" ry="3.3" fill="#EE3F2F"/><ellipse cx="229" cy="159" rx="2.7" ry="3.3" fill="#EE3F2F"/><ellipse cx="220" cy="94" rx="2.7" ry="3.3" fill="#EE3F2F"/><ellipse cx="201" cy="50" rx="2.7" ry="3.3" fill="#EE3F2F"/><ellipse cx="156" cy="20" rx="2.7" ry="3.3" fill="#EE3F2F"/><ellipse cx="135" cy="38" rx="2.7" ry="3.3" fill="#EE3F2F"/><ellipse cx="181" cy="34" rx="2.7" ry="3.3" fill="#EE3F2F"/><ellipse cx="141" cy="113" rx="2.7" ry="3.3" fill="#EE3F2F"/><ellipse cx="178" cy="168" rx="2.7" ry="3.3" fill="#EE3F2F"/><ellipse cx="173" cy="129" rx="2.7" ry="3.3" fill="#2C3CA8"/><ellipse cx="165" cy="140" rx="2.7" ry="3.3" fill="#2C3CA8"/><ellipse cx="153" cy="144" rx="2.7" ry="3.3" fill="#2C3CA8"/></g>
<line x1="1265.5" y1="342.8" x2="1685.5" y2="342.8" stroke="#E2E2E2" stroke-width="1.2"/>
<text x="1248.6" y="348.3" font-family="'Liberation Sans', Arial, sans-serif" font-size="15.5" font-weight="bold" fill="#595959" text-anchor="end" textLength="9.1" lengthAdjust="spacingAndGlyphs">0</text>
<line x1="1265.5" y1="319.6" x2="1685.5" y2="319.6" stroke="#E2E2E2" stroke-width="1.2"/>
<text x="1248.6" y="325.1" font-family="'Liberation Sans', Arial, sans-serif" font-size="15.5" font-weight="bold" fill="#595959" text-anchor="end" textLength="18.2" lengthAdjust="spacingAndGlyphs">50</text>
<line x1="1265.5" y1="296.3" x2="1685.5" y2="296.3" stroke="#E2E2E2" stroke-width="1.2"/>
<text x="1248.6" y="301.8" font-family="'Liberation Sans', Arial, sans-serif" font-size="15.5" font-weight="bold" fill="#595959" text-anchor="end" textLength="27.3" lengthAdjust="spacingAndGlyphs">100</text>
<line x1="1265.5" y1="273.1" x2="1685.5" y2="273.1" stroke="#E2E2E2" stroke-width="1.2"/>
<text x="1248.6" y="278.6" font-family="'Liberation Sans', Arial, sans-serif" font-size="15.5" font-weight="bold" fill="#595959" text-anchor="end" textLength="27.3" lengthAdjust="spacingAndGlyphs">150</text>
<line x1="1265.5" y1="249.9" x2="1685.5" y2="249.9" stroke="#E2E2E2" stroke-width="1.2"/>
<text x="1248.6" y="255.4" font-family="'Liberation Sans', Arial, sans-serif" font-size="15.5" font-weight="bold" fill="#595959" text-anchor="end" textLength="27.3" lengthAdjust="spacingAndGlyphs">200</text>
<line x1="1265.5" y1="226.6" x2="1685.5" y2="226.6" stroke="#E2E2E2" stroke-width="1.2"/>
<text x="1248.6" y="232.1" font-family="'Liberation Sans', Arial, sans-serif" font-size="15.5" font-weight="bold" fill="#595959" text-anchor="end" textLength="27.3" lengthAdjust="spacingAndGlyphs">250</text>
<line x1="1265.5" y1="203.4" x2="1685.5" y2="203.4" stroke="#E2E2E2" stroke-width="1.2"/>
<text x="1248.6" y="208.9" font-family="'Liberation Sans', Arial, sans-serif" font-size="15.5" font-weight="bold" fill="#595959" text-anchor="end" textLength="27.3" lengthAdjust="spacingAndGlyphs">300</text>
<text x="1696.0" y="346.4" font-family="'Liberation Sans', Arial, sans-serif" font-size="10.2" font-weight="bold" fill="#595959" textLength="5.9" lengthAdjust="spacingAndGlyphs">0</text>
<text x="1696.0" y="318.5" font-family="'Liberation Sans', Arial, sans-serif" font-size="10.2" font-weight="bold" fill="#595959" textLength="21.0" lengthAdjust="spacingAndGlyphs">0.05</text>
<text x="1696.0" y="290.5" font-family="'Liberation Sans', Arial, sans-serif" font-size="10.2" font-weight="bold" fill="#595959" textLength="15.1" lengthAdjust="spacingAndGlyphs">0.1</text>
<text x="1696.0" y="262.5" font-family="'Liberation Sans', Arial, sans-serif" font-size="10.2" font-weight="bold" fill="#595959" textLength="21.0" lengthAdjust="spacingAndGlyphs">0.15</text>
<text x="1696.0" y="234.5" font-family="'Liberation Sans', Arial, sans-serif" font-size="10.2" font-weight="bold" fill="#595959" textLength="15.1" lengthAdjust="spacingAndGlyphs">0.2</text>
<text x="1696.0" y="206.6" font-family="'Liberation Sans', Arial, sans-serif" font-size="10.2" font-weight="bold" fill="#595959" textLength="21.0" lengthAdjust="spacingAndGlyphs">0.25</text>
<rect x="1283.4" y="210.8" width="34.2" height="132.0" fill="#5195DA"/>
<rect x="1353.4" y="283.3" width="34.2" height="59.5" fill="#5195DA"/>
<rect x="1423.3" y="252.7" width="34.2" height="90.1" fill="#5195DA"/>
<rect x="1493.3" y="240.6" width="34.2" height="102.2" fill="#5195DA"/>
<rect x="1563.2" y="336.3" width="34.2" height="6.5" fill="#5195DA"/>
<rect x="1633.2" y="315.8" width="34.2" height="27.0" fill="#5195DA"/>
<polyline points="1300.5,243.5 1370.5,223.8 1440.4,223.5 1510.4,223.9 1580.3,266.0 1650.3,245.6" fill="none" stroke="#ED7D31" stroke-width="2.6" stroke-linejoin="round"/>
<circle cx="1300.5" cy="243.5" r="3.2" fill="#ED7D31"/>
<circle cx="1370.5" cy="223.8" r="3.2" fill="#ED7D31"/>
<circle cx="1440.4" cy="223.5" r="3.2" fill="#ED7D31"/>
<circle cx="1510.4" cy="223.9" r="3.2" fill="#ED7D31"/>
<circle cx="1580.3" cy="266.0" r="3.2" fill="#ED7D31"/>
<circle cx="1650.3" cy="245.6" r="3.2" fill="#ED7D31"/>
<line x1="1305" y1="245" x2="1326" y2="247" stroke="#B4CCE6" stroke-width="1"/>
<text x="1301.0" y="205.0" font-family="'Liberation Sans', Arial, sans-serif" font-size="16" font-weight="bold" fill="#285A80" text-anchor="middle" textLength="26.2" lengthAdjust="spacingAndGlyphs">284</text>
<text x="1371.6" y="272.6" font-family="'Liberation Sans', Arial, sans-serif" font-size="16" font-weight="bold" fill="#285A80" text-anchor="middle" textLength="26.2" lengthAdjust="spacingAndGlyphs">128</text>
<text x="1441.0" y="242.4" font-family="'Liberation Sans', Arial, sans-serif" font-size="16" font-weight="bold" fill="#285A80" text-anchor="middle" textLength="26.2" lengthAdjust="spacingAndGlyphs">194</text>
<text x="1509.8" y="237.6" font-family="'Liberation Sans', Arial, sans-serif" font-size="16" font-weight="bold" fill="#285A80" text-anchor="middle" textLength="26.2" lengthAdjust="spacingAndGlyphs">220</text>
<text x="1580.1" y="326.0" font-family="'Liberation Sans', Arial, sans-serif" font-size="16" font-weight="bold" fill="#285A80" text-anchor="middle" textLength="17.5" lengthAdjust="spacingAndGlyphs">14</text>
<text x="1649.7" y="304.9" font-family="'Liberation Sans', Arial, sans-serif" font-size="16" font-weight="bold" fill="#285A80" text-anchor="middle" textLength="17.5" lengthAdjust="spacingAndGlyphs">58</text>
<text x="1355.5" y="253.1" font-family="'Liberation Sans', Arial, sans-serif" font-size="16" font-weight="bold" fill="#B95F2A" text-anchor="middle" textLength="55.3" lengthAdjust="spacingAndGlyphs">17.75%</text>
<text x="1371.2" y="210.7" font-family="'Liberation Sans', Arial, sans-serif" font-size="16" font-weight="bold" fill="#B95F2A" text-anchor="middle" textLength="55.3" lengthAdjust="spacingAndGlyphs">21.26%</text>
<text x="1440.4" y="210.7" font-family="'Liberation Sans', Arial, sans-serif" font-size="16" font-weight="bold" fill="#B95F2A" text-anchor="middle" textLength="55.3" lengthAdjust="spacingAndGlyphs">21.32%</text>
<text x="1509.9" y="210.7" font-family="'Liberation Sans', Arial, sans-serif" font-size="16" font-weight="bold" fill="#B95F2A" text-anchor="middle" textLength="55.3" lengthAdjust="spacingAndGlyphs">21.24%</text>
<text x="1592.8" y="286.5" font-family="'Liberation Sans', Arial, sans-serif" font-size="16" font-weight="bold" fill="#B95F2A" text-anchor="middle" textLength="55.3" lengthAdjust="spacingAndGlyphs">13.73%</text>
<text x="1650.1" y="232.6" font-family="'Liberation Sans', Arial, sans-serif" font-size="16" font-weight="bold" fill="#B95F2A" text-anchor="middle" textLength="55.3" lengthAdjust="spacingAndGlyphs">17.37%</text>
<text transform="translate(1306.0,369.3) rotate(-45)" text-anchor="end" font-family="'Liberation Sans', Arial, sans-serif" font-weight="bold" fill="#000"><tspan font-size="19.5">F</tspan><tspan font-size="16.6">RONTAL</tspan></text>
<text transform="translate(1376.0,369.3) rotate(-45)" text-anchor="end" font-family="'Liberation Sans', Arial, sans-serif" font-weight="bold" fill="#000"><tspan font-size="19.5">T</tspan><tspan font-size="16.6">EMPORAL</tspan></text>
<text transform="translate(1445.9,369.3) rotate(-45)" text-anchor="end" font-family="'Liberation Sans', Arial, sans-serif" font-weight="bold" fill="#000"><tspan font-size="19.5">P</tspan><tspan font-size="16.6">ARIETAL</tspan></text>
<text transform="translate(1515.9,369.3) rotate(-45)" text-anchor="end" font-family="'Liberation Sans', Arial, sans-serif" font-weight="bold" fill="#000"><tspan font-size="19.5">O</tspan><tspan font-size="16.6">CCIPITAL</tspan></text>
<text transform="translate(1585.8,369.3) rotate(-45)" text-anchor="end" font-family="'Liberation Sans', Arial, sans-serif" font-weight="bold" fill="#000"><tspan font-size="19.5">S</tspan><tspan font-size="16.6">UBCORTICAL</tspan></text>
<text transform="translate(1655.8,369.3) rotate(-45)" text-anchor="end" font-family="'Liberation Sans', Arial, sans-serif" font-weight="bold" fill="#000"><tspan font-size="19.5">C</tspan><tspan font-size="16.6">EREBELLAR</tspan></text>
<rect x="1254.6" y="455.5" width="42.4" height="20" fill="#5195DA"/>
<text x="1311.6" y="473.5" font-family="'Liberation Sans', Arial, sans-serif" font-size="20" fill="#262626" textLength="193.7" lengthAdjust="spacingAndGlyphs">Connected Number</text>
<line x1="1528.6" y1="466.2" x2="1584" y2="466.2" stroke="#ED7D31" stroke-width="3"/>
<circle cx="1556.3" cy="466.2" r="5" fill="#ED7D31"/>
<text x="1598.0" y="473.5" font-family="'Liberation Sans', Arial, sans-serif" font-size="20" fill="#262626" textLength="102.4" lengthAdjust="spacingAndGlyphs">Proportion</text>
<text x="561.5" y="538.7" font-family="'Liberation Sans', Arial, sans-serif" font-size="26.3" font-weight="bold" fill="#000" text-anchor="middle" textLength="157.0" lengthAdjust="spacingAndGlyphs">Conduction</text>
<text x="313.8" y="568.0" font-family="'Liberation Serif', 'Times New Roman', serif" font-size="14" font-weight="bold" fill="#000">L</text>
<text x="483.0" y="565.5" font-family="'Liberation Serif', 'Times New Roman', serif" font-size="14" font-weight="bold" fill="#000">T</text>
<text x="626.0" y="565.7" font-family="'Liberation Serif', 'Times New Roman', serif" font-size="14" font-weight="bold" fill="#000">R</text>
<g transform="translate(330.0,559.0) scale(0.5800,0.4740)" fill="none" stroke-linecap="round"><path d="M22 123L243 86M14 174L72 217M43 119L124 181M7 119L160 148M25 158L124 181M30 95L72 217M43 119L231 227M7 80L101 147M14 174L101 147M22 123L76 129M7 119L86 141M28 69L86 141M28 69L101 147M30 95L86 141M30 95L101 147M14 174L229 75M43 176L189 138M91 20L172 96M91 20L136 50M111 37L145 0M111 37L172 96M111 37L136 50M65 34L145 0M65 34L204 19M65 34L172 96M65 34L202 63M65 34L247 136M91 20L112 11M91 20L151 88M91 20L125 28M111 37L189 138M111 37L125 28M65 34L112 11M65 34L151 88M108 112L136 50M108 112L72 217M108 112L133 132M108 112L124 181M72 168L160 148M72 168L124 181M108 112L76 129M108 112L86 141M108 112L112 11M108 112L229 75M72 168L189 138M72 168L125 28M145 0L243 86M145 0L243 161M204 19L243 86M204 19L248 112M204 19L243 161M204 19L237 100M204 19L234 151M172 96L248 112M172 96L247 136M172 96L237 100M136 50L243 86M136 50L248 112M136 50L243 161M136 50L237 100M188 51L248 112M188 51L243 161M188 51L234 151M153 27L248 112M153 27L247 136M153 27L237 100M202 63L243 86M202 63L248 112M162 67L243 86M162 67L248 112M162 67L247 136M162 67L234 151M145 0L72 217M145 0L174 187M204 19L69 183M172 96L133 132M172 96L160 148M136 50L72 217M136 50L124 181M188 51L72 217M188 51L174 187M188 51L133 132M188 51L124 181M202 63L69 183M162 67L72 217M178 11L174 187M145 0L210 246M172 96L204 191M188 51L226 197M172 96L86 141M136 50L76 129M145 0L112 11M145 0L226 151M145 0L189 138M145 0L125 28M204 19L229 75M204 19L211 110M204 19L226 151M204 19L125 28M172 96L112 11M172 96L229 75M172 96L211 110M172 96L151 88M172 96L125 28M136 50L219 52M136 50L151 88M136 50L226 151M136 50L125 28M188 51L112 11M188 51L229 75M188 51L211 110M188 51L151 88M153 27L151 88M153 27L125 28M202 63L219 52M202 63L229 75M202 63L211 110M202 63L151 88M202 63L226 151M202 63L189 138M162 67L219 52M162 67L211 110M162 67L151 88M162 67L189 138M178 11L112 11M178 11L189 138M178 11L125 28M243 161L160 148M237 100L174 187M243 86L231 227M243 86L190 180M248 112L183 239M248 112L231 227M248 112L216 214M247 136L231 227M247 136L190 180M243 161L183 239M243 161L231 227M243 161L204 191M237 100L231 227M237 100L226 197M237 100L204 191M237 100L190 180M234 151L183 239M234 151L210 246M234 151L231 227M234 151L190 180M243 86L112 11M243 86L219 52M243 86L229 75M243 86L211 110M243 86L189 138M248 112L219 52M248 112L229 75M248 112L211 110M248 112L226 151M248 112L189 138M247 136L112 11M247 136L211 110M247 136L226 151M247 136L189 138M247 136L125 28M243 161L112 11M243 161L219 52M243 161L211 110M243 161L151 88M237 100L229 75M237 100L211 110M237 100L151 88M237 100L226 151M237 100L189 138M237 100L125 28M234 151L219 52M234 151L151 88M234 151L226 151M72 217L200 249M174 187L190 180M133 132L231 227M133 132L204 191M160 148L200 249M160 148L231 227M124 181L183 239M124 181L226 197M69 183L76 129M72 217L101 147M174 187L76 129M160 148L86 141M160 148L101 147M124 181L101 147M69 183L226 151M174 187L226 151M174 187L189 138M133 132L211 110M160 148L151 88M160 148L125 28M124 181L112 11M124 181L211 110M124 181L226 151M124 181L125 28M226 197L76 129M216 214L86 141M183 239L112 11M231 227L226 151M226 197L219 52M226 197L211 110M204 191L151 88M204 191L189 138M204 191L125 28M216 214L229 75M216 214L211 110M190 180L219 52M190 180L229 75M190 180L189 138M101 147L189 138M112 11L229 75M112 11L211 110M112 11L226 151M112 11L125 28M219 52L229 75M219 52L211 110M219 52L189 138M229 75L211 110M229 75L189 138M211 110L151 88M211 110L226 151M211 110L189 138M151 88L226 151M151 88L125 28M226 151L189 138" stroke="#8B8B8B" stroke-width="1.45" vector-effect="non-scaling-stroke"/><path d="M69 183L72 217M69 183L160 148M72 217L174 187M72 217L133 132M72 217L160 148M72 217L124 181M174 187L133 132M174 187L160 148M174 187L124 181M133 132L160 148M133 132L124 181M160 148L124 181" stroke="#EFC21C" stroke-width="1.80" vector-effect="non-scaling-stroke"/><path d="M145 0L188 51M145 0L153 27M145 0L162 67M204 19L188 51M204 19L153 27M204 19L178 11M172 96L188 51M172 96L202 63M172 96L162 67M172 96L178 11M136 50L153 27M136 50L202 63M136 50L162 67M136 50L178 11M188 51L153 27M188 51L202 63M153 27L202 63M153 27L162 67M153 27L178 11M202 63L178 11" stroke="#8DC441" stroke-width="1.80" vector-effect="non-scaling-stroke"/><path d="M243 86L248 112M243 86L247 136M243 86L243 161M243 86L237 100M243 86L234 151M248 112L243 161M248 112L237 100M247 136L243 161M247 136L237 100M247 136L234 151M243 161L234 151M237 100L234 151" stroke="#1EB3CE" stroke-width="2.20" vector-effect="non-scaling-stroke"/><path d="M183 239L200 249M183 239L210 246M183 239L226 197M183 239L216 214M183 239L190 180M200 249L210 246M200 249L231 227M200 249L226 197M200 249L204 191M200 249L216 214M200 249L190 180M210 246L231 227M210 246L226 197M210 246L216 214M210 246L190 180M231 227L226 197M231 227L204 191M231 227L216 214M231 227L190 180M226 197L204 191M226 197L216 214M226 197L190 180M204 191L216 214M204 191L190 180" stroke="#E01E6A" stroke-width="1.70" vector-effect="non-scaling-stroke"/><path d="M7 80L2 163M7 80L14 174M7 80L36 61M7 80L43 176M7 80L43 119M7 80L22 123M7 80L7 119M7 80L28 69M7 80L25 158M7 80L30 95M2 163L14 174M2 163L36 61M2 163L43 119M2 163L7 119M2 163L28 69M2 163L25 158M2 163L30 95M14 174L43 176M14 174L43 119M14 174L22 123M14 174L25 158M14 174L50 51M36 61L43 119M36 61L22 123M36 61L7 119M36 61L28 69M36 61L25 158M36 61L50 51M43 176L43 119M43 176L22 123M43 176L7 119M43 176L25 158M43 176L30 95M43 176L50 51M43 119L22 123M43 119L7 119M43 119L28 69M43 119L25 158M43 119L30 95M43 119L50 51M22 123L7 119M22 123L28 69M22 123L25 158M22 123L30 95M22 123L50 51M7 119L28 69M7 119L25 158M7 119L30 95M7 119L50 51M28 69L25 158M25 158L30 95M25 158L50 51M30 95L50 51M7 80L91 20M2 163L91 20M2 163L65 34M36 61L91 20M36 61L111 37M36 61L65 34M43 176L111 37M43 176L65 34M43 119L91 20M43 119L111 37M22 123L111 37M7 119L91 20M28 69L91 20M28 69L111 37M28 69L65 34M30 95L111 37M50 51L65 34M14 174L72 168M36 61L108 112M43 119L108 112M22 123L72 168M7 119L108 112M91 20L111 37M91 20L65 34M111 37L65 34M111 37L108 112" stroke="#EE3F2F" stroke-width="2.00" vector-effect="non-scaling-stroke"/><path d="M76 129L86 141M76 129L101 147M86 141L101 147" stroke="#2C3CA8" stroke-width="1.80" vector-effect="non-scaling-stroke"/><ellipse cx="69" cy="183" rx="2.8" ry="3.4" fill="#EFC21C"/><ellipse cx="72" cy="217" rx="2.8" ry="3.4" fill="#EFC21C"/><ellipse cx="174" cy="187" rx="2.8" ry="3.4" fill="#EFC21C"/><ellipse cx="133" cy="132" rx="2.8" ry="3.4" fill="#EFC21C"/><ellipse cx="160" cy="148" rx="2.8" ry="3.4" fill="#EFC21C"/><ellipse cx="124" cy="181" rx="2.8" ry="3.4" fill="#EFC21C"/><ellipse cx="145" cy="0" rx="2.8" ry="3.4" fill="#8DC441"/><ellipse cx="204" cy="19" rx="2.8" ry="3.4" fill="#8DC441"/><ellipse cx="172" cy="96" rx="2.8" ry="3.4" fill="#8DC441"/><ellipse cx="136" cy="50" rx="2.8" ry="3.4" fill="#8DC441"/><ellipse cx="188" cy="51" rx="2.8" ry="3.4" fill="#8DC441"/><ellipse cx="153" cy="27" rx="2.8" ry="3.4" fill="#8DC441"/><ellipse cx="202" cy="63" rx="2.8" ry="3.4" fill="#8DC441"/><ellipse cx="162" cy="67" rx="2.8" ry="3.4" fill="#8DC441"/><ellipse cx="178" cy="11" rx="2.8" ry="3.4" fill="#8DC441"/><ellipse cx="243" cy="86" rx="2.8" ry="3.4" fill="#1EB3CE"/><ellipse cx="248" cy="112" rx="2.8" ry="3.4" fill="#1EB3CE"/><ellipse cx="247" cy="136" rx="2.8" ry="3.4" fill="#1EB3CE"/><ellipse cx="243" cy="161" rx="2.8" ry="3.4" fill="#1EB3CE"/><ellipse cx="237" cy="100" rx="2.8" ry="3.4" fill="#1EB3CE"/><ellipse cx="234" cy="151" rx="2.8" ry="3.4" fill="#1EB3CE"/><ellipse cx="183" cy="239" rx="2.8" ry="3.4" fill="#E01E6A"/><ellipse cx="200" cy="249" rx="2.8" ry="3.4" fill="#E01E6A"/><ellipse cx="210" cy="246" rx="2.8" ry="3.4" fill="#E01E6A"/><ellipse cx="231" cy="227" rx="2.8" ry="3.4" fill="#E01E6A"/><ellipse cx="226" cy="197" rx="2.8" ry="3.4" fill="#E01E6A"/><ellipse cx="204" cy="191" rx="2.8" ry="3.4" fill="#E01E6A"/><ellipse cx="216" cy="214" rx="2.8" ry="3.4" fill="#E01E6A"/><ellipse cx="190" cy="180" rx="2.8" ry="3.4" fill="#E01E6A"/><ellipse cx="7" cy="80" rx="2.8" ry="3.4" fill="#EE3F2F"/><ellipse cx="2" cy="163" rx="2.8" ry="3.4" fill="#EE3F2F"/><ellipse cx="14" cy="174" rx="2.8" ry="3.4" fill="#EE3F2F"/><ellipse cx="36" cy="61" rx="2.8" ry="3.4" fill="#EE3F2F"/><ellipse cx="43" cy="176" rx="2.8" ry="3.4" fill="#EE3F2F"/><ellipse cx="43" cy="119" rx="2.8" ry="3.4" fill="#EE3F2F"/><ellipse cx="22" cy="123" rx="2.8" ry="3.4" fill="#EE3F2F"/><ellipse cx="7" cy="119" rx="2.8" ry="3.4" fill="#EE3F2F"/><ellipse cx="28" cy="69" rx="2.8" ry="3.4" fill="#EE3F2F"/><ellipse cx="25" cy="158" rx="2.8" ry="3.4" fill="#EE3F2F"/><ellipse cx="30" cy="95" rx="2.8" ry="3.4" fill="#EE3F2F"/><ellipse cx="50" cy="51" rx="2.8" ry="3.4" fill="#EE3F2F"/><ellipse cx="91" cy="20" rx="2.8" ry="3.4" fill="#EE3F2F"/><ellipse cx="111" cy="37" rx="2.8" ry="3.4" fill="#EE3F2F"/><ellipse cx="65" cy="34" rx="2.8" ry="3.4" fill="#EE3F2F"/><ellipse cx="108" cy="112" rx="2.8" ry="3.4" fill="#EE3F2F"/><ellipse cx="72" cy="168" rx="2.8" ry="3.4" fill="#EE3F2F"/><ellipse cx="76" cy="129" rx="2.8" ry="3.4" fill="#2C3CA8"/><ellipse cx="86" cy="141" rx="2.8" ry="3.4" fill="#2C3CA8"/><ellipse cx="101" cy="147" rx="2.8" ry="3.4" fill="#2C3CA8"/></g>
<g transform="translate(492.0,551.0) scale(0.4760,0.5660)" fill="none" stroke-linecap="round"><path d="M52 8L80 98M198 8L170 98M112 0L48 88M138 0L202 88M167 12L65 92M83 12L185 92M167 12L80 98M83 12L170 98M22 45L65 92M228 45L185 92M75 45L80 98M175 45L170 98M18 75L170 98M232 75L80 98M20 115L48 88M230 115L202 88M40 110L48 88M210 110L202 88M40 110L65 92M210 110L185 92M138 0L55 146M112 0L195 146M82 12L95 150M167 12L155 150M50 70L15 148M200 70L235 148M50 70L155 150M200 70L95 150M20 115L40 70M230 115L210 70M40 110L30 130M210 110L220 130M125 100L55 146M125 100L195 146M125 100L95 150M125 100L155 150M75 108L15 148M175 108L235 148M52 8L80 136M198 8L170 136M52 8L125 165M198 8L125 165M52 8L30 188M198 8L220 188M112 0L138 120M138 0L112 120M138 0L80 136M112 0L170 136M22 45L175 125M228 45L75 125M18 75L75 125M232 75L175 125M18 75L68 200M232 75L182 200M50 70L138 120M200 70L112 120M40 110L145 200M210 110L105 200M88 75L75 125M162 75L175 125M88 75L162 158M162 75L88 158M162 75L75 125M88 75L175 125M125 100L2 155M125 100L248 155M125 100L80 136M125 100L170 136M75 108L105 200M175 108L145 200M175 108L28 136M75 108L222 136M112 0L60 212M138 0L190 212M52 8L125 75M198 8L125 75M112 0L125 75M138 0L125 75M82 12L138 215M167 12L112 215M22 45L100 150M228 45L150 150M22 45L20 175M228 45L230 175M18 75L125 75M232 75L125 75M50 70L150 150M200 70L100 150M50 70L55 175M200 70L195 175M50 70L20 175M200 70L230 175M88 75L150 150M162 75L100 150M88 75L125 75M162 75L125 75M75 108L150 150M175 108L100 150M75 108L112 215M175 108L138 215M75 108L125 75M175 108L125 75M75 108L20 175M175 108L230 175M175 108L62 218M75 108L188 218M175 108L50 150M75 108L200 150M198 8L42 238M52 8L208 238M22 45L208 238M228 45L43 238M175 108L42 238M75 108L208 238M65 92L175 125M185 92L75 125M65 92L30 188M185 92L220 188M80 98L2 155M170 98L248 155M80 98L167 165M170 98L83 165M48 88L100 150M202 88L150 150M48 88L125 75M202 88L125 75M48 88L100 220M202 88L150 220M65 92L125 75M185 92L125 75M65 92L62 218M185 92L188 218M185 92L50 150M65 92L200 150M80 98L125 225M170 98L125 225M80 98L25 210M170 98L225 210M80 98L162 205M170 98L88 205M80 98L62 218M170 98L188 218M8 134L28 136M242 134L222 136M8 134L38 162M242 134L212 162M8 134L30 188M242 134L220 188M15 148L2 155M235 148L248 155M40 70L88 158M210 70L162 158M40 70L162 158M210 70L88 158M30 130L2 155M220 130L248 155M30 130L88 158M220 130L162 158M55 146L75 125M195 146L175 125M55 146L138 120M195 146L112 120M55 146L2 155M195 146L248 155M55 146L105 200M195 146L145 200M55 146L30 188M195 146L220 188M95 150L75 125M155 150L175 125M95 150L138 120M155 150L112 120M95 150L125 138M155 150L125 138M95 150L38 162M155 150L212 162M95 150L125 165M155 150L125 165M8 134L32 208M242 134L218 208M15 148L98 175M235 148L152 175M15 148L82 165M235 148L167 165M40 70L167 165M210 70L83 165M155 150L82 165M95 150L167 165M8 134L100 150M242 134L150 150M8 134L162 205M242 134L88 205M8 134L20 175M242 134L230 175M15 148L112 215M235 148L138 215M15 148L200 150M235 148L50 150M40 70L125 75M210 70L125 75M30 130L55 175M220 130L195 175M30 130L112 215M220 130L138 215M30 130L50 150M220 130L200 150M55 146L55 175M195 146L195 175M55 146L125 75M195 146L125 75M55 146L20 175M195 146L230 175M155 150L75 225M95 150L175 225M8 134L65 240M242 134L185 240M40 70L185 240M210 70L65 240M55 146L125 242M195 146L125 242M55 146L65 240M195 146L185 240M75 125L60 212M175 125L190 212M75 125L82 165M175 125L167 165M2 155L60 212M248 155L190 212M2 155L32 208M248 155L218 208M2 155L167 165M248 155L83 165M28 136L98 175M222 136L152 175M38 162L42 218M212 162L208 218M38 162L60 212M212 162L190 212M38 162L32 208M212 162L218 208M38 162L98 175M212 162L152 175M88 158L98 175M162 158L152 175M162 158L82 165M88 158L167 165M125 165L60 212M125 165L190 212M125 165L98 175M125 165L152 175M68 200L32 208M182 200L218 208M68 200L152 175M182 200L98 175M105 200L98 175M145 200L152 175M145 200L60 212M105 200L190 212M145 200L82 165M105 200L167 165M30 188L60 212M220 188L190 212M30 188L32 208M220 188L218 208M30 188L98 175M220 188L152 175M30 188L152 175M220 188L98 175M75 125L62 218M175 125L188 218M112 120L125 75M138 120L125 75M138 120L75 225M112 120L175 225M138 120L20 175M112 120L230 175M2 155L100 220M248 155L150 220M2 155L50 150M248 155L200 150M28 136L25 210M222 136L225 210M28 136L150 220M222 136L100 220M28 136L62 218M222 136L188 218M28 136L20 175M222 136L230 175M80 136L150 150M170 136L100 150M80 136L55 175M170 136L195 175M80 136L138 215M170 136L112 215M80 136L150 220M170 136L100 220M80 136L62 218M170 136L188 218M170 136L62 218M80 136L188 218M125 138L100 150M125 138L150 150M125 138L50 150M125 138L200 150M38 162L75 225M212 162L175 225M38 162L125 225M212 162L125 225M38 162L195 175M212 162L55 175M88 158L150 150M162 158L100 150M88 158L25 210M162 158L225 210M88 158L100 220M162 158L150 220M88 158L50 150M162 158L200 150M162 158L88 205M88 158L162 205M162 158L62 218M88 158L188 218M162 158L50 150M88 158L200 150M125 165L100 150M125 165L150 150M125 165L88 205M125 165L162 205M125 165L125 208M125 165L125 208M125 165L100 220M125 165L150 220M125 165L62 218M125 165L188 218M68 200L125 225M182 200L125 225M68 200L25 210M182 200L225 210M68 200L125 75M182 200L125 75M68 200L162 205M182 200L88 205M105 200L112 215M145 200L138 215M145 200L75 225M105 200L175 225M145 200L100 150M105 200L150 150M145 200L88 205M105 200L162 205M30 188L150 150M220 188L100 150M30 188L62 218M220 188L188 218M30 188L188 218M220 188L62 218M75 125L162 248M175 125L88 248M138 120L105 235M112 120L145 235M138 120L65 240M112 120L185 240M2 155L105 235M248 155L145 235M80 136L42 238M170 136L208 238M38 162L125 242M212 162L125 242M68 200L88 248M182 200L162 248M105 200L145 235M145 200L105 235M30 188L88 248M220 188L162 248M42 218L125 225M208 218L125 225M42 218L88 205M208 218L162 205M42 218L125 208M208 218L125 208M42 218L62 218M208 218L188 218M208 218L20 175M43 218L230 175M60 212L75 225M190 212L175 225M60 212L125 225M190 212L125 225M60 212L150 150M190 212L100 150M60 212L138 215M190 212L112 215M60 212L25 210M190 212L225 210M60 212L88 205M190 212L162 205M50 200L25 210M200 200L225 210M50 200L125 75M200 200L125 75M50 200L162 205M200 200L88 205M50 200L100 220M200 200L150 220M50 200L50 150M200 200L200 150M32 208L150 150M218 208L100 150M32 208L195 175M218 208L55 175M32 208L138 215M218 208L112 215M32 208L25 210M218 208L225 210M32 208L62 218M218 208L188 218M32 208L20 175M218 208L230 175M98 175L100 150M152 175L150 150M98 175L138 215M152 175L112 215M98 175L125 75M152 175L125 75M98 175L88 205M152 175L162 205M98 175L125 208M152 175L125 208M152 175L55 175M98 175L195 175M82 165L100 150M167 165L150 150M82 165L112 215M167 165L138 215M82 165L25 210M167 165L225 210M82 165L88 205M167 165L162 205M82 165L125 208M167 165L125 208M82 165L62 218M167 165L188 218M167 165L62 218M83 165L188 218M42 218L42 238M208 218L208 238M42 218L88 248M208 218L162 248M42 218L65 240M208 218L185 240M60 212L88 248M190 212L162 248M60 212L162 248M190 212L88 248M60 212L105 235M190 212L145 235M60 212L65 240M190 212L185 240M50 200L145 235M200 200L105 235M32 208L145 235M218 208L105 235M32 208L65 240M218 208L185 240M82 165L88 248M167 165L162 248M82 165L65 240M167 165L185 240M75 225L150 150M175 225L100 150M75 225L88 205M175 225L162 205M75 225L100 220M175 225L150 220M75 225L62 218M175 225L188 218M75 225L50 150M175 225L200 150M75 225L20 175M175 225L230 175M125 225L125 208M125 225L125 208M125 225L100 220M125 225L150 220M125 225L62 218M125 225L188 218M100 150L150 150M150 150L100 150M100 150L55 175M150 150L195 175M100 150L138 215M150 150L112 215M100 150L25 210M150 150L225 210M100 150L88 205M150 150L162 205M100 150L125 208M150 150L125 208M150 150L62 218M100 150L188 218M150 150L50 150M100 150L200 150M55 175L25 210M195 175L225 210M55 175L125 75M195 175L125 75M55 175L162 205M195 175L88 205M55 175L50 150M195 175L200 150M112 215L138 215M138 215L112 215M112 215L100 220M138 215L150 220M138 215L25 210M112 215L225 210M138 215L88 205M112 215L162 205M138 215L100 220M112 215L150 220M138 215L20 175M112 215L230 175M25 210L225 210M225 210L25 210M25 210L88 205M225 210L162 205M25 210L162 205M225 210L88 205M25 210L125 208M225 210L125 208M25 210L150 220M225 210L100 220M125 75L88 205M125 75L162 205M88 205L162 205M162 205L88 205M88 205L125 208M162 205L125 208M88 205L150 220M162 205L100 220M88 205L62 218M162 205L188 218M88 205L20 175M162 205L230 175M125 208L100 220M125 208L150 220M125 208L62 218M125 208L188 218M125 208L20 175M125 208L230 175M100 220L150 220M150 220L100 220M150 220L62 218M100 220L188 218M62 218L20 175M188 218L230 175M75 225L42 238M175 225L208 238M75 225L88 248M175 225L162 248M75 225L125 242M175 225L125 242M75 225L105 235M175 225L145 235M175 225L42 238M75 225L208 238M125 225L88 248M125 225L162 248M125 225L105 235M125 225L145 235M125 225L65 240M125 225L185 240M100 150L42 238M150 150L208 238M100 150L88 248M150 150L162 248M100 150L125 242M150 150L125 242M150 150L42 238M100 150L208 238M150 150L88 248M100 150L162 248M55 175L88 248M195 175L162 248M55 175L145 235M195 175L105 235M112 215L125 242M138 215L125 242M112 215L105 235M138 215L145 235M112 215L65 240M138 215L185 240M138 215L42 238M112 215L208 238M138 215L65 240M112 215L185 240M25 210L88 248M225 210L162 248M25 210L125 242M225 210L125 242M25 210L65 240M225 210L185 240M25 210L185 240M225 210L65 240M125 75L88 248M125 75L162 248M88 205L42 238M162 205L208 238M88 205L88 248M162 205L162 248M88 205L125 242M162 205L125 242M88 205L105 235M162 205L145 235M162 205L88 248M88 205L162 248M125 208L65 240M125 208L185 240M100 220L88 248M150 220L162 248M100 220L105 235M150 220L145 235M100 220L145 235M150 220L105 235M150 220L65 240M100 220L185 240M62 218L42 238M188 218L208 238M62 218L162 248M188 218L88 248M50 150L42 238M200 150L208 238M50 150L105 235M200 150L145 235M50 150L65 240M200 150L185 240M50 150L185 240M200 150L65 240M20 175L88 248M230 175L162 248M20 175L145 235M230 175L105 235M20 175L185 240M230 175L65 240M20 115L8 134M230 115L242 134M30 188L42 218M220 188L208 218M42 218L42 238M208 218L208 238M2 155L42 238M248 155L208 238" stroke="#8B8B8B" stroke-width="1.09" vector-effect="non-scaling-stroke"/><path d="M8 134L15 148M242 134L235 148M8 134L30 130M242 134L220 130M15 148L40 70M235 148L210 70M15 148L30 130M235 148L220 130M15 148L55 146M235 148L195 146M15 148L95 150M235 148L155 150M40 70L30 130M210 70L220 130M40 70L55 146M210 70L195 146M30 130L55 146M220 130L195 146M8 134L2 155M242 134L248 155" stroke="#EFC21C" stroke-width="1.80" vector-effect="non-scaling-stroke"/><path d="M75 125L175 125M175 125L75 125M75 125L28 136M175 125L222 136M75 125L80 136M175 125L170 136M75 125L38 162M175 125L212 162M75 125L162 158M175 125L88 158M75 125L125 165M175 125L125 165M75 125L30 188M175 125L220 188M175 125L30 188M75 125L220 188M112 120L80 136M138 120L170 136M112 120L125 138M138 120L125 138M112 120L38 162M138 120L212 162M112 120L88 158M138 120L162 158M112 120L125 165M138 120L125 165M112 120L68 200M138 120L182 200M138 120L2 155M112 120L248 155M138 120L80 136M112 120L170 136M138 120L88 158M112 120L162 158M138 120L105 200M112 120L145 200M2 155L125 165M248 155L125 165M2 155L30 188M248 155L220 188M28 136L80 136M222 136L170 136M28 136L38 162M222 136L212 162M28 136L68 200M222 136L182 200M28 136L105 200M222 136L145 200M80 136L170 136M170 136L80 136M80 136L88 158M170 136L162 158M80 136L68 200M170 136L182 200M80 136L105 200M170 136L145 200M38 162L88 158M212 162L162 158M38 162L68 200M212 162L182 200M88 158L162 158M162 158L88 158M88 158L145 200M162 158L105 200M125 165L105 200M125 165L145 200M125 165L30 188M125 165L220 188M68 200L145 200M182 200L105 200M105 200L145 200M145 200L105 200M2 155L30 188M248 155L220 188M28 136L222 136M222 136L27 136M2 155L248 155M248 155L3 155M68 200L182 200M182 200L68 200" stroke="#8DC441" stroke-width="1.35" vector-effect="non-scaling-stroke"/><path d="M42 238L88 248M208 238L162 248M42 238L105 235M208 238L145 235M88 248L125 242M162 248L125 242M88 248L105 235M162 248L145 235M162 248L65 240M88 248L185 240M125 242L105 235M125 242L145 235M125 242L65 240M125 242L185 240M105 235L145 235M145 235L105 235M145 235L65 240M105 235L185 240M42 238L125 242M208 238L125 242" stroke="#1EB3CE" stroke-width="2.20" vector-effect="non-scaling-stroke"/><path d="M42 218L32 208M208 218L218 208M60 212L50 200M190 212L200 200M50 200L82 165M200 200L167 165" stroke="#E01E6A" stroke-width="1.70" vector-effect="non-scaling-stroke"/><path d="M52 8L112 0M198 8L138 0M52 8L138 0M198 8L112 0M52 8L167 12M198 8L83 12M52 8L22 45M198 8L228 45M52 8L50 70M198 8L200 70M52 8L75 108M198 8L175 108M198 8L40 110M52 8L210 110M112 0L82 12M138 0L167 12M138 0L75 45M112 0L175 45M138 0L40 110M112 0L210 110M138 0L88 75M112 0L162 75M82 12L50 70M167 12L200 70M167 12L75 108M83 12L175 108M22 45L50 70M228 45L200 70M22 45L40 110M228 45L210 110M22 45L162 75M228 45L88 75M22 45L175 108M228 45L75 108M75 45L175 45M175 45L75 45M75 45L18 75M175 45L232 75M75 45L50 70M175 45L200 70M75 45L20 115M175 45L230 115M75 45L88 75M175 45L162 75M75 45L75 108M175 45L175 108M125 42L50 70M125 42L200 70M18 75L232 75M232 75L18 75M18 75L50 70M232 75L200 70M18 75L230 115M232 75L20 115M18 75L40 110M232 75L210 110M50 70L200 70M200 70L50 70M50 70L40 110M200 70L210 110M50 70L88 75M200 70L162 75M50 70L75 108M200 70L175 108M20 115L40 110M230 115L210 110M20 115L125 100M230 115L125 100M20 115L75 108M230 115L175 108M40 110L210 110M210 110L40 110M40 110L75 108M210 110L175 108M88 75L125 100M162 75L125 100M52 8L112 0M198 8L138 0M112 0L138 0M138 0L112 0M52 8L22 45M198 8L228 45M22 45L18 75M228 45L232 75M18 75L20 115M232 75L230 115M22 45L228 45M228 45L22 45M18 75L232 75M232 75L17 75M20 115L230 115M230 115L20 115M52 8L50 70M198 8L200 70M82 12L88 75M167 12L162 75M112 0L125 100M138 0L125 100M52 8L125 100M198 8L125 100" stroke="#EE3F2F" stroke-width="1.60" vector-effect="non-scaling-stroke"/><path d="M48 88L65 92M202 88L185 92M48 88L80 98M202 88L170 98M65 92L80 98M185 92L170 98" stroke="#2C3CA8" stroke-width="1.80" vector-effect="non-scaling-stroke"/><ellipse cx="8" cy="134" rx="3.4" ry="2.8" fill="#EFC21C"/><ellipse cx="242" cy="134" rx="3.4" ry="2.8" fill="#EFC21C"/><ellipse cx="15" cy="148" rx="3.4" ry="2.8" fill="#EFC21C"/><ellipse cx="235" cy="148" rx="3.4" ry="2.8" fill="#EFC21C"/><ellipse cx="40" cy="70" rx="3.4" ry="2.8" fill="#EFC21C"/><ellipse cx="210" cy="70" rx="3.4" ry="2.8" fill="#EFC21C"/><ellipse cx="30" cy="130" rx="3.4" ry="2.8" fill="#EFC21C"/><ellipse cx="220" cy="130" rx="3.4" ry="2.8" fill="#EFC21C"/><ellipse cx="55" cy="146" rx="3.4" ry="2.8" fill="#EFC21C"/><ellipse cx="195" cy="146" rx="3.4" ry="2.8" fill="#EFC21C"/><ellipse cx="95" cy="150" rx="3.4" ry="2.8" fill="#EFC21C"/><ellipse cx="155" cy="150" rx="3.4" ry="2.8" fill="#EFC21C"/><ellipse cx="75" cy="125" rx="3.4" ry="2.8" fill="#8DC441"/><ellipse cx="175" cy="125" rx="3.4" ry="2.8" fill="#8DC441"/><ellipse cx="112" cy="120" rx="3.4" ry="2.8" fill="#8DC441"/><ellipse cx="138" cy="120" rx="3.4" ry="2.8" fill="#8DC441"/><ellipse cx="2" cy="155" rx="3.4" ry="2.8" fill="#8DC441"/><ellipse cx="248" cy="155" rx="3.4" ry="2.8" fill="#8DC441"/><ellipse cx="28" cy="136" rx="3.4" ry="2.8" fill="#8DC441"/><ellipse cx="222" cy="136" rx="3.4" ry="2.8" fill="#8DC441"/><ellipse cx="80" cy="136" rx="3.4" ry="2.8" fill="#8DC441"/><ellipse cx="170" cy="136" rx="3.4" ry="2.8" fill="#8DC441"/><ellipse cx="125" cy="138" rx="3.4" ry="2.8" fill="#8DC441"/><ellipse cx="38" cy="162" rx="3.4" ry="2.8" fill="#8DC441"/><ellipse cx="212" cy="162" rx="3.4" ry="2.8" fill="#8DC441"/><ellipse cx="88" cy="158" rx="3.4" ry="2.8" fill="#8DC441"/><ellipse cx="162" cy="158" rx="3.4" ry="2.8" fill="#8DC441"/><ellipse cx="125" cy="165" rx="3.4" ry="2.8" fill="#8DC441"/><ellipse cx="68" cy="200" rx="3.4" ry="2.8" fill="#8DC441"/><ellipse cx="182" cy="200" rx="3.4" ry="2.8" fill="#8DC441"/><ellipse cx="105" cy="200" rx="3.4" ry="2.8" fill="#8DC441"/><ellipse cx="145" cy="200" rx="3.4" ry="2.8" fill="#8DC441"/><ellipse cx="30" cy="188" rx="3.4" ry="2.8" fill="#8DC441"/><ellipse cx="220" cy="188" rx="3.4" ry="2.8" fill="#8DC441"/><ellipse cx="42" cy="238" rx="3.4" ry="2.8" fill="#1EB3CE"/><ellipse cx="208" cy="238" rx="3.4" ry="2.8" fill="#1EB3CE"/><ellipse cx="88" cy="248" rx="3.4" ry="2.8" fill="#1EB3CE"/><ellipse cx="162" cy="248" rx="3.4" ry="2.8" fill="#1EB3CE"/><ellipse cx="125" cy="242" rx="3.4" ry="2.8" fill="#1EB3CE"/><ellipse cx="105" cy="235" rx="3.4" ry="2.8" fill="#1EB3CE"/><ellipse cx="145" cy="235" rx="3.4" ry="2.8" fill="#1EB3CE"/><ellipse cx="65" cy="240" rx="3.4" ry="2.8" fill="#1EB3CE"/><ellipse cx="185" cy="240" rx="3.4" ry="2.8" fill="#1EB3CE"/><ellipse cx="42" cy="218" rx="3.4" ry="2.8" fill="#E01E6A"/><ellipse cx="208" cy="218" rx="3.4" ry="2.8" fill="#E01E6A"/><ellipse cx="60" cy="212" rx="3.4" ry="2.8" fill="#E01E6A"/><ellipse cx="190" cy="212" rx="3.4" ry="2.8" fill="#E01E6A"/><ellipse cx="50" cy="200" rx="3.4" ry="2.8" fill="#E01E6A"/><ellipse cx="200" cy="200" rx="3.4" ry="2.8" fill="#E01E6A"/><ellipse cx="32" cy="208" rx="3.4" ry="2.8" fill="#E01E6A"/><ellipse cx="218" cy="208" rx="3.4" ry="2.8" fill="#E01E6A"/><ellipse cx="98" cy="175" rx="3.4" ry="2.8" fill="#E01E6A"/><ellipse cx="152" cy="175" rx="3.4" ry="2.8" fill="#E01E6A"/><ellipse cx="82" cy="165" rx="3.4" ry="2.8" fill="#E01E6A"/><ellipse cx="167" cy="165" rx="3.4" ry="2.8" fill="#E01E6A"/><ellipse cx="52" cy="8" rx="3.4" ry="2.8" fill="#EE3F2F"/><ellipse cx="198" cy="8" rx="3.4" ry="2.8" fill="#EE3F2F"/><ellipse cx="112" cy="0" rx="3.4" ry="2.8" fill="#EE3F2F"/><ellipse cx="138" cy="0" rx="3.4" ry="2.8" fill="#EE3F2F"/><ellipse cx="82" cy="12" rx="3.4" ry="2.8" fill="#EE3F2F"/><ellipse cx="167" cy="12" rx="3.4" ry="2.8" fill="#EE3F2F"/><ellipse cx="22" cy="45" rx="3.4" ry="2.8" fill="#EE3F2F"/><ellipse cx="228" cy="45" rx="3.4" ry="2.8" fill="#EE3F2F"/><ellipse cx="75" cy="45" rx="3.4" ry="2.8" fill="#EE3F2F"/><ellipse cx="175" cy="45" rx="3.4" ry="2.8" fill="#EE3F2F"/><ellipse cx="125" cy="42" rx="3.4" ry="2.8" fill="#EE3F2F"/><ellipse cx="18" cy="75" rx="3.4" ry="2.8" fill="#EE3F2F"/><ellipse cx="232" cy="75" rx="3.4" ry="2.8" fill="#EE3F2F"/><ellipse cx="50" cy="70" rx="3.4" ry="2.8" fill="#EE3F2F"/><ellipse cx="200" cy="70" rx="3.4" ry="2.8" fill="#EE3F2F"/><ellipse cx="20" cy="115" rx="3.4" ry="2.8" fill="#EE3F2F"/><ellipse cx="230" cy="115" rx="3.4" ry="2.8" fill="#EE3F2F"/><ellipse cx="40" cy="110" rx="3.4" ry="2.8" fill="#EE3F2F"/><ellipse cx="210" cy="110" rx="3.4" ry="2.8" fill="#EE3F2F"/><ellipse cx="88" cy="75" rx="3.4" ry="2.8" fill="#EE3F2F"/><ellipse cx="162" cy="75" rx="3.4" ry="2.8" fill="#EE3F2F"/><ellipse cx="125" cy="100" rx="3.4" ry="2.8" fill="#EE3F2F"/><ellipse cx="75" cy="108" rx="3.4" ry="2.8" fill="#EE3F2F"/><ellipse cx="175" cy="108" rx="3.4" ry="2.8" fill="#EE3F2F"/><ellipse cx="48" cy="88" rx="3.4" ry="2.8" fill="#2C3CA8"/><ellipse cx="202" cy="88" rx="3.4" ry="2.8" fill="#2C3CA8"/><ellipse cx="65" cy="92" rx="3.4" ry="2.8" fill="#2C3CA8"/><ellipse cx="185" cy="92" rx="3.4" ry="2.8" fill="#2C3CA8"/><ellipse cx="80" cy="98" rx="3.4" ry="2.8" fill="#2C3CA8"/><ellipse cx="170" cy="98" rx="3.4" ry="2.8" fill="#2C3CA8"/></g>
<g transform="translate(629.5,558.5) scale(0.5760,0.4792)" fill="none" stroke-linecap="round"><path d="M221 70L63 48M210 178L0 111M231 124L78 187M221 70L178 181M221 70L21 228M245 161L162 139M205 119L171 125M231 124L171 125M231 124L162 139M247 121L171 125M221 70L162 139M198 50L152 143M159 17L106 3M159 17L45 15M159 17L90 66M138 37L113 51M138 37L63 48M138 37L95 25M184 33L63 48M184 33L90 66M184 33L13 150M159 17L127 180M159 17L137 14M159 17L99 89M159 17L124 32M138 37L18 76M138 37L124 32M140 116L81 100M140 116L52 64M178 169L68 14M178 169L176 216M178 169L91 146M140 116L66 239M140 116L36 216M140 116L162 139M178 169L162 139M140 116L137 14M140 116L35 115M45 15L3 138M45 15L7 162M81 100L0 111M113 51L7 162M113 51L13 150M63 48L3 138M63 48L13 150M95 25L3 83M95 25L13 150M52 64L3 83M52 64L0 111M52 64L3 138M52 64L14 98M90 66L3 83M90 66L3 138M68 14L3 83M106 3L176 216M81 100L178 181M81 100L119 128M81 100L127 180M113 51L119 128M113 51L91 146M63 48L176 216M63 48L127 180M52 64L178 181M52 64L176 216M52 64L78 187M52 64L91 146M90 66L178 181M68 14L91 146M45 15L38 244M45 15L24 198M81 100L52 248M113 51L21 228M95 25L66 239M52 64L24 198M90 66L38 244M68 14L38 244M45 15L152 143M81 100L171 125M113 51L162 139M95 25L162 139M95 25L152 143M90 66L171 125M68 14L152 143M106 3L137 14M106 3L99 89M106 3L27 152M106 3L124 32M45 15L137 14M45 15L28 49M45 15L18 76M45 15L35 115M81 100L137 14M81 100L35 115M81 100L99 89M81 100L61 136M113 51L28 49M113 51L18 76M113 51L35 115M113 51L99 89M113 51L61 136M113 51L124 32M63 48L28 49M63 48L18 76M63 48L35 115M63 48L61 136M63 48L124 32M95 25L28 49M95 25L35 115M95 25L27 152M95 25L61 136M95 25L124 32M52 64L137 14M52 64L28 49M52 64L18 76M52 64L61 136M90 66L137 14M90 66L28 49M90 66L18 76M90 66L35 115M90 66L99 89M90 66L27 152M90 66L61 136M68 14L137 14M68 14L28 49M68 14L35 115M68 14L99 89M68 14L61 136M68 14L124 32M3 83L91 146M0 111L91 146M3 138L176 216M7 162L176 216M7 162L91 146M14 98L127 180M13 150L91 146M3 83L21 228M3 83L44 193M3 83L36 216M0 111L38 244M3 138L38 244M3 138L24 198M3 138L62 181M7 162L38 244M7 162L21 228M7 162L44 193M14 98L38 244M14 98L24 198M14 98L36 216M14 98L62 181M13 150L24 198M13 150L36 216M13 150L62 181M3 83L137 14M3 83L28 49M3 83L18 76M3 83L99 89M3 83L27 152M3 83L61 136M0 111L28 49M3 138L27 152M3 138L61 136M7 162L28 49M7 162L18 76M7 162L99 89M7 162L27 152M7 162L61 136M14 98L28 49M14 98L18 76M14 98L99 89M13 150L137 14M13 150L35 115M13 150L27 152M13 150L61 136M176 216L66 239M78 187L44 193M78 187L36 216M78 187L62 181M119 128L52 248M119 128L24 198M91 146L66 239M91 146L44 193M91 146L62 181M127 180L38 244M127 180L24 198M178 181L162 139M176 216L152 143M119 128L162 139M127 180L152 143M178 181L61 136M178 181L124 32M176 216L124 32M78 187L18 76M78 187L99 89M78 187L61 136M78 187L124 32M119 128L28 49M119 128L18 76M119 128L99 89M91 146L28 49M91 146L18 76M91 146L35 115M91 146L99 89M91 146L27 152M91 146L124 32M127 180L18 76M127 180L27 152M127 180L61 136M36 216L152 143M66 239L35 115M66 239L99 89M66 239L27 152M66 239L61 136M52 248L18 76M52 248L99 89M38 244L27 152M24 198L137 14M24 198L99 89M24 198L27 152M44 193L18 76M44 193L35 115M44 193L99 89M44 193L61 136M36 216L35 115M62 181L27 152M62 181L61 136M171 125L35 115M162 139L137 14M162 139L18 76M162 139L99 89M137 14L28 49M137 14L99 89M28 49L18 76M28 49L27 152M28 49L124 32M18 76L35 115M18 76L99 89M18 76L61 136M35 115L99 89M35 115L27 152M35 115L124 32M99 89L27 152M99 89L124 32" stroke="#8B8B8B" stroke-width="1.45" vector-effect="non-scaling-stroke"/><path d="M178 181L176 216M178 181L78 187M178 181L127 180M176 216L119 128M176 216L127 180M78 187L119 128M78 187L91 146M78 187L127 180M119 128L91 146M119 128L127 180M91 146L127 180" stroke="#EFC21C" stroke-width="1.80" vector-effect="non-scaling-stroke"/><path d="M106 3L45 15M106 3L63 48M106 3L95 25M106 3L90 66M45 15L113 51M45 15L63 48M45 15L68 14M81 100L113 51M81 100L63 48M81 100L90 66M81 100L68 14M113 51L63 48M113 51L95 25M113 51L52 64M113 51L90 66M113 51L68 14M63 48L95 25M63 48L52 64M63 48L68 14M95 25L52 64M95 25L90 66M95 25L68 14M52 64L90 66M52 64L68 14" stroke="#8DC441" stroke-width="1.80" vector-effect="non-scaling-stroke"/><path d="M3 83L0 111M3 83L3 138M3 83L14 98M0 111L3 138M0 111L14 98M0 111L13 150M3 138L14 98M3 138L13 150M7 162L14 98M7 162L13 150M14 98L13 150" stroke="#1EB3CE" stroke-width="2.20" vector-effect="non-scaling-stroke"/><path d="M66 239L52 248M66 239L38 244M66 239L21 228M66 239L36 216M66 239L62 181M52 248L38 244M52 248L24 198M52 248L44 193M52 248L62 181M38 244L21 228M38 244L44 193M38 244L36 216M38 244L62 181M21 228L44 193M21 228L36 216M21 228L62 181M24 198L44 193M24 198L36 216M44 193L36 216M44 193L62 181" stroke="#E01E6A" stroke-width="1.70" vector-effect="non-scaling-stroke"/><path d="M244 80L245 161M244 80L237 173M244 80L212 60M244 80L210 178M244 80L205 119M244 80L231 124M244 80L247 121M244 80L228 159M244 80L222 94M245 161L237 173M245 161L210 178M245 161L231 124M245 161L247 121M245 161L221 70M245 161L198 50M237 173L212 60M237 173L210 178M237 173L205 119M237 173L231 124M237 173L247 121M237 173L221 70M212 60L210 178M212 60L205 119M212 60L247 121M212 60L221 70M212 60L228 159M212 60L222 94M212 60L198 50M210 178L205 119M210 178L231 124M210 178L247 121M210 178L221 70M210 178L228 159M210 178L222 94M210 178L198 50M205 119L231 124M205 119L221 70M205 119L228 159M205 119L222 94M205 119L198 50M231 124L247 121M231 124L228 159M231 124L222 94M231 124L198 50M247 121L228 159M247 121L222 94M247 121L198 50M221 70L228 159M221 70L198 50M228 159L222 94M228 159L198 50M244 80L159 17M244 80L138 37M244 80L184 33M212 60L159 17M212 60L138 37M205 119L159 17M205 119L138 37M231 124L138 37M221 70L159 17M221 70L138 37M228 159L159 17M228 159L138 37M228 159L184 33M222 94L159 17M222 94L138 37M222 94L184 33M198 50L138 37M237 173L140 116M205 119L178 169M231 124L140 116M222 94L140 116M222 94L178 169M159 17L138 37M159 17L184 33M138 37L184 33" stroke="#EE3F2F" stroke-width="2.00" vector-effect="non-scaling-stroke"/><path d="M171 125L162 139M171 125L152 143M162 139L152 143" stroke="#2C3CA8" stroke-width="1.80" vector-effect="non-scaling-stroke"/><ellipse cx="178" cy="181" rx="2.8" ry="3.3" fill="#EFC21C"/><ellipse cx="176" cy="216" rx="2.8" ry="3.3" fill="#EFC21C"/><ellipse cx="78" cy="187" rx="2.8" ry="3.3" fill="#EFC21C"/><ellipse cx="119" cy="128" rx="2.8" ry="3.3" fill="#EFC21C"/><ellipse cx="91" cy="146" rx="2.8" ry="3.3" fill="#EFC21C"/><ellipse cx="127" cy="180" rx="2.8" ry="3.3" fill="#EFC21C"/><ellipse cx="106" cy="3" rx="2.8" ry="3.3" fill="#8DC441"/><ellipse cx="45" cy="15" rx="2.8" ry="3.3" fill="#8DC441"/><ellipse cx="81" cy="100" rx="2.8" ry="3.3" fill="#8DC441"/><ellipse cx="113" cy="51" rx="2.8" ry="3.3" fill="#8DC441"/><ellipse cx="63" cy="48" rx="2.8" ry="3.3" fill="#8DC441"/><ellipse cx="95" cy="25" rx="2.8" ry="3.3" fill="#8DC441"/><ellipse cx="52" cy="64" rx="2.8" ry="3.3" fill="#8DC441"/><ellipse cx="90" cy="66" rx="2.8" ry="3.3" fill="#8DC441"/><ellipse cx="68" cy="14" rx="2.8" ry="3.3" fill="#8DC441"/><ellipse cx="3" cy="83" rx="2.8" ry="3.3" fill="#1EB3CE"/><ellipse cx="0" cy="111" rx="2.8" ry="3.3" fill="#1EB3CE"/><ellipse cx="3" cy="138" rx="2.8" ry="3.3" fill="#1EB3CE"/><ellipse cx="7" cy="162" rx="2.8" ry="3.3" fill="#1EB3CE"/><ellipse cx="14" cy="98" rx="2.8" ry="3.3" fill="#1EB3CE"/><ellipse cx="13" cy="150" rx="2.8" ry="3.3" fill="#1EB3CE"/><ellipse cx="66" cy="239" rx="2.8" ry="3.3" fill="#E01E6A"/><ellipse cx="52" cy="248" rx="2.8" ry="3.3" fill="#E01E6A"/><ellipse cx="38" cy="244" rx="2.8" ry="3.3" fill="#E01E6A"/><ellipse cx="21" cy="228" rx="2.8" ry="3.3" fill="#E01E6A"/><ellipse cx="24" cy="198" rx="2.8" ry="3.3" fill="#E01E6A"/><ellipse cx="44" cy="193" rx="2.8" ry="3.3" fill="#E01E6A"/><ellipse cx="36" cy="216" rx="2.8" ry="3.3" fill="#E01E6A"/><ellipse cx="62" cy="181" rx="2.8" ry="3.3" fill="#E01E6A"/><ellipse cx="244" cy="80" rx="2.8" ry="3.3" fill="#EE3F2F"/><ellipse cx="245" cy="161" rx="2.8" ry="3.3" fill="#EE3F2F"/><ellipse cx="237" cy="173" rx="2.8" ry="3.3" fill="#EE3F2F"/><ellipse cx="212" cy="60" rx="2.8" ry="3.3" fill="#EE3F2F"/><ellipse cx="210" cy="178" rx="2.8" ry="3.3" fill="#EE3F2F"/><ellipse cx="205" cy="119" rx="2.8" ry="3.3" fill="#EE3F2F"/><ellipse cx="231" cy="124" rx="2.8" ry="3.3" fill="#EE3F2F"/><ellipse cx="247" cy="121" rx="2.8" ry="3.3" fill="#EE3F2F"/><ellipse cx="221" cy="70" rx="2.8" ry="3.3" fill="#EE3F2F"/><ellipse cx="228" cy="159" rx="2.8" ry="3.3" fill="#EE3F2F"/><ellipse cx="222" cy="94" rx="2.8" ry="3.3" fill="#EE3F2F"/><ellipse cx="198" cy="50" rx="2.8" ry="3.3" fill="#EE3F2F"/><ellipse cx="159" cy="17" rx="2.8" ry="3.3" fill="#EE3F2F"/><ellipse cx="138" cy="37" rx="2.8" ry="3.3" fill="#EE3F2F"/><ellipse cx="184" cy="33" rx="2.8" ry="3.3" fill="#EE3F2F"/><ellipse cx="140" cy="116" rx="2.8" ry="3.3" fill="#EE3F2F"/><ellipse cx="178" cy="169" rx="2.8" ry="3.3" fill="#EE3F2F"/><ellipse cx="171" cy="125" rx="2.8" ry="3.3" fill="#2C3CA8"/><ellipse cx="162" cy="139" rx="2.8" ry="3.3" fill="#2C3CA8"/><ellipse cx="152" cy="143" rx="2.8" ry="3.3" fill="#2C3CA8"/></g>
<line x1="341" y1="854.5" x2="752.5" y2="854.5" stroke="#E2E2E2" stroke-width="1.2"/>
<text x="325.0" y="860.0" font-family="'Liberation Sans', Arial, sans-serif" font-size="15.5" font-weight="bold" fill="#595959" text-anchor="end" textLength="9.1" lengthAdjust="spacingAndGlyphs">0</text>
<line x1="341" y1="836.5" x2="752.5" y2="836.5" stroke="#E2E2E2" stroke-width="1.2"/>
<text x="325.0" y="842.0" font-family="'Liberation Sans', Arial, sans-serif" font-size="15.5" font-weight="bold" fill="#595959" text-anchor="end" textLength="18.2" lengthAdjust="spacingAndGlyphs">50</text>
<line x1="341" y1="818.5" x2="752.5" y2="818.5" stroke="#E2E2E2" stroke-width="1.2"/>
<text x="325.0" y="824.0" font-family="'Liberation Sans', Arial, sans-serif" font-size="15.5" font-weight="bold" fill="#595959" text-anchor="end" textLength="27.3" lengthAdjust="spacingAndGlyphs">100</text>
<line x1="341" y1="800.5" x2="752.5" y2="800.5" stroke="#E2E2E2" stroke-width="1.2"/>
<text x="325.0" y="806.0" font-family="'Liberation Sans', Arial, sans-serif" font-size="15.5" font-weight="bold" fill="#595959" text-anchor="end" textLength="27.3" lengthAdjust="spacingAndGlyphs">150</text>
<line x1="341" y1="782.5" x2="752.5" y2="782.5" stroke="#E2E2E2" stroke-width="1.2"/>
<text x="325.0" y="788.0" font-family="'Liberation Sans', Arial, sans-serif" font-size="15.5" font-weight="bold" fill="#595959" text-anchor="end" textLength="27.3" lengthAdjust="spacingAndGlyphs">200</text>
<line x1="341" y1="764.5" x2="752.5" y2="764.5" stroke="#E2E2E2" stroke-width="1.2"/>
<text x="325.0" y="770.0" font-family="'Liberation Sans', Arial, sans-serif" font-size="15.5" font-weight="bold" fill="#595959" text-anchor="end" textLength="27.3" lengthAdjust="spacingAndGlyphs">250</text>
<line x1="341" y1="746.5" x2="752.5" y2="746.5" stroke="#E2E2E2" stroke-width="1.2"/>
<text x="325.0" y="752.0" font-family="'Liberation Sans', Arial, sans-serif" font-size="15.5" font-weight="bold" fill="#595959" text-anchor="end" textLength="27.3" lengthAdjust="spacingAndGlyphs">300</text>
<line x1="341" y1="728.5" x2="752.5" y2="728.5" stroke="#E2E2E2" stroke-width="1.2"/>
<text x="325.0" y="734.0" font-family="'Liberation Sans', Arial, sans-serif" font-size="15.5" font-weight="bold" fill="#595959" text-anchor="end" textLength="27.3" lengthAdjust="spacingAndGlyphs">350</text>
<line x1="341" y1="710.5" x2="752.5" y2="710.5" stroke="#E2E2E2" stroke-width="1.2"/>
<text x="325.0" y="716.0" font-family="'Liberation Sans', Arial, sans-serif" font-size="15.5" font-weight="bold" fill="#595959" text-anchor="end" textLength="27.3" lengthAdjust="spacingAndGlyphs">400</text>
<text x="764.5" y="857.9" font-family="'Liberation Sans', Arial, sans-serif" font-size="10.2" font-weight="bold" fill="#595959" textLength="5.9" lengthAdjust="spacingAndGlyphs">0</text>
<text x="764.5" y="829.2" font-family="'Liberation Sans', Arial, sans-serif" font-size="10.2" font-weight="bold" fill="#595959" textLength="21.0" lengthAdjust="spacingAndGlyphs">0.05</text>
<text x="764.5" y="800.4" font-family="'Liberation Sans', Arial, sans-serif" font-size="10.2" font-weight="bold" fill="#595959" textLength="15.1" lengthAdjust="spacingAndGlyphs">0.1</text>
<text x="764.5" y="771.7" font-family="'Liberation Sans', Arial, sans-serif" font-size="10.2" font-weight="bold" fill="#595959" textLength="21.0" lengthAdjust="spacingAndGlyphs">0.15</text>
<text x="764.5" y="742.9" font-family="'Liberation Sans', Arial, sans-serif" font-size="10.2" font-weight="bold" fill="#595959" textLength="15.1" lengthAdjust="spacingAndGlyphs">0.2</text>
<text x="764.5" y="714.1" font-family="'Liberation Sans', Arial, sans-serif" font-size="10.2" font-weight="bold" fill="#595959" textLength="21.0" lengthAdjust="spacingAndGlyphs">0.25</text>
<rect x="359.3" y="724.2" width="34.0" height="130.3" fill="#5195DA"/>
<rect x="427.9" y="820.7" width="34.0" height="33.8" fill="#5195DA"/>
<rect x="496.4" y="794.7" width="34.0" height="59.8" fill="#5195DA"/>
<rect x="565.0" y="788.3" width="34.0" height="66.2" fill="#5195DA"/>
<rect x="633.6" y="846.6" width="34.0" height="7.9" fill="#5195DA"/>
<rect x="702.1" y="829.7" width="34.0" height="24.8" fill="#5195DA"/>
<polyline points="376.3,724.1 444.9,764.5 513.4,749.4 582.0,752.1 650.6,730.2 719.1,735.5" fill="none" stroke="#ED7D31" stroke-width="2.6" stroke-linejoin="round"/>
<circle cx="376.3" cy="724.1" r="3.2" fill="#ED7D31"/>
<circle cx="444.9" cy="764.5" r="3.2" fill="#ED7D31"/>
<circle cx="513.4" cy="749.4" r="3.2" fill="#ED7D31"/>
<circle cx="582.0" cy="752.1" r="3.2" fill="#ED7D31"/>
<circle cx="650.6" cy="730.2" r="3.2" fill="#ED7D31"/>
<circle cx="719.1" cy="735.5" r="3.2" fill="#ED7D31"/>
<line x1="393" y1="727" x2="410" y2="730" stroke="#B4CCE6" stroke-width="1"/>
<text x="375.9" y="713.6" font-family="'Liberation Sans', Arial, sans-serif" font-size="16" font-weight="bold" fill="#285A80" text-anchor="middle" textLength="26.2" lengthAdjust="spacingAndGlyphs">362</text>
<text x="444.6" y="811.1" font-family="'Liberation Sans', Arial, sans-serif" font-size="16" font-weight="bold" fill="#285A80" text-anchor="middle" textLength="17.5" lengthAdjust="spacingAndGlyphs">94</text>
<text x="513.1" y="785.2" font-family="'Liberation Sans', Arial, sans-serif" font-size="16" font-weight="bold" fill="#285A80" text-anchor="middle" textLength="26.2" lengthAdjust="spacingAndGlyphs">166</text>
<text x="582.0" y="778.6" font-family="'Liberation Sans', Arial, sans-serif" font-size="16" font-weight="bold" fill="#285A80" text-anchor="middle" textLength="26.2" lengthAdjust="spacingAndGlyphs">184</text>
<text x="650.6" y="837.4" font-family="'Liberation Sans', Arial, sans-serif" font-size="16" font-weight="bold" fill="#285A80" text-anchor="middle" textLength="17.5" lengthAdjust="spacingAndGlyphs">22</text>
<text x="719.3" y="819.2" font-family="'Liberation Sans', Arial, sans-serif" font-size="16" font-weight="bold" fill="#285A80" text-anchor="middle" textLength="17.5" lengthAdjust="spacingAndGlyphs">69</text>
<text x="440.0" y="737.7" font-family="'Liberation Sans', Arial, sans-serif" font-size="16" font-weight="bold" fill="#B95F2A" text-anchor="middle" textLength="55.3" lengthAdjust="spacingAndGlyphs">22.63%</text>
<text x="448.0" y="781.2" font-family="'Liberation Sans', Arial, sans-serif" font-size="16" font-weight="bold" fill="#B95F2A" text-anchor="middle" textLength="55.3" lengthAdjust="spacingAndGlyphs">15.61%</text>
<text x="513.4" y="736.7" font-family="'Liberation Sans', Arial, sans-serif" font-size="16" font-weight="bold" fill="#B95F2A" text-anchor="middle" textLength="55.3" lengthAdjust="spacingAndGlyphs">18.24%</text>
<text x="581.9" y="740.2" font-family="'Liberation Sans', Arial, sans-serif" font-size="16" font-weight="bold" fill="#B95F2A" text-anchor="middle" textLength="55.3" lengthAdjust="spacingAndGlyphs">17.76%</text>
<text x="650.0" y="717.7" font-family="'Liberation Sans', Arial, sans-serif" font-size="16" font-weight="bold" fill="#B95F2A" text-anchor="middle" textLength="55.3" lengthAdjust="spacingAndGlyphs">21.57%</text>
<text x="719.0" y="723.3" font-family="'Liberation Sans', Arial, sans-serif" font-size="16" font-weight="bold" fill="#B95F2A" text-anchor="middle" textLength="55.3" lengthAdjust="spacingAndGlyphs">20.66%</text>
<text transform="translate(381.8,878.5) rotate(-45)" text-anchor="end" font-family="'Liberation Sans', Arial, sans-serif" font-weight="bold" fill="#000"><tspan font-size="19.5">F</tspan><tspan font-size="16.6">RONTAL</tspan></text>
<text transform="translate(450.4,878.5) rotate(-45)" text-anchor="end" font-family="'Liberation Sans', Arial, sans-serif" font-weight="bold" fill="#000"><tspan font-size="19.5">T</tspan><tspan font-size="16.6">EMPORAL</tspan></text>
<text transform="translate(518.9,878.5) rotate(-45)" text-anchor="end" font-family="'Liberation Sans', Arial, sans-serif" font-weight="bold" fill="#000"><tspan font-size="19.5">P</tspan><tspan font-size="16.6">ARIETAL</tspan></text>
<text transform="translate(587.5,878.5) rotate(-45)" text-anchor="end" font-family="'Liberation Sans', Arial, sans-serif" font-weight="bold" fill="#000"><tspan font-size="19.5">O</tspan><tspan font-size="16.6">CCIPITAL</tspan></text>
<text transform="translate(656.1,878.5) rotate(-45)" text-anchor="end" font-family="'Liberation Sans', Arial, sans-serif" font-weight="bold" fill="#000"><tspan font-size="19.5">S</tspan><tspan font-size="16.6">UBCORTICAL</tspan></text>
<text transform="translate(724.6,878.5) rotate(-45)" text-anchor="end" font-family="'Liberation Sans', Arial, sans-serif" font-weight="bold" fill="#000"><tspan font-size="19.5">C</tspan><tspan font-size="16.6">EREBELLAR</tspan></text>
<rect x="339.3" y="967" width="40.7" height="18.5" fill="#5195DA"/>
<text x="394.5" y="984.3" font-family="'Liberation Sans', Arial, sans-serif" font-size="20" fill="#262626" textLength="190.5" lengthAdjust="spacingAndGlyphs">Connected Number</text>
<line x1="608" y1="977" x2="661.3" y2="977" stroke="#ED7D31" stroke-width="3"/>
<circle cx="634.6" cy="977" r="5" fill="#ED7D31"/>
<text x="675.0" y="984.3" font-family="'Liberation Sans', Arial, sans-serif" font-size="20" fill="#262626" textLength="101.0" lengthAdjust="spacingAndGlyphs">Proportion</text>
<text x="1165.0" y="540.5" font-family="'Liberation Sans', Arial, sans-serif" font-size="26.3" font-weight="bold" fill="#000" text-anchor="middle" textLength="92.5" lengthAdjust="spacingAndGlyphs">Global</text>
<text x="920.0" y="570.0" font-family="'Liberation Serif', 'Times New Roman', serif" font-size="14" font-weight="bold" fill="#000">L</text>
<text x="1090.0" y="567.5" font-family="'Liberation Serif', 'Times New Roman', serif" font-size="14" font-weight="bold" fill="#000">T</text>
<text x="1253.7" y="567.7" font-family="'Liberation Serif', 'Times New Roman', serif" font-size="14" font-weight="bold" fill="#000">R</text>
<g transform="translate(937.5,560.0) scale(0.6052,0.5040)" fill="none" stroke-linecap="round"><path d="M28 68L179 14M8 81L134 131M8 81L123 179M15 173L160 145M38 63L160 145M28 68L71 220M24 158L73 179M24 158L134 131M30 94L71 220M50 52L175 188M43 118L192 182M8 81L86 137M5 159L98 145M19 125L98 145M5 119L80 126M28 68L86 137M24 158L80 126M50 52L80 126M15 173L212 111M38 63L113 12M50 52L127 32M90 16L142 2M90 16L172 96M90 16L156 24M90 16L198 62M90 16L164 67M113 36L172 96M113 36L133 48M113 36L198 62M113 36L164 67M69 34L142 2M69 34L189 52M90 16L113 12M90 16L221 52M90 16L212 111M113 36L113 12M113 36L230 75M113 36L212 111M113 36L225 148M113 36L127 32M69 34L113 12M69 34L212 111M110 116L207 16M110 116L133 48M69 166L164 67M110 116L123 179M69 166L73 179M110 116L209 248M69 166L225 198M110 116L98 145M69 166L98 145M110 116L113 12M110 116L230 75M110 116L150 89M110 116L225 148M142 2L233 150M207 16L247 84M207 16L244 160M207 16L236 99M172 96L247 136M172 96L244 160M172 96L236 99M172 96L233 150M156 24L248 112M156 24L247 136M156 24L244 160M156 24L236 99M198 62L247 84M198 62L247 136M164 67L247 84M164 67L248 112M164 67L247 136M164 67L236 99M179 14L247 136M179 14L233 150M207 16L160 145M189 52L175 188M189 52L160 145M156 24L123 179M198 62L134 131M164 67L123 179M179 14L71 220M179 14L160 145M133 48L232 227M198 62L215 215M156 24L86 137M142 2L113 12M142 2L221 52M142 2L212 111M142 2L150 89M142 2L188 137M207 16L113 12M207 16L230 75M207 16L212 111M207 16L150 89M207 16L188 137M172 96L221 52M172 96L230 75M172 96L212 111M172 96L150 89M172 96L225 148M172 96L127 32M133 48L221 52M133 48L230 75M133 48L150 89M133 48L225 148M133 48L127 32M189 52L113 12M189 52L221 52M189 52L230 75M189 52L212 111M189 52L150 89M189 52L188 137M156 24L113 12M156 24L127 32M198 62L221 52M198 62L230 75M198 62L150 89M198 62L225 148M198 62L188 137M198 62L127 32M164 67L113 12M164 67L221 52M164 67L230 75M164 67L212 111M164 67L150 89M164 67L225 148M164 67L188 137M164 67L127 32M179 14L230 75M179 14L212 111M179 14L150 89M179 14L188 137M179 14L127 32M247 84L123 179M236 99L71 220M236 99L160 145M233 150L71 220M247 84L225 198M247 84L201 189M248 112L192 182M247 136L201 189M244 160L232 227M244 160L215 215M244 160L192 182M236 99L232 227M236 99L225 198M236 99L201 189M236 99L192 182M233 150L232 227M233 150L201 189M247 84L221 52M247 84L230 75M247 84L212 111M247 84L150 89M248 112L212 111M248 112L225 148M247 136L221 52M247 136L230 75M247 136L212 111M247 136L188 137M244 160L230 75M244 160L212 111M244 160L150 89M236 99L221 52M236 99L230 75M236 99L212 111M236 99L150 89M236 99L225 148M233 150L230 75M233 150L225 148M233 150L188 137M73 179L232 227M73 179L225 198M175 188L209 248M175 188L192 182M134 131L185 243M134 131L192 182M123 179L201 189M73 179L98 145M175 188L86 137M160 145L86 137M160 145L98 145M123 179L80 126M73 179L188 137M71 220L230 75M71 220L212 111M71 220L188 137M175 188L150 89M175 188L225 148M175 188L127 32M134 131L221 52M134 131L212 111M134 131L150 89M134 131L127 32M160 145L150 89M160 145L225 148M160 145L188 137M123 179L230 75M123 179L150 89M123 179L225 148M123 179L188 137M209 248L225 148M209 248L188 137M232 227L221 52M232 227L230 75M232 227L150 89M232 227L225 148M225 198L225 148M201 189L212 111M201 189L225 148M201 189L188 137M215 215L113 12M192 182L113 12M192 182L212 111M192 182L225 148M192 182L188 137M192 182L127 32M86 137L150 89M113 12L225 148M113 12L127 32M221 52L230 75M221 52L212 111M221 52L188 137M230 75L212 111M230 75L225 148M212 111L150 89M212 111L225 148M212 111L188 137M212 111L127 32M150 89L225 148M150 89L188 137M225 148L188 137" stroke="#8B8B8B" stroke-width="1.45" vector-effect="non-scaling-stroke"/><path d="M73 179L71 220M73 179L175 188M73 179L134 131M73 179L160 145M73 179L123 179M71 220L175 188M71 220L134 131M71 220L160 145M71 220L123 179M175 188L134 131M175 188L160 145M175 188L123 179M134 131L160 145M134 131L123 179M160 145L123 179" stroke="#EFC21C" stroke-width="1.80" vector-effect="non-scaling-stroke"/><path d="M142 2L189 52M142 2L179 14M207 16L172 96M207 16L189 52M207 16L156 24M207 16L164 67M207 16L179 14M172 96L133 48M172 96L189 52M172 96L164 67M172 96L179 14M133 48L189 52M133 48L156 24M133 48L164 67M133 48L179 14M189 52L156 24M189 52L198 62M189 52L179 14M156 24L179 14M198 62L164 67M198 62L179 14" stroke="#8DC441" stroke-width="1.80" vector-effect="non-scaling-stroke"/><path d="M247 84L248 112M247 84L247 136M247 84L244 160M247 84L236 99M247 84L233 150M248 112L247 136M248 112L236 99M248 112L233 150M247 136L244 160M247 136L233 150M244 160L233 150M236 99L233 150" stroke="#1EB3CE" stroke-width="2.20" vector-effect="non-scaling-stroke"/><path d="M185 243L201 245M185 243L209 248M185 243L232 227M185 243L201 189M185 243L215 215M185 243L192 182M201 245L209 248M201 245L232 227M201 245L225 198M201 245L201 189M201 245L215 215M201 245L192 182M209 248L232 227M209 248L225 198M209 248L215 215M209 248L192 182M232 227L225 198M232 227L201 189M232 227L215 215M225 198L201 189M225 198L215 215M201 189L215 215M201 189L192 182M215 215L192 182" stroke="#E01E6A" stroke-width="1.70" vector-effect="non-scaling-stroke"/><path d="M8 81L5 159M8 81L15 173M8 81L38 63M8 81L43 118M8 81L5 119M8 81L28 68M8 81L24 158M8 81L30 94M8 81L50 52M5 159L43 180M5 159L43 118M5 159L5 119M5 159L28 68M5 159L24 158M5 159L30 94M5 159L50 52M15 173L38 63M15 173L43 180M15 173L43 118M15 173L19 125M15 173L5 119M15 173L28 68M15 173L24 158M15 173L30 94M15 173L50 52M38 63L43 180M38 63L43 118M38 63L19 125M38 63L28 68M38 63L50 52M43 180L43 118M43 180L19 125M43 180L5 119M43 180L28 68M43 180L24 158M43 180L30 94M43 180L50 52M43 118L19 125M43 118L5 119M43 118L28 68M43 118L24 158M43 118L30 94M43 118L50 52M19 125L5 119M19 125L28 68M19 125L24 158M19 125L50 52M5 119L24 158M5 119L30 94M5 119L50 52M28 68L30 94M28 68L50 52M30 94L50 52M8 81L90 16M8 81L69 34M15 173L113 36M38 63L113 36M38 63L69 34M43 118L90 16M19 125L90 16M19 125L113 36M5 119L90 16M5 119L113 36M28 68L113 36M24 158L113 36M30 94L113 36M30 94L69 34M50 52L69 34M24 158L110 116M90 16L113 36M90 16L69 34M113 36L69 34M69 34L69 166" stroke="#EE3F2F" stroke-width="2.00" vector-effect="non-scaling-stroke"/><path d="M80 126L86 137M80 126L98 145M86 137L98 145" stroke="#2C3CA8" stroke-width="1.80" vector-effect="non-scaling-stroke"/><ellipse cx="73" cy="179" rx="2.6" ry="3.2" fill="#EFC21C"/><ellipse cx="71" cy="220" rx="2.6" ry="3.2" fill="#EFC21C"/><ellipse cx="175" cy="188" rx="2.6" ry="3.2" fill="#EFC21C"/><ellipse cx="134" cy="131" rx="2.6" ry="3.2" fill="#EFC21C"/><ellipse cx="160" cy="145" rx="2.6" ry="3.2" fill="#EFC21C"/><ellipse cx="123" cy="179" rx="2.6" ry="3.2" fill="#EFC21C"/><ellipse cx="142" cy="2" rx="2.6" ry="3.2" fill="#8DC441"/><ellipse cx="207" cy="16" rx="2.6" ry="3.2" fill="#8DC441"/><ellipse cx="172" cy="96" rx="2.6" ry="3.2" fill="#8DC441"/><ellipse cx="133" cy="48" rx="2.6" ry="3.2" fill="#8DC441"/><ellipse cx="189" cy="52" rx="2.6" ry="3.2" fill="#8DC441"/><ellipse cx="156" cy="24" rx="2.6" ry="3.2" fill="#8DC441"/><ellipse cx="198" cy="62" rx="2.6" ry="3.2" fill="#8DC441"/><ellipse cx="164" cy="67" rx="2.6" ry="3.2" fill="#8DC441"/><ellipse cx="179" cy="14" rx="2.6" ry="3.2" fill="#8DC441"/><ellipse cx="247" cy="84" rx="2.6" ry="3.2" fill="#1EB3CE"/><ellipse cx="248" cy="112" rx="2.6" ry="3.2" fill="#1EB3CE"/><ellipse cx="247" cy="136" rx="2.6" ry="3.2" fill="#1EB3CE"/><ellipse cx="244" cy="160" rx="2.6" ry="3.2" fill="#1EB3CE"/><ellipse cx="236" cy="99" rx="2.6" ry="3.2" fill="#1EB3CE"/><ellipse cx="233" cy="150" rx="2.6" ry="3.2" fill="#1EB3CE"/><ellipse cx="185" cy="243" rx="2.6" ry="3.2" fill="#E01E6A"/><ellipse cx="201" cy="245" rx="2.6" ry="3.2" fill="#E01E6A"/><ellipse cx="209" cy="248" rx="2.6" ry="3.2" fill="#E01E6A"/><ellipse cx="232" cy="227" rx="2.6" ry="3.2" fill="#E01E6A"/><ellipse cx="225" cy="198" rx="2.6" ry="3.2" fill="#E01E6A"/><ellipse cx="201" cy="189" rx="2.6" ry="3.2" fill="#E01E6A"/><ellipse cx="215" cy="215" rx="2.6" ry="3.2" fill="#E01E6A"/><ellipse cx="192" cy="182" rx="2.6" ry="3.2" fill="#E01E6A"/><ellipse cx="8" cy="81" rx="2.6" ry="3.2" fill="#EE3F2F"/><ellipse cx="5" cy="159" rx="2.6" ry="3.2" fill="#EE3F2F"/><ellipse cx="15" cy="173" rx="2.6" ry="3.2" fill="#EE3F2F"/><ellipse cx="38" cy="63" rx="2.6" ry="3.2" fill="#EE3F2F"/><ellipse cx="43" cy="180" rx="2.6" ry="3.2" fill="#EE3F2F"/><ellipse cx="43" cy="118" rx="2.6" ry="3.2" fill="#EE3F2F"/><ellipse cx="19" cy="125" rx="2.6" ry="3.2" fill="#EE3F2F"/><ellipse cx="5" cy="119" rx="2.6" ry="3.2" fill="#EE3F2F"/><ellipse cx="28" cy="68" rx="2.6" ry="3.2" fill="#EE3F2F"/><ellipse cx="24" cy="158" rx="2.6" ry="3.2" fill="#EE3F2F"/><ellipse cx="30" cy="94" rx="2.6" ry="3.2" fill="#EE3F2F"/><ellipse cx="50" cy="52" rx="2.6" ry="3.2" fill="#EE3F2F"/><ellipse cx="90" cy="16" rx="2.6" ry="3.2" fill="#EE3F2F"/><ellipse cx="113" cy="36" rx="2.6" ry="3.2" fill="#EE3F2F"/><ellipse cx="69" cy="34" rx="2.6" ry="3.2" fill="#EE3F2F"/><ellipse cx="110" cy="116" rx="2.6" ry="3.2" fill="#EE3F2F"/><ellipse cx="69" cy="166" rx="2.6" ry="3.2" fill="#EE3F2F"/><ellipse cx="80" cy="126" rx="2.6" ry="3.2" fill="#2C3CA8"/><ellipse cx="86" cy="137" rx="2.6" ry="3.2" fill="#2C3CA8"/><ellipse cx="98" cy="145" rx="2.6" ry="3.2" fill="#2C3CA8"/></g>
<g transform="translate(1107.5,552.5) scale(0.5052,0.5800)" fill="none" stroke-linecap="round"><path d="M125 42L48 88M125 42L202 88M125 42L80 98M125 42L170 98M18 75L48 88M232 75L202 88M50 70L170 98M200 70L80 98M40 110L202 88M210 110L47 88M88 75L48 88M162 75L202 88M75 108L80 98M175 108L170 98M175 108L48 88M75 108L202 88M22 45L210 70M228 45L40 70M75 45L55 146M175 45L195 146M20 115L15 148M230 115L235 148M88 75L15 148M162 75L235 148M88 75L30 130M162 75L220 130M125 100L40 70M125 100L210 70M52 8L80 136M198 8L170 136M198 8L2 155M52 8L248 155M22 45L68 200M228 45L182 200M50 70L112 120M200 70L138 120M20 115L88 158M230 115L162 158M40 110L175 125M210 110L75 125M88 75L75 125M162 75L175 125M75 108L2 155M175 108L248 155M52 8L167 165M198 8L83 165M52 8L150 220M198 8L100 220M167 12L20 175M83 12L230 175M22 45L200 150M228 45L50 150M20 115L50 150M230 115L200 150M40 110L55 175M210 110L195 175M162 75L25 210M88 75L225 210M125 100L100 150M125 100L150 150M125 100L112 215M125 100L138 215M75 108L150 220M175 108L100 220M75 108L50 150M175 108L200 150M18 75L145 235M232 75L105 235M40 110L88 248M210 110L162 248M48 88L8 134M202 88L242 134M48 88L15 148M202 88L235 148M48 88L30 130M202 88L220 130M80 98L8 134M170 98L242 134M80 98L95 150M170 98L155 150M65 92L138 120M185 92L112 120M80 98L28 136M170 98L222 136M80 98L88 158M170 98L162 158M65 92L125 75M185 92L125 75M65 92L125 208M185 92L125 208M65 92L50 150M185 92L200 150M185 92L50 150M65 92L200 150M185 92L20 175M65 92L230 175M80 98L25 210M170 98L225 210M80 98L100 220M170 98L150 220M170 98L65 240M80 98L185 240M8 134L28 136M242 134L222 136M8 134L170 136M242 134L80 136M8 134L38 162M242 134L212 162M8 134L30 188M242 134L220 188M15 148L2 155M235 148L248 155M15 148L28 136M235 148L222 136M15 148L80 136M235 148L170 136M15 148L88 158M235 148L162 158M15 148L125 165M235 148L125 165M40 70L75 125M210 70L175 125M40 70L175 125M210 70L75 125M40 70L170 136M210 70L80 136M30 130L80 136M220 130L170 136M55 146L68 200M195 146L182 200M95 150L138 120M155 150L112 120M95 150L125 138M155 150L125 138M95 150L88 158M155 150L162 158M95 150L125 165M155 150L125 165M40 70L82 165M210 70L167 165M30 130L200 200M220 130L50 200M8 134L75 225M242 134L175 225M8 134L150 150M242 134L100 150M8 134L55 175M242 134L195 175M8 134L100 220M242 134L150 220M8 134L150 220M242 134L100 220M8 134L50 150M242 134L200 150M8 134L20 175M242 134L230 175M15 148L138 215M235 148L112 215M40 70L112 215M210 70L138 215M210 70L25 210M40 70L225 210M30 130L88 205M220 130L162 205M55 146L125 225M195 146L125 225M55 146L100 150M195 146L150 150M55 146L25 210M195 146L225 210M55 146L100 220M195 146L150 220M95 150L125 225M155 150L125 225M95 150L100 150M155 150L150 150M95 150L125 208M155 150L125 208M95 150L100 220M155 150L150 220M75 125L42 218M175 125L208 218M75 125L167 165M175 125L83 165M138 120L32 208M112 120L218 208M2 155L208 218M248 155L43 218M2 155L218 208M248 155L32 208M2 155L98 175M248 155L152 175M2 155L152 175M248 155L98 175M2 155L82 165M248 155L167 165M28 136L32 208M222 136L218 208M28 136L218 208M222 136L32 208M80 136L42 218M170 136L208 218M80 136L82 165M170 136L167 165M125 138L98 175M125 138L152 175M38 162L200 200M212 162L50 200M88 158L60 212M162 158L190 212M88 158L152 175M162 158L98 175M162 158L42 218M88 158L208 218M162 158L60 212M88 158L190 212M125 165L98 175M125 165L152 175M68 200L60 212M182 200L190 212M68 200L50 200M182 200L200 200M68 200L98 175M182 200L152 175M68 200L152 175M182 200L98 175M105 200L60 212M145 200L190 212M145 200L42 218M105 200L208 218M145 200L82 165M105 200L167 165M30 188L42 218M220 188L208 218M30 188L50 200M220 188L200 200M30 188L98 175M220 188L152 175M30 188L82 165M220 188L167 165M30 188L167 165M220 188L83 165M75 125L100 150M175 125L150 150M75 125L25 210M175 125L225 210M112 120L55 175M138 120L195 175M112 120L88 205M138 120L162 205M138 120L100 220M112 120L150 220M2 155L75 225M248 155L175 225M2 155L55 175M248 155L195 175M2 155L138 215M248 155L112 215M2 155L20 175M248 155L230 175M222 136L20 175M27 136L230 175M170 136L55 175M80 136L195 175M125 138L75 225M125 138L175 225M125 138L112 215M125 138L138 215M38 162L125 225M212 162L125 225M38 162L150 150M212 162L100 150M38 162L55 175M212 162L195 175M38 162L25 210M212 162L225 210M38 162L62 218M212 162L188 218M38 162L50 150M212 162L200 150M88 158L150 150M162 158L100 150M88 158L88 205M162 158L162 205M88 158L50 150M162 158L200 150M125 165L55 175M125 165L195 175M125 165L125 75M125 165L125 75M68 200L100 150M182 200L150 150M68 200L150 220M182 200L100 220M105 200L100 150M145 200L150 150M105 200L62 218M145 200L188 218M145 200L100 150M105 200L150 150M145 200L25 210M105 200L225 210M145 200L88 205M105 200L162 205M145 200L100 220M105 200L150 220M30 188L55 175M220 188L195 175M30 188L138 215M220 188L112 215M30 188L100 220M220 188L150 220M30 188L150 220M220 188L100 220M112 120L125 242M138 120L125 242M28 136L125 242M222 136L125 242M80 136L125 242M170 136L125 242M88 158L145 235M162 158L105 235M125 165L125 242M125 165L125 242M68 200L162 248M182 200L88 248M68 200L145 235M182 200L105 235M105 200L105 235M145 200L145 235M145 200L105 235M105 200L145 235M30 188L88 248M220 188L162 248M30 188L125 242M220 188L125 242M42 218L75 225M208 218L175 225M42 218L125 225M208 218L125 225M42 218L100 150M208 218L150 150M42 218L55 175M208 218L195 175M42 218L125 75M208 218L125 75M42 218L100 220M208 218L150 220M60 212L75 225M190 212L175 225M60 212L125 225M190 212L125 225M60 212L150 150M190 212L100 150M60 212L55 175M190 212L195 175M60 212L162 205M190 212L88 205M60 212L150 220M190 212L100 220M60 212L62 218M190 212L188 218M60 212L50 150M190 212L200 150M50 200L55 175M200 200L195 175M50 200L88 205M200 200L162 205M50 200L125 208M200 200L125 208M50 200L150 220M200 200L100 220M50 200L62 218M200 200L188 218M200 200L25 210M50 200L225 210M200 200L50 150M50 200L200 150M200 200L20 175M50 200L230 175M32 208L125 225M218 208L125 225M32 208L100 150M218 208L150 150M32 208L150 150M218 208L100 150M32 208L112 215M218 208L138 215M32 208L25 210M218 208L225 210M32 208L150 220M218 208L100 220M32 208L50 150M218 208L200 150M32 208L20 175M218 208L230 175M98 175L112 215M152 175L138 215M98 175L100 220M152 175L150 220M98 175L62 218M152 175L188 218M98 175L50 150M152 175L200 150M152 175L75 225M98 175L175 225M152 175L88 205M98 175L162 205M152 175L62 218M98 175L188 218M152 175L20 175M98 175L230 175M82 165L88 205M167 165L162 205M82 165L162 205M167 165L88 205M82 165L150 220M167 165L100 220M42 218L105 235M208 218L145 235M60 212L42 238M190 212L208 238M60 212L88 248M190 212L162 248M60 212L65 240M190 212L185 240M50 200L125 242M200 200L125 242M50 200L105 235M200 200L145 235M32 208L88 248M218 208L162 248M32 208L105 235M218 208L145 235M98 175L88 248M152 175L162 248M98 175L65 240M152 175L185 240M82 165L42 238M167 165L208 238M82 165L125 242M167 165L125 242M82 165L105 235M167 165L145 235M167 165L65 240M83 165L185 240M75 225L125 225M175 225L125 225M75 225L88 205M175 225L162 205M175 225L25 210M75 225L225 210M125 225L55 175M125 225L195 175M125 225L112 215M125 225L138 215M125 225L100 220M125 225L150 220M125 225L20 175M125 225L230 175M100 150L55 175M150 150L195 175M100 150L88 205M150 150L162 205M100 150L125 208M150 150L125 208M100 150L50 150M150 150L200 150M55 175L138 215M195 175L112 215M55 175L125 75M195 175L125 75M55 175L88 205M195 175L162 205M195 175L20 175M55 175L230 175M112 215L138 215M138 215L112 215M112 215L88 205M138 215L162 205M112 215L100 220M138 215L150 220M138 215L62 218M112 215L188 218M138 215L20 175M112 215L230 175M25 210L100 220M225 210L150 220M25 210L62 218M225 210L188 218M125 75L125 208M125 75L125 208M125 75L62 218M125 75L188 218M88 205L100 220M162 205L150 220M88 205L20 175M162 205L230 175M162 205L62 218M88 205L188 218M162 205L20 175M88 205L230 175M100 220L62 218M150 220L188 218M100 220L50 150M150 220L200 150M150 220L50 150M100 220L200 150M75 225L42 238M175 225L208 238M75 225L125 242M175 225L125 242M75 225L105 235M175 225L145 235M75 225L145 235M175 225L105 235M75 225L65 240M175 225L185 240M175 225L42 238M75 225L208 238M125 225L88 248M125 225L162 248M125 225L125 242M125 225L125 242M125 225L105 235M125 225L145 235M100 150L88 248M150 150L162 248M100 150L105 235M150 150L145 235M100 150L145 235M150 150L105 235M100 150L65 240M150 150L185 240M150 150L88 248M100 150L162 248M55 175L42 238M195 175L208 238M55 175L162 248M195 175L88 248M112 215L88 248M138 215L162 248M112 215L125 242M138 215L125 242M112 215L105 235M138 215L145 235M112 215L65 240M138 215L185 240M138 215L42 238M112 215L208 238M138 215L88 248M112 215L162 248M138 215L105 235M112 215L145 235M138 215L65 240M112 215L185 240M25 210L42 238M225 210L208 238M25 210L145 235M225 210L105 235M25 210L65 240M225 210L185 240M125 75L65 240M125 75L185 240M88 205L42 238M162 205L208 238M88 205L125 242M162 205L125 242M88 205L105 235M162 205L145 235M88 205L65 240M162 205L185 240M162 205L42 238M88 205L208 238M125 208L65 240M125 208L185 240M100 220L88 248M150 220L162 248M100 220L125 242M150 220L125 242M100 220L105 235M150 220L145 235M100 220L145 235M150 220L105 235M100 220L65 240M150 220L185 240M150 220L42 238M100 220L208 238M150 220L88 248M100 220L162 248M62 218L42 238M188 218L208 238M62 218L88 248M188 218L162 248M62 218L162 248M188 218L88 248M62 218L65 240M188 218L185 240M188 218L42 238M62 218L208 238M50 150L42 238M200 150L208 238M50 150L88 248M200 150L162 248M50 150L125 242M200 150L125 242M200 150L42 238M50 150L208 238M20 175L42 238M230 175L208 238M20 175L105 235M230 175L145 235M20 115L8 134M230 115L242 134M30 188L42 218M220 188L208 218M42 218L42 238M208 218L208 238M2 155L42 238M248 155L208 238" stroke="#8B8B8B" stroke-width="1.09" vector-effect="non-scaling-stroke"/><path d="M8 134L55 146M242 134L195 146M15 148L40 70M235 148L210 70M15 148L30 130M235 148L220 130M15 148L55 146M235 148L195 146M8 134L2 155M242 134L248 155" stroke="#EFC21C" stroke-width="1.80" vector-effect="non-scaling-stroke"/><path d="M75 125L138 120M175 125L112 120M75 125L2 155M175 125L248 155M75 125L28 136M175 125L222 136M75 125L38 162M175 125L212 162M75 125L162 158M175 125L88 158M75 125L125 165M175 125L125 165M175 125L38 162M75 125L212 162M112 120L138 120M138 120L112 120M112 120L88 158M138 120L162 158M2 155L88 158M248 155L162 158M2 155L162 158M248 155L88 158M2 155L30 188M248 155L220 188M2 155L220 188M248 155L30 188M28 136L88 158M222 136L162 158M28 136L30 188M222 136L220 188M80 136L38 162M170 136L212 162M80 136L125 165M170 136L125 165M80 136L145 200M170 136L105 200M80 136L30 188M170 136L220 188M170 136L38 162M80 136L212 162M170 136L68 200M80 136L182 200M125 138L125 165M125 138L125 165M38 162L212 162M212 162L38 162M38 162L162 158M212 162L88 158M38 162L30 188M212 162L220 188M212 162L30 188M38 162L220 188M88 158L145 200M162 158L105 200M88 158L30 188M162 158L220 188M162 158L68 200M88 158L182 200M125 165L68 200M125 165L182 200M125 165L30 188M125 165L220 188M68 200L145 200M182 200L105 200M2 155L30 188M248 155L220 188M28 136L222 136M222 136L27 136M2 155L248 155M248 155L3 155M68 200L182 200M182 200L68 200" stroke="#8DC441" stroke-width="1.35" vector-effect="non-scaling-stroke"/><path d="M42 238L208 238M208 238L43 238M42 238L162 248M208 238L88 248M42 238L65 240M208 238L185 240M42 238L185 240M208 238L65 240M88 248L162 248M162 248L88 248M88 248L105 235M162 248L145 235M88 248L65 240M162 248L185 240M125 242L105 235M125 242L145 235M125 242L65 240M125 242L185 240M105 235L145 235M145 235L105 235M105 235L65 240M145 235L185 240M145 235L65 240M105 235L185 240M42 238L125 242M208 238L125 242" stroke="#1EB3CE" stroke-width="2.20" vector-effect="non-scaling-stroke"/><path d="M42 218L60 212M208 218L190 212M42 218L32 208M208 218L218 208M60 212L50 200M190 212L200 200M50 200L82 165M200 200L167 165" stroke="#E01E6A" stroke-width="1.70" vector-effect="non-scaling-stroke"/><path d="M52 8L22 45M198 8L228 45M52 8L125 100M198 8L125 100M112 0L138 0M138 0L112 0M112 0L22 45M138 0L228 45M112 0L125 42M138 0L125 42M112 0L125 100M138 0L125 100M138 0L22 45M112 0L228 45M138 0L50 70M112 0L200 70M82 12L22 45M167 12L228 45M82 12L88 75M167 12L162 75M82 12L162 75M167 12L88 75M167 12L22 45M83 12L228 45M22 45L175 45M228 45L75 45M22 45L50 70M228 45L200 70M22 45L40 110M228 45L210 110M22 45L75 108M228 45L175 108M22 45L175 108M228 45L75 108M75 45L125 42M175 45L125 42M75 45L162 75M175 45L88 75M75 45L125 100M175 45L125 100M175 45L75 108M75 45L175 108M125 42L40 110M125 42L210 110M125 42L88 75M125 42L162 75M18 75L50 70M232 75L200 70M18 75L162 75M232 75L88 75M50 70L40 110M200 70L210 110M50 70L162 75M200 70L88 75M50 70L75 108M200 70L175 108M200 70L20 115M50 70L230 115M20 115L40 110M230 115L210 110M20 115L210 110M230 115L40 110M20 115L88 75M230 115L162 75M88 75L162 75M162 75L88 75M125 100L75 108M125 100L175 108M52 8L112 0M198 8L138 0M112 0L138 0M138 0L112 0M52 8L22 45M198 8L228 45M22 45L18 75M228 45L232 75M18 75L20 115M232 75L230 115M22 45L228 45M228 45L22 45M18 75L232 75M232 75L17 75M20 115L230 115M230 115L20 115M52 8L50 70M198 8L200 70M82 12L88 75M167 12L162 75M112 0L125 100M138 0L125 100M52 8L125 100M198 8L125 100" stroke="#EE3F2F" stroke-width="1.60" vector-effect="non-scaling-stroke"/><path d="M48 88L65 92M202 88L185 92M48 88L80 98M202 88L170 98M65 92L80 98M185 92L170 98" stroke="#2C3CA8" stroke-width="1.80" vector-effect="non-scaling-stroke"/><ellipse cx="8" cy="134" rx="3.2" ry="2.8" fill="#EFC21C"/><ellipse cx="242" cy="134" rx="3.2" ry="2.8" fill="#EFC21C"/><ellipse cx="15" cy="148" rx="3.2" ry="2.8" fill="#EFC21C"/><ellipse cx="235" cy="148" rx="3.2" ry="2.8" fill="#EFC21C"/><ellipse cx="40" cy="70" rx="3.2" ry="2.8" fill="#EFC21C"/><ellipse cx="210" cy="70" rx="3.2" ry="2.8" fill="#EFC21C"/><ellipse cx="30" cy="130" rx="3.2" ry="2.8" fill="#EFC21C"/><ellipse cx="220" cy="130" rx="3.2" ry="2.8" fill="#EFC21C"/><ellipse cx="55" cy="146" rx="3.2" ry="2.8" fill="#EFC21C"/><ellipse cx="195" cy="146" rx="3.2" ry="2.8" fill="#EFC21C"/><ellipse cx="95" cy="150" rx="3.2" ry="2.8" fill="#EFC21C"/><ellipse cx="155" cy="150" rx="3.2" ry="2.8" fill="#EFC21C"/><ellipse cx="75" cy="125" rx="3.2" ry="2.8" fill="#8DC441"/><ellipse cx="175" cy="125" rx="3.2" ry="2.8" fill="#8DC441"/><ellipse cx="112" cy="120" rx="3.2" ry="2.8" fill="#8DC441"/><ellipse cx="138" cy="120" rx="3.2" ry="2.8" fill="#8DC441"/><ellipse cx="2" cy="155" rx="3.2" ry="2.8" fill="#8DC441"/><ellipse cx="248" cy="155" rx="3.2" ry="2.8" fill="#8DC441"/><ellipse cx="28" cy="136" rx="3.2" ry="2.8" fill="#8DC441"/><ellipse cx="222" cy="136" rx="3.2" ry="2.8" fill="#8DC441"/><ellipse cx="80" cy="136" rx="3.2" ry="2.8" fill="#8DC441"/><ellipse cx="170" cy="136" rx="3.2" ry="2.8" fill="#8DC441"/><ellipse cx="125" cy="138" rx="3.2" ry="2.8" fill="#8DC441"/><ellipse cx="38" cy="162" rx="3.2" ry="2.8" fill="#8DC441"/><ellipse cx="212" cy="162" rx="3.2" ry="2.8" fill="#8DC441"/><ellipse cx="88" cy="158" rx="3.2" ry="2.8" fill="#8DC441"/><ellipse cx="162" cy="158" rx="3.2" ry="2.8" fill="#8DC441"/><ellipse cx="125" cy="165" rx="3.2" ry="2.8" fill="#8DC441"/><ellipse cx="68" cy="200" rx="3.2" ry="2.8" fill="#8DC441"/><ellipse cx="182" cy="200" rx="3.2" ry="2.8" fill="#8DC441"/><ellipse cx="105" cy="200" rx="3.2" ry="2.8" fill="#8DC441"/><ellipse cx="145" cy="200" rx="3.2" ry="2.8" fill="#8DC441"/><ellipse cx="30" cy="188" rx="3.2" ry="2.8" fill="#8DC441"/><ellipse cx="220" cy="188" rx="3.2" ry="2.8" fill="#8DC441"/><ellipse cx="42" cy="238" rx="3.2" ry="2.8" fill="#1EB3CE"/><ellipse cx="208" cy="238" rx="3.2" ry="2.8" fill="#1EB3CE"/><ellipse cx="88" cy="248" rx="3.2" ry="2.8" fill="#1EB3CE"/><ellipse cx="162" cy="248" rx="3.2" ry="2.8" fill="#1EB3CE"/><ellipse cx="125" cy="242" rx="3.2" ry="2.8" fill="#1EB3CE"/><ellipse cx="105" cy="235" rx="3.2" ry="2.8" fill="#1EB3CE"/><ellipse cx="145" cy="235" rx="3.2" ry="2.8" fill="#1EB3CE"/><ellipse cx="65" cy="240" rx="3.2" ry="2.8" fill="#1EB3CE"/><ellipse cx="185" cy="240" rx="3.2" ry="2.8" fill="#1EB3CE"/><ellipse cx="42" cy="218" rx="3.2" ry="2.8" fill="#E01E6A"/><ellipse cx="208" cy="218" rx="3.2" ry="2.8" fill="#E01E6A"/><ellipse cx="60" cy="212" rx="3.2" ry="2.8" fill="#E01E6A"/><ellipse cx="190" cy="212" rx="3.2" ry="2.8" fill="#E01E6A"/><ellipse cx="50" cy="200" rx="3.2" ry="2.8" fill="#E01E6A"/><ellipse cx="200" cy="200" rx="3.2" ry="2.8" fill="#E01E6A"/><ellipse cx="32" cy="208" rx="3.2" ry="2.8" fill="#E01E6A"/><ellipse cx="218" cy="208" rx="3.2" ry="2.8" fill="#E01E6A"/><ellipse cx="98" cy="175" rx="3.2" ry="2.8" fill="#E01E6A"/><ellipse cx="152" cy="175" rx="3.2" ry="2.8" fill="#E01E6A"/><ellipse cx="82" cy="165" rx="3.2" ry="2.8" fill="#E01E6A"/><ellipse cx="167" cy="165" rx="3.2" ry="2.8" fill="#E01E6A"/><ellipse cx="52" cy="8" rx="3.2" ry="2.8" fill="#EE3F2F"/><ellipse cx="198" cy="8" rx="3.2" ry="2.8" fill="#EE3F2F"/><ellipse cx="112" cy="0" rx="3.2" ry="2.8" fill="#EE3F2F"/><ellipse cx="138" cy="0" rx="3.2" ry="2.8" fill="#EE3F2F"/><ellipse cx="82" cy="12" rx="3.2" ry="2.8" fill="#EE3F2F"/><ellipse cx="167" cy="12" rx="3.2" ry="2.8" fill="#EE3F2F"/><ellipse cx="22" cy="45" rx="3.2" ry="2.8" fill="#EE3F2F"/><ellipse cx="228" cy="45" rx="3.2" ry="2.8" fill="#EE3F2F"/><ellipse cx="75" cy="45" rx="3.2" ry="2.8" fill="#EE3F2F"/><ellipse cx="175" cy="45" rx="3.2" ry="2.8" fill="#EE3F2F"/><ellipse cx="125" cy="42" rx="3.2" ry="2.8" fill="#EE3F2F"/><ellipse cx="18" cy="75" rx="3.2" ry="2.8" fill="#EE3F2F"/><ellipse cx="232" cy="75" rx="3.2" ry="2.8" fill="#EE3F2F"/><ellipse cx="50" cy="70" rx="3.2" ry="2.8" fill="#EE3F2F"/><ellipse cx="200" cy="70" rx="3.2" ry="2.8" fill="#EE3F2F"/><ellipse cx="20" cy="115" rx="3.2" ry="2.8" fill="#EE3F2F"/><ellipse cx="230" cy="115" rx="3.2" ry="2.8" fill="#EE3F2F"/><ellipse cx="40" cy="110" rx="3.2" ry="2.8" fill="#EE3F2F"/><ellipse cx="210" cy="110" rx="3.2" ry="2.8" fill="#EE3F2F"/><ellipse cx="88" cy="75" rx="3.2" ry="2.8" fill="#EE3F2F"/><ellipse cx="162" cy="75" rx="3.2" ry="2.8" fill="#EE3F2F"/><ellipse cx="125" cy="100" rx="3.2" ry="2.8" fill="#EE3F2F"/><ellipse cx="75" cy="108" rx="3.2" ry="2.8" fill="#EE3F2F"/><ellipse cx="175" cy="108" rx="3.2" ry="2.8" fill="#EE3F2F"/><ellipse cx="48" cy="88" rx="3.2" ry="2.8" fill="#2C3CA8"/><ellipse cx="202" cy="88" rx="3.2" ry="2.8" fill="#2C3CA8"/><ellipse cx="65" cy="92" rx="3.2" ry="2.8" fill="#2C3CA8"/><ellipse cx="185" cy="92" rx="3.2" ry="2.8" fill="#2C3CA8"/><ellipse cx="80" cy="98" rx="3.2" ry="2.8" fill="#2C3CA8"/><ellipse cx="170" cy="98" rx="3.2" ry="2.8" fill="#2C3CA8"/></g>
<g transform="translate(1252.0,560.0) scale(0.6080,0.5052)" fill="none" stroke-linecap="round"><path d="M213 62L108 0M213 62L86 70M232 123L50 61M198 50L86 70M244 84L13 98M213 62L88 145M208 177L120 131M247 160L162 136M208 177L173 127M232 123L151 146M228 159L173 127M218 93L173 127M198 50L151 146M213 62L99 87M208 118L22 75M247 121L62 135M218 93L125 32M158 20L77 98M158 20L50 61M158 20L86 70M139 36L46 18M139 36L113 50M139 36L65 49M185 37L77 98M185 37L113 50M185 37L71 10M139 36L14 149M158 20L120 131M158 20L138 13M158 20L99 87M158 20L125 32M185 37L138 13M185 37L35 113M185 37L99 87M185 37L62 135M185 37L125 32M140 114L77 98M140 114L113 50M178 166L77 98M140 114L175 216M140 114L120 131M178 166L120 131M178 166L126 181M178 166L25 200M140 114L173 127M178 166L173 127M140 114L24 151M178 166L24 151M108 0L3 86M46 18L1 111M46 18L13 98M46 18L14 149M77 98L14 149M65 49L3 86M65 49L1 111M65 49L13 98M97 26L1 111M97 26L1 135M97 26L13 98M50 61L3 86M50 61L13 98M86 70L7 162M86 70L13 98M86 70L14 149M71 10L14 149M46 18L175 216M77 98L126 181M113 50L77 189M113 50L120 131M113 50L126 181M65 49L120 131M50 61L175 216M50 61L88 145M86 70L179 179M86 70L126 181M71 10L120 131M71 10L126 181M113 50L52 248M65 49L52 248M65 49L38 244M65 49L34 213M50 61L47 192M86 70L52 248M86 70L21 224M71 10L52 248M71 10L59 179M46 18L173 127M113 50L162 136M108 0L138 13M108 0L30 51M108 0L35 113M108 0L99 87M108 0L24 151M46 18L30 51M46 18L99 87M46 18L125 32M77 98L24 151M77 98L62 135M113 50L138 13M113 50L30 51M113 50L22 75M113 50L35 113M113 50L99 87M113 50L62 135M65 49L30 51M65 49L62 135M65 49L125 32M97 26L138 13M97 26L22 75M97 26L125 32M50 61L30 51M50 61L22 75M50 61L99 87M50 61L24 151M50 61L62 135M50 61L125 32M86 70L30 51M86 70L22 75M86 70L99 87M86 70L24 151M71 10L30 51M71 10L22 75M71 10L35 113M71 10L99 87M1 111L120 131M1 135L179 179M1 135L77 189M1 135L88 145M13 98L126 181M3 86L65 239M3 86L25 200M1 135L25 200M1 135L47 192M1 135L34 213M7 162L65 239M7 162L52 248M7 162L21 224M7 162L47 192M13 98L21 224M13 98L34 213M14 149L25 200M14 149L34 213M14 149L59 179M3 86L30 51M3 86L22 75M3 86L99 87M3 86L125 32M1 111L138 13M1 111L22 75M1 111L35 113M1 111L99 87M1 111L62 135M1 135L35 113M1 135L24 151M1 135L125 32M7 162L22 75M7 162L99 87M7 162L24 151M7 162L62 135M13 98L138 13M13 98L30 51M13 98L22 75M13 98L35 113M13 98L99 87M13 98L24 151M13 98L62 135M14 149L35 113M14 149L24 151M14 149L125 32M175 216L25 200M77 189L65 239M77 189L21 224M120 131L21 224M88 145L65 239M88 145L52 248M88 145L21 224M126 181L52 248M175 216L151 146M77 189L162 136M126 181L173 127M126 181L162 136M126 181L151 146M179 179L138 13M179 179L35 113M179 179L99 87M179 179L125 32M175 216L99 87M175 216L62 135M77 189L30 51M120 131L22 75M120 131L35 113M120 131L99 87M120 131L24 151M88 145L30 51M88 145L35 113M88 145L24 151M88 145L62 135M126 181L138 13M126 181L62 135M47 192L151 146M59 179L151 146M65 239L35 113M52 248L24 151M38 244L138 13M38 244L35 113M38 244L125 32M21 224L30 51M21 224L99 87M25 200L62 135M47 192L99 87M47 192L125 32M34 213L35 113M34 213L99 87M59 179L30 51M59 179L35 113M59 179L62 135M162 136L138 13M151 146L30 51M138 13L22 75M138 13L99 87M30 51L22 75M30 51L35 113M30 51L99 87M30 51L62 135M22 75L35 113M22 75L62 135M35 113L24 151M35 113L62 135M99 87L24 151M99 87L62 135M99 87L125 32M24 151L62 135M24 151L125 32" stroke="#8B8B8B" stroke-width="1.45" vector-effect="non-scaling-stroke"/><path d="M179 179L175 216M179 179L77 189M179 179L88 145M179 179L126 181M175 216L120 131M175 216L126 181M77 189L120 131M77 189L88 145M77 189L126 181M120 131L126 181M88 145L126 181" stroke="#EFC21C" stroke-width="1.80" vector-effect="non-scaling-stroke"/><path d="M108 0L77 98M108 0L65 49M108 0L97 26M46 18L65 49M46 18L97 26M46 18L50 61M46 18L86 70M113 50L97 26M113 50L86 70M113 50L71 10M65 49L97 26M65 49L50 61M65 49L86 70M65 49L71 10M97 26L50 61M97 26L71 10M50 61L71 10M86 70L71 10" stroke="#8DC441" stroke-width="1.80" vector-effect="non-scaling-stroke"/><path d="M3 86L1 111M3 86L1 135M3 86L13 98M3 86L14 149M1 111L1 135M1 111L7 162M1 111L13 98M1 111L14 149M1 135L7 162M1 135L13 98M7 162L13 98M7 162L14 149M13 98L14 149" stroke="#1EB3CE" stroke-width="2.20" vector-effect="non-scaling-stroke"/><path d="M65 239L38 244M65 239L21 224M65 239L25 200M65 239L47 192M65 239L34 213M52 248L38 244M52 248L21 224M52 248L47 192M52 248L34 213M52 248L59 179M38 244L21 224M38 244L47 192M38 244L34 213M38 244L59 179M21 224L25 200M21 224L47 192M21 224L34 213M21 224L59 179M25 200L47 192M25 200L34 213M25 200L59 179M47 192L59 179M34 213L59 179" stroke="#E01E6A" stroke-width="1.70" vector-effect="non-scaling-stroke"/><path d="M244 84L238 175M244 84L213 62M244 84L208 118M244 84L232 123M244 84L247 121M244 84L222 72M244 84L228 159M244 84L218 93M244 84L198 50M247 160L238 175M247 160L213 62M247 160L208 177M247 160L208 118M247 160L222 72M247 160L228 159M247 160L218 93M238 175L213 62M238 175L208 177M238 175L208 118M238 175L232 123M238 175L247 121M238 175L222 72M238 175L228 159M238 175L218 93M238 175L198 50M213 62L208 118M213 62L232 123M213 62L247 121M213 62L222 72M213 62L228 159M213 62L198 50M208 177L208 118M208 177L247 121M208 177L222 72M208 177L228 159M208 177L218 93M208 177L198 50M208 118L232 123M208 118L247 121M208 118L222 72M208 118L218 93M232 123L247 121M232 123L222 72M232 123L228 159M232 123L218 93M232 123L198 50M247 121L222 72M247 121L228 159M247 121L218 93M222 72L228 159M222 72L218 93M228 159L218 93M218 93L198 50M244 84L185 37M213 62L158 20M213 62L139 36M213 62L185 37M208 177L158 20M208 118L185 37M232 123L185 37M247 121L158 20M247 121L139 36M222 72L158 20M222 72L139 36M228 159L139 36M218 93L185 37M198 50L158 20M198 50L139 36M244 84L140 114M247 160L178 166M158 20L139 36M158 20L185 37M139 36L185 37M158 20L140 114M139 36L178 166" stroke="#EE3F2F" stroke-width="2.00" vector-effect="non-scaling-stroke"/><path d="M173 127L162 136M173 127L151 146M162 136L151 146" stroke="#2C3CA8" stroke-width="1.80" vector-effect="non-scaling-stroke"/><ellipse cx="179" cy="179" rx="2.6" ry="3.2" fill="#EFC21C"/><ellipse cx="175" cy="216" rx="2.6" ry="3.2" fill="#EFC21C"/><ellipse cx="77" cy="189" rx="2.6" ry="3.2" fill="#EFC21C"/><ellipse cx="120" cy="131" rx="2.6" ry="3.2" fill="#EFC21C"/><ellipse cx="88" cy="145" rx="2.6" ry="3.2" fill="#EFC21C"/><ellipse cx="126" cy="181" rx="2.6" ry="3.2" fill="#EFC21C"/><ellipse cx="108" cy="0" rx="2.6" ry="3.2" fill="#8DC441"/><ellipse cx="46" cy="18" rx="2.6" ry="3.2" fill="#8DC441"/><ellipse cx="77" cy="98" rx="2.6" ry="3.2" fill="#8DC441"/><ellipse cx="113" cy="50" rx="2.6" ry="3.2" fill="#8DC441"/><ellipse cx="65" cy="49" rx="2.6" ry="3.2" fill="#8DC441"/><ellipse cx="97" cy="26" rx="2.6" ry="3.2" fill="#8DC441"/><ellipse cx="50" cy="61" rx="2.6" ry="3.2" fill="#8DC441"/><ellipse cx="86" cy="70" rx="2.6" ry="3.2" fill="#8DC441"/><ellipse cx="71" cy="10" rx="2.6" ry="3.2" fill="#8DC441"/><ellipse cx="3" cy="86" rx="2.6" ry="3.2" fill="#1EB3CE"/><ellipse cx="1" cy="111" rx="2.6" ry="3.2" fill="#1EB3CE"/><ellipse cx="1" cy="135" rx="2.6" ry="3.2" fill="#1EB3CE"/><ellipse cx="7" cy="162" rx="2.6" ry="3.2" fill="#1EB3CE"/><ellipse cx="13" cy="98" rx="2.6" ry="3.2" fill="#1EB3CE"/><ellipse cx="14" cy="149" rx="2.6" ry="3.2" fill="#1EB3CE"/><ellipse cx="65" cy="239" rx="2.6" ry="3.2" fill="#E01E6A"/><ellipse cx="52" cy="248" rx="2.6" ry="3.2" fill="#E01E6A"/><ellipse cx="38" cy="244" rx="2.6" ry="3.2" fill="#E01E6A"/><ellipse cx="21" cy="224" rx="2.6" ry="3.2" fill="#E01E6A"/><ellipse cx="25" cy="200" rx="2.6" ry="3.2" fill="#E01E6A"/><ellipse cx="47" cy="192" rx="2.6" ry="3.2" fill="#E01E6A"/><ellipse cx="34" cy="213" rx="2.6" ry="3.2" fill="#E01E6A"/><ellipse cx="59" cy="179" rx="2.6" ry="3.2" fill="#E01E6A"/><ellipse cx="244" cy="84" rx="2.6" ry="3.2" fill="#EE3F2F"/><ellipse cx="247" cy="160" rx="2.6" ry="3.2" fill="#EE3F2F"/><ellipse cx="238" cy="175" rx="2.6" ry="3.2" fill="#EE3F2F"/><ellipse cx="213" cy="62" rx="2.6" ry="3.2" fill="#EE3F2F"/><ellipse cx="208" cy="177" rx="2.6" ry="3.2" fill="#EE3F2F"/><ellipse cx="208" cy="118" rx="2.6" ry="3.2" fill="#EE3F2F"/><ellipse cx="232" cy="123" rx="2.6" ry="3.2" fill="#EE3F2F"/><ellipse cx="247" cy="121" rx="2.6" ry="3.2" fill="#EE3F2F"/><ellipse cx="222" cy="72" rx="2.6" ry="3.2" fill="#EE3F2F"/><ellipse cx="228" cy="159" rx="2.6" ry="3.2" fill="#EE3F2F"/><ellipse cx="218" cy="93" rx="2.6" ry="3.2" fill="#EE3F2F"/><ellipse cx="198" cy="50" rx="2.6" ry="3.2" fill="#EE3F2F"/><ellipse cx="158" cy="20" rx="2.6" ry="3.2" fill="#EE3F2F"/><ellipse cx="139" cy="36" rx="2.6" ry="3.2" fill="#EE3F2F"/><ellipse cx="185" cy="37" rx="2.6" ry="3.2" fill="#EE3F2F"/><ellipse cx="140" cy="114" rx="2.6" ry="3.2" fill="#EE3F2F"/><ellipse cx="178" cy="166" rx="2.6" ry="3.2" fill="#EE3F2F"/><ellipse cx="173" cy="127" rx="2.6" ry="3.2" fill="#2C3CA8"/><ellipse cx="162" cy="136" rx="2.6" ry="3.2" fill="#2C3CA8"/><ellipse cx="151" cy="146" rx="2.6" ry="3.2" fill="#2C3CA8"/></g>
<line x1="930" y1="855.0" x2="1375" y2="855.0" stroke="#E2E2E2" stroke-width="1.2"/>
<text x="914.0" y="860.5" font-family="'Liberation Sans', Arial, sans-serif" font-size="15.5" font-weight="bold" fill="#595959" text-anchor="end" textLength="9.1" lengthAdjust="spacingAndGlyphs">0</text>
<line x1="930" y1="835.0" x2="1375" y2="835.0" stroke="#E2E2E2" stroke-width="1.2"/>
<text x="914.0" y="840.5" font-family="'Liberation Sans', Arial, sans-serif" font-size="15.5" font-weight="bold" fill="#595959" text-anchor="end" textLength="18.2" lengthAdjust="spacingAndGlyphs">50</text>
<line x1="930" y1="815.0" x2="1375" y2="815.0" stroke="#E2E2E2" stroke-width="1.2"/>
<text x="914.0" y="820.5" font-family="'Liberation Sans', Arial, sans-serif" font-size="15.5" font-weight="bold" fill="#595959" text-anchor="end" textLength="27.3" lengthAdjust="spacingAndGlyphs">100</text>
<line x1="930" y1="795.0" x2="1375" y2="795.0" stroke="#E2E2E2" stroke-width="1.2"/>
<text x="914.0" y="800.5" font-family="'Liberation Sans', Arial, sans-serif" font-size="15.5" font-weight="bold" fill="#595959" text-anchor="end" textLength="27.3" lengthAdjust="spacingAndGlyphs">150</text>
<line x1="930" y1="775.0" x2="1375" y2="775.0" stroke="#E2E2E2" stroke-width="1.2"/>
<text x="914.0" y="780.5" font-family="'Liberation Sans', Arial, sans-serif" font-size="15.5" font-weight="bold" fill="#595959" text-anchor="end" textLength="27.3" lengthAdjust="spacingAndGlyphs">200</text>
<line x1="930" y1="755.0" x2="1375" y2="755.0" stroke="#E2E2E2" stroke-width="1.2"/>
<text x="914.0" y="760.5" font-family="'Liberation Sans', Arial, sans-serif" font-size="15.5" font-weight="bold" fill="#595959" text-anchor="end" textLength="27.3" lengthAdjust="spacingAndGlyphs">250</text>
<line x1="930" y1="735.0" x2="1375" y2="735.0" stroke="#E2E2E2" stroke-width="1.2"/>
<text x="914.0" y="740.5" font-family="'Liberation Sans', Arial, sans-serif" font-size="15.5" font-weight="bold" fill="#595959" text-anchor="end" textLength="27.3" lengthAdjust="spacingAndGlyphs">300</text>
<line x1="930" y1="715.0" x2="1375" y2="715.0" stroke="#E2E2E2" stroke-width="1.2"/>
<text x="914.0" y="720.5" font-family="'Liberation Sans', Arial, sans-serif" font-size="15.5" font-weight="bold" fill="#595959" text-anchor="end" textLength="27.3" lengthAdjust="spacingAndGlyphs">350</text>
<text x="1387.0" y="859.1" font-family="'Liberation Sans', Arial, sans-serif" font-size="10.2" font-weight="bold" fill="#595959" textLength="5.9" lengthAdjust="spacingAndGlyphs">0</text>
<text x="1387.0" y="831.0" font-family="'Liberation Sans', Arial, sans-serif" font-size="10.2" font-weight="bold" fill="#595959" textLength="21.0" lengthAdjust="spacingAndGlyphs">0.05</text>
<text x="1387.0" y="802.9" font-family="'Liberation Sans', Arial, sans-serif" font-size="10.2" font-weight="bold" fill="#595959" textLength="15.1" lengthAdjust="spacingAndGlyphs">0.1</text>
<text x="1387.0" y="774.9" font-family="'Liberation Sans', Arial, sans-serif" font-size="10.2" font-weight="bold" fill="#595959" textLength="21.0" lengthAdjust="spacingAndGlyphs">0.15</text>
<text x="1387.0" y="746.8" font-family="'Liberation Sans', Arial, sans-serif" font-size="10.2" font-weight="bold" fill="#595959" textLength="15.1" lengthAdjust="spacingAndGlyphs">0.2</text>
<text x="1387.0" y="718.6" font-family="'Liberation Sans', Arial, sans-serif" font-size="10.2" font-weight="bold" fill="#595959" textLength="21.0" lengthAdjust="spacingAndGlyphs">0.25</text>
<rect x="949.1" y="728.6" width="37.0" height="126.4" fill="#5195DA"/>
<rect x="1023.3" y="822.2" width="37.0" height="32.8" fill="#5195DA"/>
<rect x="1097.6" y="793.4" width="37.0" height="61.6" fill="#5195DA"/>
<rect x="1171.8" y="774.2" width="37.0" height="80.8" fill="#5195DA"/>
<rect x="1246.0" y="845.4" width="37.0" height="9.6" fill="#5195DA"/>
<rect x="1320.2" y="828.6" width="37.0" height="26.4" fill="#5195DA"/>
<polyline points="967.6,744.5 1041.8,779.0 1116.1,760.4 1190.3,745.9 1264.5,723.3 1338.8,744.4" fill="none" stroke="#ED7D31" stroke-width="2.6" stroke-linejoin="round"/>
<circle cx="967.6" cy="744.5" r="3.2" fill="#ED7D31"/>
<circle cx="1041.8" cy="779.0" r="3.2" fill="#ED7D31"/>
<circle cx="1116.1" cy="760.4" r="3.2" fill="#ED7D31"/>
<circle cx="1190.3" cy="745.9" r="3.2" fill="#ED7D31"/>
<circle cx="1264.5" cy="723.3" r="3.2" fill="#ED7D31"/>
<circle cx="1338.8" cy="744.4" r="3.2" fill="#ED7D31"/>
<line x1="986" y1="740" x2="997" y2="737" stroke="#B4CCE6" stroke-width="1"/>
<text x="967.5" y="718.3" font-family="'Liberation Sans', Arial, sans-serif" font-size="16" font-weight="bold" fill="#285A80" text-anchor="middle" textLength="26.2" lengthAdjust="spacingAndGlyphs">316</text>
<text x="1042.5" y="812.1" font-family="'Liberation Sans', Arial, sans-serif" font-size="16" font-weight="bold" fill="#285A80" text-anchor="middle" textLength="17.5" lengthAdjust="spacingAndGlyphs">82</text>
<text x="1117.3" y="782.7" font-family="'Liberation Sans', Arial, sans-serif" font-size="16" font-weight="bold" fill="#285A80" text-anchor="middle" textLength="26.2" lengthAdjust="spacingAndGlyphs">154</text>
<text x="1190.6" y="763.9" font-family="'Liberation Sans', Arial, sans-serif" font-size="16" font-weight="bold" fill="#285A80" text-anchor="middle" textLength="26.2" lengthAdjust="spacingAndGlyphs">202</text>
<text x="1265.0" y="835.4" font-family="'Liberation Sans', Arial, sans-serif" font-size="16" font-weight="bold" fill="#285A80" text-anchor="middle" textLength="17.5" lengthAdjust="spacingAndGlyphs">24</text>
<text x="1338.8" y="817.9" font-family="'Liberation Sans', Arial, sans-serif" font-size="16" font-weight="bold" fill="#285A80" text-anchor="middle" textLength="17.5" lengthAdjust="spacingAndGlyphs">66</text>
<text x="1025.6" y="742.7" font-family="'Liberation Sans', Arial, sans-serif" font-size="16" font-weight="bold" fill="#B95F2A" text-anchor="middle" textLength="55.3" lengthAdjust="spacingAndGlyphs">19.75%</text>
<text x="1041.3" y="795.4" font-family="'Liberation Sans', Arial, sans-serif" font-size="16" font-weight="bold" fill="#B95F2A" text-anchor="middle" textLength="55.3" lengthAdjust="spacingAndGlyphs">13.62%</text>
<text x="1117.0" y="746.4" font-family="'Liberation Sans', Arial, sans-serif" font-size="16" font-weight="bold" fill="#B95F2A" text-anchor="middle" textLength="55.3" lengthAdjust="spacingAndGlyphs">16.92%</text>
<text x="1191.3" y="732.1" font-family="'Liberation Sans', Arial, sans-serif" font-size="16" font-weight="bold" fill="#B95F2A" text-anchor="middle" textLength="55.3" lengthAdjust="spacingAndGlyphs">19.50%</text>
<text x="1264.4" y="709.3" font-family="'Liberation Sans', Arial, sans-serif" font-size="16" font-weight="bold" fill="#B95F2A" text-anchor="middle" textLength="55.3" lengthAdjust="spacingAndGlyphs">23.53%</text>
<text x="1338.8" y="731.2" font-family="'Liberation Sans', Arial, sans-serif" font-size="16" font-weight="bold" fill="#B95F2A" text-anchor="middle" textLength="55.3" lengthAdjust="spacingAndGlyphs">19.76%</text>
<text transform="translate(973.1,881.5) rotate(-45)" text-anchor="end" font-family="'Liberation Sans', Arial, sans-serif" font-weight="bold" fill="#000"><tspan font-size="19.5">F</tspan><tspan font-size="16.6">RONTAL</tspan></text>
<text transform="translate(1047.3,881.5) rotate(-45)" text-anchor="end" font-family="'Liberation Sans', Arial, sans-serif" font-weight="bold" fill="#000"><tspan font-size="19.5">T</tspan><tspan font-size="16.6">EMPORAL</tspan></text>
<text transform="translate(1121.6,881.5) rotate(-45)" text-anchor="end" font-family="'Liberation Sans', Arial, sans-serif" font-weight="bold" fill="#000"><tspan font-size="19.5">P</tspan><tspan font-size="16.6">ARIETAL</tspan></text>
<text transform="translate(1195.8,881.5) rotate(-45)" text-anchor="end" font-family="'Liberation Sans', Arial, sans-serif" font-weight="bold" fill="#000"><tspan font-size="19.5">O</tspan><tspan font-size="16.6">CCIPITAL</tspan></text>
<text transform="translate(1270.0,881.5) rotate(-45)" text-anchor="end" font-family="'Liberation Sans', Arial, sans-serif" font-weight="bold" fill="#000"><tspan font-size="19.5">S</tspan><tspan font-size="16.6">UBCORTICAL</tspan></text>
<text transform="translate(1344.2,881.5) rotate(-45)" text-anchor="end" font-family="'Liberation Sans', Arial, sans-serif" font-weight="bold" fill="#000"><tspan font-size="19.5">C</tspan><tspan font-size="16.6">EREBELLAR</tspan></text>
<rect x="939.7" y="967.3" width="42.9" height="19.9" fill="#5195DA"/>
<text x="997.6" y="984.6" font-family="'Liberation Sans', Arial, sans-serif" font-size="20" fill="#262626" textLength="196.7" lengthAdjust="spacingAndGlyphs">Connected Number</text>
<line x1="1217.3" y1="977.3" x2="1273.7" y2="977.3" stroke="#ED7D31" stroke-width="3"/>
<circle cx="1245.5" cy="977.3" r="5" fill="#ED7D31"/>
<text x="1287.2" y="984.6" font-family="'Liberation Sans', Arial, sans-serif" font-size="20" fill="#262626" textLength="104.1" lengthAdjust="spacingAndGlyphs">Proportion</text>
</svg></body></html>
